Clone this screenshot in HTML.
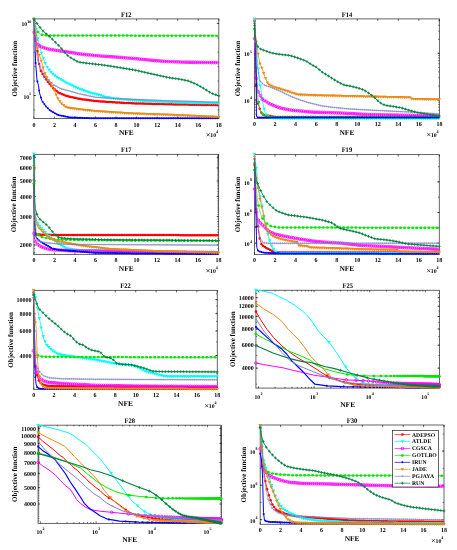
<!DOCTYPE html>
<html><head><meta charset="utf-8"><style>
html,body{margin:0;padding:0;background:#fff;}
svg{display:block;will-change:transform;text-rendering:geometricPrecision;}
text{fill:#000;}
</style></head><body>
<svg width="457" height="550" viewBox="0 0 457 550" font-family='"Liberation Serif", serif'>
<rect width="457" height="550" fill="#fff"/>
<defs><marker id="mADEPSO" markerUnits="userSpaceOnUse" markerWidth="6" markerHeight="6" refX="0" refY="0" viewBox="-3 -3 6 6" overflow="visible"><circle r="1.25" fill="#ff0000"/></marker><marker id="mATLDE" markerUnits="userSpaceOnUse" markerWidth="6" markerHeight="6" refX="0" refY="0" viewBox="-3 -3 6 6" overflow="visible"><path d="M-1.75,-1.2 L1.75,-1.2 L0,1.75Z" fill="#00ffff"/></marker><marker id="mCGSCA" markerUnits="userSpaceOnUse" markerWidth="6" markerHeight="6" refX="0" refY="0" viewBox="-3 -3 6 6" overflow="visible"><circle r="1.35" fill="none" stroke="#ff00ff" stroke-width="0.8"/></marker><marker id="mGOTLBO" markerUnits="userSpaceOnUse" markerWidth="6" markerHeight="6" refX="0" refY="0" viewBox="-3 -3 6 6" overflow="visible"><ellipse rx="1.5" ry="1.25" fill="#00e600"/></marker><marker id="mIRUN" markerUnits="userSpaceOnUse" markerWidth="6" markerHeight="6" refX="0" refY="0" viewBox="-3 -3 6 6" overflow="visible"><circle r="1.0" fill="#0000ff"/></marker><marker id="mJADE" markerUnits="userSpaceOnUse" markerWidth="6" markerHeight="6" refX="0" refY="0" viewBox="-3 -3 6 6" overflow="visible"><path d="M-1.7,-1.1 L1.7,-1.1 L0,1.7Z" fill="#ec8a12"/></marker><marker id="mPGJAYA" markerUnits="userSpaceOnUse" markerWidth="6" markerHeight="6" refX="0" refY="0" viewBox="-3 -3 6 6" overflow="visible"><path d="M-1,0H1M0,-1V1" stroke="#8080c0" stroke-width="0.5"/></marker><marker id="mRUN" markerUnits="userSpaceOnUse" markerWidth="6" markerHeight="6" refX="0" refY="0" viewBox="-3 -3 6 6" overflow="visible"><path d="M-1.4,0H1.4M0,-1.4V1.4" stroke="#008040" stroke-width="0.8"/></marker></defs>
<rect x="33.9" y="18.9" width="184.9" height="99.6" fill="none" stroke="#555" stroke-width="0.9"/>
<path d="M33.90,118.5v-2.0 M33.90,18.9v2.0" stroke="#000" stroke-width="0.6"/>
<text x="33.90" y="126.50" text-anchor="middle" font-size="6.0" font-weight="bold">0</text>
<path d="M54.44,118.5v-2.0 M54.44,18.9v2.0" stroke="#000" stroke-width="0.6"/>
<text x="54.44" y="126.50" text-anchor="middle" font-size="6.0" font-weight="bold">2</text>
<path d="M74.99,118.5v-2.0 M74.99,18.9v2.0" stroke="#000" stroke-width="0.6"/>
<text x="74.99" y="126.50" text-anchor="middle" font-size="6.0" font-weight="bold">4</text>
<path d="M95.53,118.5v-2.0 M95.53,18.9v2.0" stroke="#000" stroke-width="0.6"/>
<text x="95.53" y="126.50" text-anchor="middle" font-size="6.0" font-weight="bold">6</text>
<path d="M116.08,118.5v-2.0 M116.08,18.9v2.0" stroke="#000" stroke-width="0.6"/>
<text x="116.08" y="126.50" text-anchor="middle" font-size="6.0" font-weight="bold">8</text>
<path d="M136.62,118.5v-2.0 M136.62,18.9v2.0" stroke="#000" stroke-width="0.6"/>
<text x="136.62" y="126.50" text-anchor="middle" font-size="6.0" font-weight="bold">10</text>
<path d="M157.17,118.5v-2.0 M157.17,18.9v2.0" stroke="#000" stroke-width="0.6"/>
<text x="157.17" y="126.50" text-anchor="middle" font-size="6.0" font-weight="bold">12</text>
<path d="M177.71,118.5v-2.0 M177.71,18.9v2.0" stroke="#000" stroke-width="0.6"/>
<text x="177.71" y="126.50" text-anchor="middle" font-size="6.0" font-weight="bold">14</text>
<path d="M198.26,118.5v-2.0 M198.26,18.9v2.0" stroke="#000" stroke-width="0.6"/>
<text x="198.26" y="126.50" text-anchor="middle" font-size="6.0" font-weight="bold">16</text>
<path d="M218.80,118.5v-2.0 M218.80,18.9v2.0" stroke="#000" stroke-width="0.6"/>
<text x="218.80" y="126.50" text-anchor="middle" font-size="6.0" font-weight="bold">18</text>
<path d="M33.9,23.40h2 M218.8,23.40h-2" stroke="#000" stroke-width="0.6"/>
<text x="27.00" y="26.40" text-anchor="end" font-size="5.6" font-weight="bold">10</text>
<text x="27.30" y="22.80" font-size="4" font-weight="bold">10</text>
<path d="M33.9,95.50h2 M218.8,95.50h-2" stroke="#000" stroke-width="0.6"/>
<text x="29.00" y="98.50" text-anchor="end" font-size="5.6" font-weight="bold">10</text>
<text x="29.30" y="94.90" font-size="4" font-weight="bold">5</text>
<path d="M33.9,23.40h1.3 M218.8,23.40h-1.3" stroke="#000" stroke-width="0.5"/>
<path d="M33.9,37.82h1.3 M218.8,37.82h-1.3" stroke="#000" stroke-width="0.5"/>
<path d="M33.9,52.24h1.3 M218.8,52.24h-1.3" stroke="#000" stroke-width="0.5"/>
<path d="M33.9,66.66h1.3 M218.8,66.66h-1.3" stroke="#000" stroke-width="0.5"/>
<path d="M33.9,81.08h1.3 M218.8,81.08h-1.3" stroke="#000" stroke-width="0.5"/>
<path d="M33.9,95.50h1.3 M218.8,95.50h-1.3" stroke="#000" stroke-width="0.5"/>
<path d="M33.9,109.92h1.3 M218.8,109.92h-1.3" stroke="#000" stroke-width="0.5"/>
<path d="M34.0,19.0 36.4,42.3 38.6,61.4 40.3,70.0 44.9,77.6 48.7,83.0 53.3,88.3 57.8,92.1 62.4,94.4 68.0,96.3 80.0,99.0 95.0,101.0 115.0,102.4 135.0,103.4 165.0,104.2 219.0,105.2" fill="none" stroke="#ff0000" stroke-width="0.80" stroke-linejoin="round"/>
<path d="M34.0,19.0 35.6,35.0 37.4,50.9 39.1,64.1 40.9,71.0 42.6,73.9 44.4,76.7 46.1,79.3 47.9,81.8 49.6,84.1 51.4,86.1 53.1,88.1 54.9,89.6 56.6,91.1 58.3,92.4 60.1,93.2 61.8,94.1 63.6,94.8 65.3,95.4 67.1,96.0 68.8,96.5 70.6,96.9 72.3,97.3 74.1,97.7 75.8,98.1 77.6,98.5 79.3,98.8 81.0,99.1 82.8,99.4 84.5,99.6 86.3,99.8 88.0,100.1 89.8,100.3 91.5,100.5 93.3,100.8 95.0,101.0 96.8,101.1 98.5,101.2 100.3,101.4 102.0,101.5 103.8,101.6 105.5,101.7 107.2,101.9 109.0,102.0 110.7,102.1 112.5,102.2 114.2,102.3 116.0,102.4 117.7,102.5 119.5,102.6 121.2,102.7 123.0,102.8 124.7,102.9 126.5,103.0 128.2,103.1 129.9,103.1 131.7,103.2 133.4,103.3 135.2,103.4 136.9,103.5 138.7,103.5 140.4,103.5 142.2,103.6 143.9,103.6 145.7,103.7 147.4,103.7 149.2,103.8 150.9,103.8 152.6,103.9 154.4,103.9 156.1,104.0 157.9,104.0 159.6,104.1 161.4,104.1 163.1,104.1 164.9,104.2 166.6,104.2 168.4,104.3 170.1,104.3 171.9,104.3 173.6,104.4 175.3,104.4 177.1,104.4 178.8,104.5 180.6,104.5 182.3,104.5 184.1,104.6 185.8,104.6 187.6,104.6 189.3,104.7 191.1,104.7 192.8,104.7 194.6,104.7 196.3,104.8 198.1,104.8 199.8,104.8 201.5,104.9 203.3,104.9 205.0,104.9 206.8,105.0 208.5,105.0 210.3,105.0 212.0,105.1 213.8,105.1 215.5,105.1 217.3,105.2" fill="none" stroke="none" marker-start="url(#mADEPSO)" marker-mid="url(#mADEPSO)" marker-end="url(#mADEPSO)"/>
<path d="M34.0,19.0 35.0,25.0 36.5,33.0 38.5,42.0 40.5,49.0 42.0,55.0 44.0,60.0 46.0,65.0 48.0,68.5 50.0,71.0 53.0,74.0 56.0,76.5 60.0,79.0 65.0,82.0 70.0,84.5 75.0,87.0 80.0,89.0 90.0,92.8 100.0,95.0 105.0,97.0 115.0,98.6 135.0,100.4 155.0,101.6 185.0,102.6 219.0,103.4" fill="none" stroke="#00ffff" stroke-width="0.80" stroke-linejoin="round"/>
<path d="M34.0,19.0 35.8,29.3 37.7,38.4 39.6,45.9 41.5,53.0 43.4,58.5 45.3,63.3 47.2,67.1 49.1,69.9 51.0,72.0 52.9,73.9 54.8,75.5 56.7,76.9 58.6,78.1 60.5,79.3 62.4,80.4 64.3,81.6 66.2,82.6 68.1,83.6 70.0,84.5 71.9,85.5 73.8,86.4 75.7,87.3 77.6,88.0 79.5,88.8 81.4,89.5 83.3,90.3 85.2,91.0 87.1,91.7 89.0,92.4 90.9,93.0 92.8,93.4 94.7,93.8 96.6,94.3 98.5,94.7 100.4,95.2 102.3,95.9 104.2,96.7 106.1,97.2 108.0,97.5 109.9,97.8 111.8,98.1 113.7,98.4 115.6,98.7 117.5,98.8 119.4,99.0 121.3,99.2 123.2,99.3 125.1,99.5 127.0,99.7 128.9,99.9 130.8,100.0 132.7,100.2 134.6,100.4 136.5,100.5 138.4,100.6 140.3,100.7 142.2,100.8 144.1,100.9 146.0,101.1 147.9,101.2 149.8,101.3 151.7,101.4 153.6,101.5 155.5,101.6 157.4,101.7 159.3,101.7 161.2,101.8 163.1,101.9 165.0,101.9 166.9,102.0 168.8,102.1 170.7,102.1 172.6,102.2 174.5,102.3 176.4,102.3 178.3,102.4 180.2,102.4 182.1,102.5 184.0,102.6 185.9,102.6 187.8,102.7 189.7,102.7 191.6,102.8 193.5,102.8 195.4,102.8 197.3,102.9 199.2,102.9 201.1,103.0 203.0,103.0 204.9,103.1 206.8,103.1 208.7,103.2 210.6,103.2 212.5,103.2 214.4,103.3 216.3,103.3 218.2,103.4" fill="none" stroke="none" marker-start="url(#mATLDE)" marker-mid="url(#mATLDE)" marker-end="url(#mATLDE)"/>
<path d="M34.0,32.3 35.5,39.5 37.3,44.1 40.9,46.8 48.2,49.1 57.3,50.5 70.0,52.3 80.0,54.0 90.0,55.0 100.0,56.0 115.0,57.0 135.0,58.6 155.0,60.6 165.0,61.4 185.0,62.2 219.0,62.6" fill="none" stroke="#ff00ff" stroke-width="0.80" stroke-linejoin="round"/>
<path d="M34.0,32.3 35.9,40.4 37.8,44.5 39.8,45.9 41.7,47.1 43.7,47.7 45.6,48.3 47.6,48.9 49.5,49.3 51.5,49.6 53.4,49.9 55.4,50.2 57.3,50.5 59.3,50.8 61.2,51.1 63.2,51.3 65.1,51.6 67.1,51.9 69.0,52.2 71.0,52.5 72.9,52.8 74.9,53.1 76.8,53.5 78.8,53.8 80.7,54.1 82.7,54.3 84.6,54.5 86.6,54.7 88.5,54.9 90.5,55.0 92.5,55.2 94.4,55.4 96.4,55.6 98.3,55.8 100.3,56.0 102.2,56.1 104.2,56.3 106.1,56.4 108.1,56.5 110.0,56.7 112.0,56.8 113.9,56.9 115.9,57.1 117.8,57.2 119.8,57.4 121.7,57.5 123.7,57.7 125.6,57.9 127.6,58.0 129.5,58.2 131.5,58.3 133.4,58.5 135.4,58.6 137.3,58.8 139.3,59.0 141.2,59.2 143.2,59.4 145.1,59.6 147.1,59.8 149.1,60.0 151.0,60.2 153.0,60.4 154.9,60.6 156.9,60.7 158.8,60.9 160.8,61.1 162.7,61.2 164.7,61.4 166.6,61.5 168.6,61.5 170.5,61.6 172.5,61.7 174.4,61.8 176.4,61.9 178.3,61.9 180.3,62.0 182.2,62.1 184.2,62.2 186.1,62.2 188.1,62.2 190.0,62.3 192.0,62.3 193.9,62.3 195.9,62.3 197.8,62.4 199.8,62.4 201.7,62.4 203.7,62.4 205.7,62.4 207.6,62.5 209.6,62.5 211.5,62.5 213.5,62.5 215.4,62.6 217.4,62.6" fill="none" stroke="none" marker-start="url(#mCGSCA)" marker-mid="url(#mCGSCA)" marker-end="url(#mCGSCA)"/>
<path d="M34.0,19.0 34.1,20.5 36.4,28.6 38.2,32.7 40.9,34.5 48.2,35.6 219.0,35.7" fill="none" stroke="#00ee00" stroke-width="0.60" stroke-linejoin="round"/>
<path d="M34.0,19.0 38.0,32.1 42.0,34.7 46.1,35.3 50.1,35.6 54.2,35.6 58.2,35.6 62.3,35.6 66.4,35.6 70.4,35.6 74.5,35.6 78.5,35.6 82.6,35.6 86.6,35.6 90.7,35.6 94.8,35.6 98.8,35.6 102.9,35.6 106.9,35.6 111.0,35.6 115.1,35.6 119.1,35.6 123.2,35.6 127.2,35.6 131.3,35.6 135.3,35.7 139.4,35.7 143.5,35.7 147.5,35.7 151.6,35.7 155.6,35.7 159.7,35.7 163.7,35.7 167.8,35.7 171.9,35.7 175.9,35.7 180.0,35.7 184.0,35.7 188.1,35.7 192.1,35.7 196.2,35.7 200.3,35.7 204.3,35.7 208.4,35.7 212.4,35.7 216.5,35.7" fill="none" stroke="none" marker-start="url(#mGOTLBO)" marker-mid="url(#mGOTLBO)" marker-end="url(#mGOTLBO)"/>
<path d="M34.0,19.0 34.5,30.0 35.0,42.3 35.6,62.3 37.0,80.0 38.4,85.3 39.5,92.9 41.8,100.5 45.6,105.9 50.2,110.5 58.0,115.0 70.0,117.4 90.0,118.2 219.0,118.3" fill="none" stroke="#0000ff" stroke-width="1.00" stroke-linejoin="round"/>
<path d="M34.0,19.0 35.6,62.9 37.4,81.5 39.1,90.4 40.9,97.5 42.6,101.7 44.4,104.2 46.1,106.4 47.9,108.2 49.6,109.9 51.4,111.2 53.1,112.2 54.9,113.2 56.6,114.2 58.3,115.1 60.1,115.4 61.8,115.8 63.6,116.1 65.3,116.5 67.1,116.8 68.8,117.2 70.6,117.4 72.3,117.5 74.1,117.6 75.8,117.6 77.6,117.7 79.3,117.8 81.0,117.8 82.8,117.9 84.5,118.0 86.3,118.1 88.0,118.1 89.8,118.2 91.5,118.2 93.3,118.2 95.0,118.2 96.8,118.2 98.5,118.2 100.3,118.2 102.0,118.2 103.8,118.2 105.5,118.2 107.2,118.2 109.0,118.2 110.7,118.2 112.5,118.2 114.2,118.2 116.0,118.2 117.7,118.2 119.5,118.2 121.2,118.2 123.0,118.2 124.7,118.2 126.5,118.2 128.2,118.2 129.9,118.2 131.7,118.2 133.4,118.2 135.2,118.2 136.9,118.2 138.7,118.2 140.4,118.2 142.2,118.2 143.9,118.2 145.7,118.2 147.4,118.2 149.2,118.2 150.9,118.2 152.6,118.2 154.4,118.2 156.1,118.3 157.9,118.3 159.6,118.3 161.4,118.3 163.1,118.3 164.9,118.3 166.6,118.3 168.4,118.3 170.1,118.3 171.9,118.3 173.6,118.3 175.3,118.3 177.1,118.3 178.8,118.3 180.6,118.3 182.3,118.3 184.1,118.3 185.8,118.3 187.6,118.3 189.3,118.3 191.1,118.3 192.8,118.3 194.6,118.3 196.3,118.3 198.1,118.3 199.8,118.3 201.5,118.3 203.3,118.3 205.0,118.3 206.8,118.3 208.5,118.3 210.3,118.3 212.0,118.3 213.8,118.3 215.5,118.3 217.3,118.3" fill="none" stroke="none" marker-start="url(#mIRUN)" marker-mid="url(#mIRUN)" marker-end="url(#mIRUN)"/>
<path d="M34.0,19.0 35.9,35.9 37.3,46.8 39.1,54.1 41.8,62.3 44.1,71.5 47.9,79.2 51.0,83.7 54.0,89.8 56.3,95.2 58.6,99.8 61.7,103.6 65.5,106.6 68.0,107.8 80.0,109.4 95.0,111.0 115.0,112.4 135.0,113.6 165.0,114.6 219.0,117.0" fill="none" stroke="#ec8a12" stroke-width="0.80" stroke-linejoin="round"/>
<path d="M34.0,19.0 35.7,34.6 37.6,48.0 39.4,55.2 41.3,60.8 43.1,67.7 45.0,73.3 46.8,77.1 48.7,80.3 50.5,83.0 52.4,86.5 54.2,90.4 56.1,94.7 57.9,98.5 59.8,101.3 61.6,103.5 63.5,105.0 65.3,106.5 67.2,107.4 69.0,107.9 70.9,108.2 72.7,108.4 74.6,108.7 76.4,108.9 78.3,109.2 80.1,109.4 82.0,109.6 83.8,109.8 85.7,110.0 87.5,110.2 89.4,110.4 91.2,110.6 93.1,110.8 94.9,111.0 96.8,111.1 98.6,111.3 100.5,111.4 102.3,111.5 104.2,111.6 106.0,111.8 107.9,111.9 109.7,112.0 111.6,112.2 113.4,112.3 115.3,112.4 117.1,112.5 119.0,112.6 120.8,112.7 122.7,112.9 124.5,113.0 126.3,113.1 128.2,113.2 130.0,113.3 131.9,113.4 133.7,113.5 135.6,113.6 137.4,113.7 139.3,113.7 141.1,113.8 143.0,113.9 144.8,113.9 146.7,114.0 148.5,114.1 150.4,114.1 152.2,114.2 154.1,114.2 155.9,114.3 157.8,114.4 159.6,114.4 161.5,114.5 163.3,114.5 165.2,114.6 167.0,114.7 168.9,114.8 170.7,114.9 172.6,114.9 174.4,115.0 176.3,115.1 178.1,115.2 180.0,115.3 181.8,115.3 183.7,115.4 185.5,115.5 187.4,115.6 189.2,115.7 191.1,115.8 192.9,115.8 194.8,115.9 196.6,116.0 198.5,116.1 200.3,116.2 202.2,116.3 204.0,116.3 205.9,116.4 207.7,116.5 209.6,116.6 211.4,116.7 213.3,116.7 215.1,116.8 217.0,116.9 218.8,117.0" fill="none" stroke="none" marker-start="url(#mJADE)" marker-mid="url(#mJADE)" marker-end="url(#mJADE)"/>
<path d="M34.0,19.0 34.6,40.0 36.0,52.0 38.5,63.0 41.8,70.0 45.6,78.4 49.5,81.5 53.3,84.5 57.1,86.8 60.9,88.7 68.0,90.6 80.0,94.0 95.0,97.2 115.0,98.6 140.0,99.6 165.0,100.6 219.0,102.2" fill="none" stroke="#8080c0" stroke-width="0.60" stroke-linejoin="round"/>
<path d="M34.0,19.0 35.9,51.2 37.9,60.4 39.9,66.0 41.9,70.2 43.9,74.7 45.9,78.7 47.9,80.2 49.9,81.8 51.9,83.4 53.9,84.9 55.9,86.1 57.9,87.2 59.9,88.2 61.9,89.0 63.9,89.5 65.9,90.1 68.0,90.6 70.0,91.2 72.0,91.7 74.0,92.3 76.0,92.9 78.0,93.4 80.0,94.0 82.0,94.4 84.0,94.8 86.0,95.3 88.0,95.7 90.0,96.1 92.0,96.6 94.0,97.0 96.0,97.3 98.0,97.4 100.0,97.6 102.0,97.7 104.0,97.8 106.0,98.0 108.0,98.1 110.0,98.3 112.0,98.4 114.0,98.5 116.0,98.6 118.0,98.7 120.0,98.8 122.0,98.9 124.0,99.0 126.0,99.0 128.0,99.1 130.0,99.2 132.1,99.3 134.1,99.4 136.1,99.4 138.1,99.5 140.1,99.6 142.1,99.7 144.1,99.8 146.1,99.8 148.1,99.9 150.1,100.0 152.1,100.1 154.1,100.2 156.1,100.2 158.1,100.3 160.1,100.4 162.1,100.5 164.1,100.6 166.1,100.6 168.1,100.7 170.1,100.8 172.1,100.8 174.1,100.9 176.1,100.9 178.1,101.0 180.1,101.0 182.1,101.1 184.1,101.2 186.1,101.2 188.1,101.3 190.1,101.3 192.1,101.4 194.1,101.5 196.1,101.5 198.2,101.6 200.2,101.6 202.2,101.7 204.2,101.8 206.2,101.8 208.2,101.9 210.2,101.9 212.2,102.0 214.2,102.1 216.2,102.1 218.2,102.2" fill="none" stroke="none" marker-start="url(#mPGJAYA)" marker-mid="url(#mPGJAYA)" marker-end="url(#mPGJAYA)"/>
<path d="M34.0,19.0 36.0,22.0 38.1,25.1 43.3,31.3 45.5,33.2 50.9,37.7 55.5,42.3 60.0,46.8 64.5,52.3 69.1,56.8 72.0,58.5 78.0,62.0 90.0,63.6 100.0,64.6 115.0,66.8 136.0,70.3 150.0,73.5 158.0,75.3 170.0,77.8 180.0,79.2 188.0,80.8 196.0,84.0 203.0,88.0 211.0,93.0 219.0,96.0" fill="none" stroke="#008040" stroke-width="0.90" stroke-linejoin="round"/>
<path d="M34.0,19.0 37.0,23.4 40.1,27.4 43.1,31.1 46.2,33.8 49.3,36.4 52.4,39.2 55.5,42.3 58.6,45.4 61.6,48.8 64.7,52.5 67.8,55.5 70.9,57.8 74.0,59.6 77.0,61.4 80.1,62.3 83.2,62.7 86.3,63.1 89.4,63.5 92.5,63.8 95.5,64.2 98.6,64.5 101.7,64.8 104.8,65.3 107.9,65.8 110.9,66.2 114.0,66.7 117.1,67.2 120.2,67.7 123.3,68.2 126.3,68.7 129.4,69.2 132.5,69.7 135.6,70.2 138.7,70.9 141.8,71.6 144.8,72.3 147.9,73.0 151.0,73.7 154.1,74.4 157.2,75.1 160.2,75.8 163.3,76.4 166.4,77.1 169.5,77.7 172.6,78.2 175.7,78.6 178.7,79.0 181.8,79.6 184.9,80.2 188.0,80.8 191.1,82.0 194.1,83.3 197.2,84.7 200.3,86.5 203.4,88.2 206.5,90.2 209.6,92.1 212.6,93.6 215.7,94.8 218.8,95.9" fill="none" stroke="none" marker-start="url(#mRUN)" marker-mid="url(#mRUN)" marker-end="url(#mRUN)"/>
<text x="121.10" y="16.70" font-size="7.0" font-weight="bold" textLength="10.5" lengthAdjust="spacingAndGlyphs">F12</text>
<text x="118.90" y="135.00" font-size="7.4" font-weight="bold" textLength="14.9" lengthAdjust="spacingAndGlyphs">NFE</text>
<path d="M206.70,133.30l3,3m0,-3l-3,3" stroke="#222" stroke-width="0.75"/>
<text x="210.30" y="136.80" font-size="5.8" font-weight="bold">10</text>
<text x="216.00" y="132.90" font-size="4" font-weight="bold">4</text>
<text transform="translate(16.60,68.70) rotate(-90)" x="-27.75" font-size="7.2" font-weight="bold" textLength="55.5" lengthAdjust="spacingAndGlyphs">Objective function</text>
<rect x="254.5" y="18.9" width="184.89999999999998" height="99.4" fill="none" stroke="#555" stroke-width="0.9"/>
<path d="M254.50,118.3v-2.0 M254.50,18.9v2.0" stroke="#000" stroke-width="0.6"/>
<text x="254.50" y="126.30" text-anchor="middle" font-size="6.0" font-weight="bold">0</text>
<path d="M275.04,118.3v-2.0 M275.04,18.9v2.0" stroke="#000" stroke-width="0.6"/>
<text x="275.04" y="126.30" text-anchor="middle" font-size="6.0" font-weight="bold">2</text>
<path d="M295.59,118.3v-2.0 M295.59,18.9v2.0" stroke="#000" stroke-width="0.6"/>
<text x="295.59" y="126.30" text-anchor="middle" font-size="6.0" font-weight="bold">4</text>
<path d="M316.13,118.3v-2.0 M316.13,18.9v2.0" stroke="#000" stroke-width="0.6"/>
<text x="316.13" y="126.30" text-anchor="middle" font-size="6.0" font-weight="bold">6</text>
<path d="M336.68,118.3v-2.0 M336.68,18.9v2.0" stroke="#000" stroke-width="0.6"/>
<text x="336.68" y="126.30" text-anchor="middle" font-size="6.0" font-weight="bold">8</text>
<path d="M357.22,118.3v-2.0 M357.22,18.9v2.0" stroke="#000" stroke-width="0.6"/>
<text x="357.22" y="126.30" text-anchor="middle" font-size="6.0" font-weight="bold">10</text>
<path d="M377.77,118.3v-2.0 M377.77,18.9v2.0" stroke="#000" stroke-width="0.6"/>
<text x="377.77" y="126.30" text-anchor="middle" font-size="6.0" font-weight="bold">12</text>
<path d="M398.31,118.3v-2.0 M398.31,18.9v2.0" stroke="#000" stroke-width="0.6"/>
<text x="398.31" y="126.30" text-anchor="middle" font-size="6.0" font-weight="bold">14</text>
<path d="M418.86,118.3v-2.0 M418.86,18.9v2.0" stroke="#000" stroke-width="0.6"/>
<text x="418.86" y="126.30" text-anchor="middle" font-size="6.0" font-weight="bold">16</text>
<path d="M439.40,118.3v-2.0 M439.40,18.9v2.0" stroke="#000" stroke-width="0.6"/>
<text x="439.40" y="126.30" text-anchor="middle" font-size="6.0" font-weight="bold">18</text>
<path d="M254.5,53.20h2 M439.4,53.20h-2" stroke="#000" stroke-width="0.6"/>
<text x="249.60" y="56.20" text-anchor="end" font-size="5.6" font-weight="bold">10</text>
<text x="249.90" y="52.60" font-size="4" font-weight="bold">5</text>
<path d="M254.5,100.00h2 M439.4,100.00h-2" stroke="#000" stroke-width="0.6"/>
<text x="249.60" y="103.00" text-anchor="end" font-size="5.6" font-weight="bold">10</text>
<text x="249.90" y="99.40" font-size="4" font-weight="bold">4</text>
<path d="M254.5,114.03h1.3 M439.4,114.03h-1.3" stroke="#000" stroke-width="0.5"/>
<path d="M254.5,110.34h1.3 M439.4,110.34h-1.3" stroke="#000" stroke-width="0.5"/>
<path d="M254.5,107.22h1.3 M439.4,107.22h-1.3" stroke="#000" stroke-width="0.5"/>
<path d="M254.5,104.52h1.3 M439.4,104.52h-1.3" stroke="#000" stroke-width="0.5"/>
<path d="M254.5,102.13h1.3 M439.4,102.13h-1.3" stroke="#000" stroke-width="0.5"/>
<path d="M254.5,100.00h1.3 M439.4,100.00h-1.3" stroke="#000" stroke-width="0.5"/>
<path d="M254.5,85.97h1.3 M439.4,85.97h-1.3" stroke="#000" stroke-width="0.5"/>
<path d="M254.5,77.77h1.3 M439.4,77.77h-1.3" stroke="#000" stroke-width="0.5"/>
<path d="M254.5,71.94h1.3 M439.4,71.94h-1.3" stroke="#000" stroke-width="0.5"/>
<path d="M254.5,67.43h1.3 M439.4,67.43h-1.3" stroke="#000" stroke-width="0.5"/>
<path d="M254.5,63.74h1.3 M439.4,63.74h-1.3" stroke="#000" stroke-width="0.5"/>
<path d="M254.5,60.62h1.3 M439.4,60.62h-1.3" stroke="#000" stroke-width="0.5"/>
<path d="M254.5,57.92h1.3 M439.4,57.92h-1.3" stroke="#000" stroke-width="0.5"/>
<path d="M254.5,55.53h1.3 M439.4,55.53h-1.3" stroke="#000" stroke-width="0.5"/>
<path d="M254.5,53.40h1.3 M439.4,53.40h-1.3" stroke="#000" stroke-width="0.5"/>
<path d="M254.5,39.37h1.3 M439.4,39.37h-1.3" stroke="#000" stroke-width="0.5"/>
<path d="M254.5,31.17h1.3 M439.4,31.17h-1.3" stroke="#000" stroke-width="0.5"/>
<path d="M254.5,25.34h1.3 M439.4,25.34h-1.3" stroke="#000" stroke-width="0.5"/>
<path d="M254.5,20.83h1.3 M439.4,20.83h-1.3" stroke="#000" stroke-width="0.5"/>
<path d="M254.5,21.0 255.5,60.0 256.5,95.0 257.0,100.5 258.0,103.6 259.1,106.9 260.2,110.2 261.8,113.4 264.0,115.1 268.4,115.8 275.0,117.0 439.4,117.2" fill="none" stroke="#ff0000" stroke-width="0.80" stroke-linejoin="round"/>
<path d="M254.5,21.0 256.2,86.1 258.0,103.6 259.7,108.8 261.5,112.8 263.2,114.5 265.0,115.3 266.7,115.5 268.5,115.8 270.2,116.1 272.0,116.4 273.7,116.8 275.5,117.0 277.2,117.0 278.9,117.0 280.7,117.0 282.4,117.0 284.2,117.0 285.9,117.0 287.7,117.0 289.4,117.0 291.2,117.0 292.9,117.0 294.7,117.0 296.4,117.0 298.2,117.0 299.9,117.0 301.6,117.0 303.4,117.0 305.1,117.0 306.9,117.0 308.6,117.0 310.4,117.0 312.1,117.0 313.9,117.0 315.6,117.0 317.4,117.1 319.1,117.1 320.9,117.1 322.6,117.1 324.4,117.1 326.1,117.1 327.8,117.1 329.6,117.1 331.3,117.1 333.1,117.1 334.8,117.1 336.6,117.1 338.3,117.1 340.1,117.1 341.8,117.1 343.6,117.1 345.3,117.1 347.1,117.1 348.8,117.1 350.5,117.1 352.3,117.1 354.0,117.1 355.8,117.1 357.5,117.1 359.3,117.1 361.0,117.1 362.8,117.1 364.5,117.1 366.3,117.1 368.0,117.1 369.8,117.1 371.5,117.1 373.2,117.1 375.0,117.1 376.7,117.1 378.5,117.1 380.2,117.1 382.0,117.1 383.7,117.1 385.5,117.1 387.2,117.1 389.0,117.1 390.7,117.1 392.5,117.1 394.2,117.1 395.9,117.1 397.7,117.1 399.4,117.2 401.2,117.2 402.9,117.2 404.7,117.2 406.4,117.2 408.2,117.2 409.9,117.2 411.7,117.2 413.4,117.2 415.2,117.2 416.9,117.2 418.7,117.2 420.4,117.2 422.1,117.2 423.9,117.2 425.6,117.2 427.4,117.2 429.1,117.2 430.9,117.2 432.6,117.2 434.4,117.2 436.1,117.2 437.9,117.2" fill="none" stroke="none" marker-start="url(#mADEPSO)" marker-mid="url(#mADEPSO)" marker-end="url(#mADEPSO)"/>
<path d="M254.5,18.6 255.5,35.0 256.5,50.0 257.5,60.0 258.5,70.9 259.6,81.8 261.3,92.7 262.9,103.6 264.5,111.3 266.2,115.6 270.0,117.6 280.0,118.4 439.4,118.6" fill="none" stroke="#00ffff" stroke-width="0.80" stroke-linejoin="round"/>
<path d="M254.5,18.6 256.4,48.5 258.3,68.7 260.2,85.7 262.1,98.2 264.0,108.9 265.9,114.8 267.8,116.4 269.7,117.4 271.6,117.7 273.5,117.9 275.4,118.0 277.3,118.2 279.2,118.3 281.1,118.4 283.0,118.4 284.9,118.4 286.8,118.4 288.7,118.4 290.6,118.4 292.5,118.4 294.4,118.4 296.3,118.4 298.2,118.4 300.1,118.4 302.0,118.4 303.9,118.4 305.8,118.4 307.7,118.4 309.6,118.4 311.5,118.4 313.4,118.4 315.3,118.4 317.2,118.4 319.1,118.4 321.0,118.5 322.9,118.5 324.8,118.5 326.7,118.5 328.6,118.5 330.5,118.5 332.4,118.5 334.3,118.5 336.2,118.5 338.1,118.5 340.0,118.5 341.9,118.5 343.8,118.5 345.7,118.5 347.6,118.5 349.5,118.5 351.4,118.5 353.3,118.5 355.2,118.5 357.1,118.5 359.0,118.5 360.9,118.5 362.8,118.5 364.7,118.5 366.6,118.5 368.5,118.5 370.4,118.5 372.3,118.5 374.2,118.5 376.1,118.5 378.0,118.5 379.9,118.5 381.8,118.5 383.7,118.5 385.6,118.5 387.5,118.5 389.4,118.5 391.3,118.5 393.2,118.5 395.1,118.5 397.0,118.5 398.9,118.5 400.8,118.6 402.7,118.6 404.6,118.6 406.5,118.6 408.4,118.6 410.3,118.6 412.2,118.6 414.1,118.6 416.0,118.6 417.9,118.6 419.8,118.6 421.7,118.6 423.6,118.6 425.5,118.6 427.4,118.6 429.3,118.6 431.2,118.6 433.1,118.6 435.0,118.6 436.9,118.6 438.8,118.6" fill="none" stroke="none" marker-start="url(#mATLDE)" marker-mid="url(#mATLDE)" marker-end="url(#mATLDE)"/>
<path d="M254.5,38.6 256.0,75.0 258.0,91.0 262.0,99.0 270.0,104.0 280.0,108.0 290.0,110.0 310.0,112.0 340.0,113.0 370.0,114.6 439.4,116.0" fill="none" stroke="#ff00ff" stroke-width="0.80" stroke-linejoin="round"/>
<path d="M254.5,38.6 256.5,78.6 258.4,91.8 260.4,95.7 262.3,99.2 264.3,100.4 266.2,101.6 268.2,102.9 270.1,104.0 272.1,104.8 274.0,105.6 276.0,106.4 277.9,107.2 279.9,107.9 281.8,108.4 283.8,108.8 285.7,109.1 287.7,109.5 289.6,109.9 291.6,110.2 293.5,110.4 295.5,110.5 297.4,110.7 299.4,110.9 301.3,111.1 303.3,111.3 305.2,111.5 307.2,111.7 309.1,111.9 311.1,112.0 313.1,112.1 315.0,112.2 317.0,112.2 318.9,112.3 320.9,112.4 322.8,112.4 324.8,112.5 326.7,112.6 328.7,112.6 330.6,112.7 332.6,112.8 334.5,112.8 336.5,112.9 338.4,112.9 340.4,113.0 342.3,113.1 344.3,113.2 346.2,113.3 348.2,113.4 350.1,113.5 352.1,113.6 354.0,113.7 356.0,113.9 357.9,114.0 359.9,114.1 361.8,114.2 363.8,114.3 365.7,114.4 367.7,114.5 369.7,114.6 371.6,114.6 373.6,114.7 375.5,114.7 377.5,114.8 379.4,114.8 381.4,114.8 383.3,114.9 385.3,114.9 387.2,114.9 389.2,115.0 391.1,115.0 393.1,115.1 395.0,115.1 397.0,115.1 398.9,115.2 400.9,115.2 402.8,115.3 404.8,115.3 406.7,115.3 408.7,115.4 410.6,115.4 412.6,115.5 414.5,115.5 416.5,115.5 418.4,115.6 420.4,115.6 422.3,115.7 424.3,115.7 426.3,115.7 428.2,115.8 430.2,115.8 432.1,115.9 434.1,115.9 436.0,115.9 438.0,116.0" fill="none" stroke="none" marker-start="url(#mCGSCA)" marker-mid="url(#mCGSCA)" marker-end="url(#mCGSCA)"/>
<path d="M254.5,29.1 255.5,50.0 256.5,75.0 257.5,92.7 258.0,98.2 259.1,105.8 260.7,111.3 262.9,114.5 266.2,116.0 270.0,117.0 439.4,117.2" fill="none" stroke="#00ee00" stroke-width="0.60" stroke-linejoin="round"/>
<path d="M254.5,29.1 258.6,102.1 262.6,114.1 266.7,116.1 270.7,117.0 274.8,117.0 278.8,117.0 282.9,117.0 287.0,117.0 291.0,117.0 295.1,117.0 299.1,117.0 303.2,117.0 307.2,117.0 311.3,117.0 315.4,117.1 319.4,117.1 323.5,117.1 327.5,117.1 331.6,117.1 335.7,117.1 339.7,117.1 343.8,117.1 347.8,117.1 351.9,117.1 355.9,117.1 360.0,117.1 364.1,117.1 368.1,117.1 372.2,117.1 376.2,117.1 380.3,117.1 384.3,117.1 388.4,117.1 392.5,117.1 396.5,117.1 400.6,117.2 404.6,117.2 408.7,117.2 412.7,117.2 416.8,117.2 420.9,117.2 424.9,117.2 429.0,117.2 433.0,117.2 437.1,117.2" fill="none" stroke="none" marker-start="url(#mGOTLBO)" marker-mid="url(#mGOTLBO)" marker-end="url(#mGOTLBO)"/>
<path d="M254.5,25.5 255.5,40.0 256.2,75.0 256.4,115.0 257.0,117.3 260.0,117.6 439.4,117.6" fill="none" stroke="#0000ff" stroke-width="1.00" stroke-linejoin="round"/>
<path d="M254.5,25.5 256.2,84.3 258.0,117.4 259.7,117.6 261.5,117.6 263.2,117.6 265.0,117.6 266.7,117.6 268.5,117.6 270.2,117.6 272.0,117.6 273.7,117.6 275.5,117.6 277.2,117.6 278.9,117.6 280.7,117.6 282.4,117.6 284.2,117.6 285.9,117.6 287.7,117.6 289.4,117.6 291.2,117.6 292.9,117.6 294.7,117.6 296.4,117.6 298.2,117.6 299.9,117.6 301.6,117.6 303.4,117.6 305.1,117.6 306.9,117.6 308.6,117.6 310.4,117.6 312.1,117.6 313.9,117.6 315.6,117.6 317.4,117.6 319.1,117.6 320.9,117.6 322.6,117.6 324.4,117.6 326.1,117.6 327.8,117.6 329.6,117.6 331.3,117.6 333.1,117.6 334.8,117.6 336.6,117.6 338.3,117.6 340.1,117.6 341.8,117.6 343.6,117.6 345.3,117.6 347.1,117.6 348.8,117.6 350.5,117.6 352.3,117.6 354.0,117.6 355.8,117.6 357.5,117.6 359.3,117.6 361.0,117.6 362.8,117.6 364.5,117.6 366.3,117.6 368.0,117.6 369.8,117.6 371.5,117.6 373.2,117.6 375.0,117.6 376.7,117.6 378.5,117.6 380.2,117.6 382.0,117.6 383.7,117.6 385.5,117.6 387.2,117.6 389.0,117.6 390.7,117.6 392.5,117.6 394.2,117.6 395.9,117.6 397.7,117.6 399.4,117.6 401.2,117.6 402.9,117.6 404.7,117.6 406.4,117.6 408.2,117.6 409.9,117.6 411.7,117.6 413.4,117.6 415.2,117.6 416.9,117.6 418.7,117.6 420.4,117.6 422.1,117.6 423.9,117.6 425.6,117.6 427.4,117.6 429.1,117.6 430.9,117.6 432.6,117.6 434.4,117.6 436.1,117.6 437.9,117.6" fill="none" stroke="none" marker-start="url(#mIRUN)" marker-mid="url(#mIRUN)" marker-end="url(#mIRUN)"/>
<path d="M254.5,20.5 255.7,37.7 257.1,46.8 258.5,55.9 259.8,63.2 262.0,68.0 265.0,77.0 268.0,84.0 274.0,87.0 284.0,90.0 298.0,94.6 320.0,95.4 370.0,96.6 410.0,97.4 412.0,99.0 439.4,99.4" fill="none" stroke="#ec8a12" stroke-width="0.80" stroke-linejoin="round"/>
<path d="M254.5,20.5 256.3,41.9 258.2,53.9 260.0,63.7 261.9,67.8 263.7,73.2 265.6,78.4 267.4,82.7 269.3,84.6 271.1,85.6 273.0,86.5 274.8,87.3 276.7,87.8 278.5,88.4 280.4,88.9 282.2,89.5 284.1,90.0 285.9,90.6 287.8,91.2 289.6,91.9 291.5,92.5 293.3,93.1 295.2,93.7 297.0,94.3 298.9,94.6 300.7,94.7 302.6,94.8 304.4,94.8 306.3,94.9 308.1,95.0 310.0,95.0 311.8,95.1 313.7,95.2 315.5,95.2 317.4,95.3 319.2,95.4 321.1,95.4 322.9,95.5 324.8,95.5 326.6,95.6 328.5,95.6 330.3,95.6 332.2,95.7 334.0,95.7 335.9,95.8 337.7,95.8 339.6,95.9 341.4,95.9 343.3,96.0 345.1,96.0 346.9,96.0 348.8,96.1 350.6,96.1 352.5,96.2 354.3,96.2 356.2,96.3 358.0,96.3 359.9,96.4 361.7,96.4 363.6,96.4 365.4,96.5 367.3,96.5 369.1,96.6 371.0,96.6 372.8,96.7 374.7,96.7 376.5,96.7 378.4,96.8 380.2,96.8 382.1,96.8 383.9,96.9 385.8,96.9 387.6,97.0 389.5,97.0 391.3,97.0 393.2,97.1 395.0,97.1 396.9,97.1 398.7,97.2 400.6,97.2 402.4,97.2 404.3,97.3 406.1,97.3 408.0,97.4 409.8,97.4 411.7,98.7 413.5,99.0 415.4,99.0 417.2,99.1 419.1,99.1 420.9,99.1 422.8,99.2 424.6,99.2 426.5,99.2 428.3,99.2 430.2,99.3 432.0,99.3 433.9,99.3 435.7,99.3 437.6,99.4 439.4,99.4" fill="none" stroke="none" marker-start="url(#mJADE)" marker-mid="url(#mJADE)" marker-end="url(#mJADE)"/>
<path d="M254.5,21.0 257.0,65.0 260.0,81.0 264.0,85.0 270.0,87.0 280.0,91.0 290.0,96.0 300.0,100.0 310.0,103.0 320.0,105.5 330.0,107.0 350.0,109.0 380.0,110.6 410.0,112.0 439.4,114.0" fill="none" stroke="#8080c0" stroke-width="0.60" stroke-linejoin="round"/>
<path d="M254.5,21.0 256.5,56.3 258.5,73.0 260.5,81.5 262.5,83.5 264.5,85.2 266.5,85.8 268.5,86.5 270.5,87.2 272.5,88.0 274.5,88.8 276.5,89.6 278.5,90.4 280.5,91.3 282.5,92.3 284.5,93.3 286.5,94.3 288.6,95.3 290.6,96.2 292.6,97.0 294.6,97.8 296.6,98.6 298.6,99.4 300.6,100.2 302.6,100.8 304.6,101.4 306.6,102.0 308.6,102.6 310.6,103.1 312.6,103.6 314.6,104.1 316.6,104.6 318.6,105.1 320.6,105.6 322.6,105.9 324.6,106.2 326.6,106.5 328.6,106.8 330.6,107.1 332.6,107.3 334.6,107.5 336.6,107.7 338.6,107.9 340.6,108.1 342.6,108.3 344.6,108.5 346.6,108.7 348.6,108.9 350.6,109.0 352.7,109.1 354.7,109.2 356.7,109.4 358.7,109.5 360.7,109.6 362.7,109.7 364.7,109.8 366.7,109.9 368.7,110.0 370.7,110.1 372.7,110.2 374.7,110.3 376.7,110.4 378.7,110.5 380.7,110.6 382.7,110.7 384.7,110.8 386.7,110.9 388.7,111.0 390.7,111.1 392.7,111.2 394.7,111.3 396.7,111.4 398.7,111.5 400.7,111.6 402.7,111.7 404.7,111.8 406.7,111.8 408.7,111.9 410.7,112.1 412.7,112.2 414.7,112.3 416.7,112.5 418.8,112.6 420.8,112.7 422.8,112.9 424.8,113.0 426.8,113.1 428.8,113.3 430.8,113.4 432.8,113.5 434.8,113.7 436.8,113.8 438.8,114.0" fill="none" stroke="none" marker-start="url(#mPGJAYA)" marker-mid="url(#mPGJAYA)" marker-end="url(#mPGJAYA)"/>
<path d="M254.5,23.2 255.3,37.7 257.1,45.9 259.8,48.6 264.4,50.5 270.7,52.7 277.0,54.0 290.0,55.5 298.0,58.0 306.0,61.0 312.0,65.0 316.0,67.0 322.0,72.0 330.0,77.0 338.0,82.0 344.0,85.0 350.0,86.0 358.0,88.0 364.0,90.0 370.0,94.0 374.0,97.0 378.0,101.0 382.0,104.0 386.0,105.4 394.0,106.6 402.0,108.0 410.0,110.6 418.0,112.6 426.0,114.0 439.4,116.0" fill="none" stroke="#008040" stroke-width="0.90" stroke-linejoin="round"/>
<path d="M254.5,23.2 257.6,46.4 260.7,49.0 263.7,50.2 266.8,51.3 269.9,52.4 273.0,53.2 276.1,53.8 279.2,54.2 282.2,54.6 285.3,55.0 288.4,55.3 291.5,56.0 294.6,56.9 297.6,57.9 300.7,59.0 303.8,60.2 306.9,61.6 310.0,63.6 313.1,65.5 316.1,67.1 319.2,69.7 322.3,72.2 325.4,74.1 328.5,76.0 331.5,78.0 334.6,79.9 337.7,81.8 340.8,83.4 343.9,84.9 346.9,85.5 350.0,86.0 353.1,86.8 356.2,87.5 359.3,88.4 362.4,89.5 365.4,91.0 368.5,93.0 371.6,95.2 374.7,97.7 377.8,100.8 380.8,103.1 383.9,104.7 387.0,105.6 390.1,106.0 393.2,106.5 396.3,107.0 399.3,107.5 402.4,108.1 405.5,109.1 408.6,110.1 411.7,111.0 414.7,111.8 417.8,112.6 420.9,113.1 424.0,113.6 427.1,114.2 430.2,114.6 433.2,115.1 436.3,115.5 439.4,116.0" fill="none" stroke="none" marker-start="url(#mRUN)" marker-mid="url(#mRUN)" marker-end="url(#mRUN)"/>
<text x="341.70" y="16.70" font-size="7.0" font-weight="bold" textLength="10.5" lengthAdjust="spacingAndGlyphs">F14</text>
<text x="339.50" y="134.80" font-size="7.4" font-weight="bold" textLength="14.9" lengthAdjust="spacingAndGlyphs">NFE</text>
<path d="M427.30,133.10l3,3m0,-3l-3,3" stroke="#222" stroke-width="0.75"/>
<text x="430.90" y="136.60" font-size="5.8" font-weight="bold">10</text>
<text x="436.60" y="132.70" font-size="4" font-weight="bold">4</text>
<text transform="translate(239.70,68.60) rotate(-90)" x="-27.75" font-size="7.2" font-weight="bold" textLength="55.5" lengthAdjust="spacingAndGlyphs">Objective function</text>
<rect x="33.9" y="154.4" width="184.7" height="100.0" fill="none" stroke="#555" stroke-width="0.9"/>
<path d="M33.90,254.4v-2.0 M33.90,154.4v2.0" stroke="#000" stroke-width="0.6"/>
<text x="33.90" y="262.40" text-anchor="middle" font-size="6.0" font-weight="bold">0</text>
<path d="M54.42,254.4v-2.0 M54.42,154.4v2.0" stroke="#000" stroke-width="0.6"/>
<text x="54.42" y="262.40" text-anchor="middle" font-size="6.0" font-weight="bold">2</text>
<path d="M74.94,254.4v-2.0 M74.94,154.4v2.0" stroke="#000" stroke-width="0.6"/>
<text x="74.94" y="262.40" text-anchor="middle" font-size="6.0" font-weight="bold">4</text>
<path d="M95.47,254.4v-2.0 M95.47,154.4v2.0" stroke="#000" stroke-width="0.6"/>
<text x="95.47" y="262.40" text-anchor="middle" font-size="6.0" font-weight="bold">6</text>
<path d="M115.99,254.4v-2.0 M115.99,154.4v2.0" stroke="#000" stroke-width="0.6"/>
<text x="115.99" y="262.40" text-anchor="middle" font-size="6.0" font-weight="bold">8</text>
<path d="M136.51,254.4v-2.0 M136.51,154.4v2.0" stroke="#000" stroke-width="0.6"/>
<text x="136.51" y="262.40" text-anchor="middle" font-size="6.0" font-weight="bold">10</text>
<path d="M157.03,254.4v-2.0 M157.03,154.4v2.0" stroke="#000" stroke-width="0.6"/>
<text x="157.03" y="262.40" text-anchor="middle" font-size="6.0" font-weight="bold">12</text>
<path d="M177.56,254.4v-2.0 M177.56,154.4v2.0" stroke="#000" stroke-width="0.6"/>
<text x="177.56" y="262.40" text-anchor="middle" font-size="6.0" font-weight="bold">14</text>
<path d="M198.08,254.4v-2.0 M198.08,154.4v2.0" stroke="#000" stroke-width="0.6"/>
<text x="198.08" y="262.40" text-anchor="middle" font-size="6.0" font-weight="bold">16</text>
<path d="M218.60,254.4v-2.0 M218.60,154.4v2.0" stroke="#000" stroke-width="0.6"/>
<text x="218.60" y="262.40" text-anchor="middle" font-size="6.0" font-weight="bold">18</text>
<path d="M33.9,157.50h2 M218.6,157.50h-2" stroke="#000" stroke-width="0.6"/>
<text x="31.80" y="159.60" text-anchor="end" font-size="6.0" font-weight="bold">7000</text>
<path d="M33.9,167.90h2 M218.6,167.90h-2" stroke="#000" stroke-width="0.6"/>
<text x="31.80" y="170.00" text-anchor="end" font-size="6.0" font-weight="bold">6000</text>
<path d="M33.9,181.00h2 M218.6,181.00h-2" stroke="#000" stroke-width="0.6"/>
<text x="31.80" y="183.10" text-anchor="end" font-size="6.0" font-weight="bold">5000</text>
<path d="M33.9,196.40h2 M218.6,196.40h-2" stroke="#000" stroke-width="0.6"/>
<text x="31.80" y="198.50" text-anchor="end" font-size="6.0" font-weight="bold">4000</text>
<path d="M33.9,216.60h2 M218.6,216.60h-2" stroke="#000" stroke-width="0.6"/>
<text x="31.80" y="218.70" text-anchor="end" font-size="6.0" font-weight="bold">3000</text>
<path d="M33.9,245.00h2 M218.6,245.00h-2" stroke="#000" stroke-width="0.6"/>
<text x="31.80" y="247.10" text-anchor="end" font-size="6.0" font-weight="bold">2000</text>
<path d="M33.9,252.36h1.3 M218.6,252.36h-1.3" stroke="#000" stroke-width="0.5"/>
<path d="M33.9,248.58h1.3 M218.6,248.58h-1.3" stroke="#000" stroke-width="0.5"/>
<path d="M33.9,245.00h1.3 M218.6,245.00h-1.3" stroke="#000" stroke-width="0.5"/>
<path d="M33.9,241.59h1.3 M218.6,241.59h-1.3" stroke="#000" stroke-width="0.5"/>
<path d="M33.9,238.34h1.3 M218.6,238.34h-1.3" stroke="#000" stroke-width="0.5"/>
<path d="M33.9,235.24h1.3 M218.6,235.24h-1.3" stroke="#000" stroke-width="0.5"/>
<path d="M33.9,232.27h1.3 M218.6,232.27h-1.3" stroke="#000" stroke-width="0.5"/>
<path d="M33.9,229.42h1.3 M218.6,229.42h-1.3" stroke="#000" stroke-width="0.5"/>
<path d="M33.9,226.68h1.3 M218.6,226.68h-1.3" stroke="#000" stroke-width="0.5"/>
<path d="M33.9,224.04h1.3 M218.6,224.04h-1.3" stroke="#000" stroke-width="0.5"/>
<path d="M33.9,221.50h1.3 M218.6,221.50h-1.3" stroke="#000" stroke-width="0.5"/>
<path d="M33.9,219.05h1.3 M218.6,219.05h-1.3" stroke="#000" stroke-width="0.5"/>
<path d="M33.9,216.68h1.3 M218.6,216.68h-1.3" stroke="#000" stroke-width="0.5"/>
<path d="M33.9,214.39h1.3 M218.6,214.39h-1.3" stroke="#000" stroke-width="0.5"/>
<path d="M33.9,212.18h1.3 M218.6,212.18h-1.3" stroke="#000" stroke-width="0.5"/>
<path d="M33.9,210.03h1.3 M218.6,210.03h-1.3" stroke="#000" stroke-width="0.5"/>
<path d="M33.9,207.94h1.3 M218.6,207.94h-1.3" stroke="#000" stroke-width="0.5"/>
<path d="M33.9,205.92h1.3 M218.6,205.92h-1.3" stroke="#000" stroke-width="0.5"/>
<path d="M33.9,203.95h1.3 M218.6,203.95h-1.3" stroke="#000" stroke-width="0.5"/>
<path d="M33.9,202.04h1.3 M218.6,202.04h-1.3" stroke="#000" stroke-width="0.5"/>
<path d="M33.9,200.18h1.3 M218.6,200.18h-1.3" stroke="#000" stroke-width="0.5"/>
<path d="M33.9,198.36h1.3 M218.6,198.36h-1.3" stroke="#000" stroke-width="0.5"/>
<path d="M33.9,196.59h1.3 M218.6,196.59h-1.3" stroke="#000" stroke-width="0.5"/>
<path d="M33.9,194.87h1.3 M218.6,194.87h-1.3" stroke="#000" stroke-width="0.5"/>
<path d="M33.9,193.19h1.3 M218.6,193.19h-1.3" stroke="#000" stroke-width="0.5"/>
<path d="M33.9,191.54h1.3 M218.6,191.54h-1.3" stroke="#000" stroke-width="0.5"/>
<path d="M33.9,189.94h1.3 M218.6,189.94h-1.3" stroke="#000" stroke-width="0.5"/>
<path d="M33.9,188.37h1.3 M218.6,188.37h-1.3" stroke="#000" stroke-width="0.5"/>
<path d="M33.9,186.83h1.3 M218.6,186.83h-1.3" stroke="#000" stroke-width="0.5"/>
<path d="M33.9,185.33h1.3 M218.6,185.33h-1.3" stroke="#000" stroke-width="0.5"/>
<path d="M33.9,183.86h1.3 M218.6,183.86h-1.3" stroke="#000" stroke-width="0.5"/>
<path d="M33.9,182.42h1.3 M218.6,182.42h-1.3" stroke="#000" stroke-width="0.5"/>
<path d="M33.9,181.01h1.3 M218.6,181.01h-1.3" stroke="#000" stroke-width="0.5"/>
<path d="M33.9,179.63h1.3 M218.6,179.63h-1.3" stroke="#000" stroke-width="0.5"/>
<path d="M33.9,178.27h1.3 M218.6,178.27h-1.3" stroke="#000" stroke-width="0.5"/>
<path d="M33.9,176.94h1.3 M218.6,176.94h-1.3" stroke="#000" stroke-width="0.5"/>
<path d="M33.9,175.64h1.3 M218.6,175.64h-1.3" stroke="#000" stroke-width="0.5"/>
<path d="M33.9,174.36h1.3 M218.6,174.36h-1.3" stroke="#000" stroke-width="0.5"/>
<path d="M33.9,173.10h1.3 M218.6,173.10h-1.3" stroke="#000" stroke-width="0.5"/>
<path d="M33.9,171.86h1.3 M218.6,171.86h-1.3" stroke="#000" stroke-width="0.5"/>
<path d="M33.9,170.65h1.3 M218.6,170.65h-1.3" stroke="#000" stroke-width="0.5"/>
<path d="M33.9,169.45h1.3 M218.6,169.45h-1.3" stroke="#000" stroke-width="0.5"/>
<path d="M33.9,168.28h1.3 M218.6,168.28h-1.3" stroke="#000" stroke-width="0.5"/>
<path d="M33.9,167.12h1.3 M218.6,167.12h-1.3" stroke="#000" stroke-width="0.5"/>
<path d="M33.9,165.99h1.3 M218.6,165.99h-1.3" stroke="#000" stroke-width="0.5"/>
<path d="M33.9,164.87h1.3 M218.6,164.87h-1.3" stroke="#000" stroke-width="0.5"/>
<path d="M33.9,163.77h1.3 M218.6,163.77h-1.3" stroke="#000" stroke-width="0.5"/>
<path d="M33.9,162.69h1.3 M218.6,162.69h-1.3" stroke="#000" stroke-width="0.5"/>
<path d="M33.9,161.62h1.3 M218.6,161.62h-1.3" stroke="#000" stroke-width="0.5"/>
<path d="M33.9,160.57h1.3 M218.6,160.57h-1.3" stroke="#000" stroke-width="0.5"/>
<path d="M33.9,159.54h1.3 M218.6,159.54h-1.3" stroke="#000" stroke-width="0.5"/>
<path d="M33.9,158.52h1.3 M218.6,158.52h-1.3" stroke="#000" stroke-width="0.5"/>
<path d="M33.9,157.51h1.3 M218.6,157.51h-1.3" stroke="#000" stroke-width="0.5"/>
<path d="M33.9,156.52h1.3 M218.6,156.52h-1.3" stroke="#000" stroke-width="0.5"/>
<path d="M33.9,155.55h1.3 M218.6,155.55h-1.3" stroke="#000" stroke-width="0.5"/>
<path d="M33.9,180.0 34.4,210.0 35.0,226.0 35.5,233.5 37.0,234.4 40.5,234.7 60.0,235.0 218.6,235.2" fill="none" stroke="#ff0000" stroke-width="0.80" stroke-linejoin="round"/>
<path d="M33.9,180.0 35.6,233.6 37.4,234.4 39.1,234.6 40.9,234.7 42.6,234.7 44.4,234.8 46.1,234.8 47.9,234.8 49.6,234.8 51.3,234.9 53.1,234.9 54.8,234.9 56.6,234.9 58.3,235.0 60.1,235.0 61.8,235.0 63.6,235.0 65.3,235.0 67.0,235.0 68.8,235.0 70.5,235.0 72.3,235.0 74.0,235.0 75.8,235.0 77.5,235.0 79.3,235.0 81.0,235.0 82.7,235.0 84.5,235.0 86.2,235.0 88.0,235.0 89.7,235.0 91.5,235.0 93.2,235.0 95.0,235.0 96.7,235.0 98.4,235.0 100.2,235.1 101.9,235.1 103.7,235.1 105.4,235.1 107.2,235.1 108.9,235.1 110.7,235.1 112.4,235.1 114.1,235.1 115.9,235.1 117.6,235.1 119.4,235.1 121.1,235.1 122.9,235.1 124.6,235.1 126.4,235.1 128.1,235.1 129.8,235.1 131.6,235.1 133.3,235.1 135.1,235.1 136.8,235.1 138.6,235.1 140.3,235.1 142.1,235.1 143.8,235.1 145.5,235.1 147.3,235.1 149.0,235.1 150.8,235.1 152.5,235.1 154.3,235.1 156.0,235.1 157.8,235.1 159.5,235.1 161.2,235.1 163.0,235.1 164.7,235.1 166.5,235.1 168.2,235.1 170.0,235.1 171.7,235.1 173.5,235.1 175.2,235.1 176.9,235.1 178.7,235.1 180.4,235.2 182.2,235.2 183.9,235.2 185.7,235.2 187.4,235.2 189.2,235.2 190.9,235.2 192.6,235.2 194.4,235.2 196.1,235.2 197.9,235.2 199.6,235.2 201.4,235.2 203.1,235.2 204.9,235.2 206.6,235.2 208.3,235.2 210.1,235.2 211.8,235.2 213.6,235.2 215.3,235.2 217.1,235.2" fill="none" stroke="none" marker-start="url(#mADEPSO)" marker-mid="url(#mADEPSO)" marker-end="url(#mADEPSO)"/>
<path d="M33.9,153.8 34.2,190.0 34.8,210.0 35.8,219.0 38.4,224.3 41.6,228.5 45.8,232.7 51.1,238.0 56.4,242.2 61.6,245.4 66.0,248.4 76.4,250.0 110.0,250.8 140.0,251.8 218.6,252.8" fill="none" stroke="#00ffff" stroke-width="0.80" stroke-linejoin="round"/>
<path d="M33.9,153.8 35.8,219.0 37.7,222.9 39.6,225.9 41.5,228.4 43.4,230.3 45.3,232.2 47.2,234.1 49.1,236.0 51.0,237.9 52.9,239.4 54.8,240.9 56.7,242.4 58.6,243.5 60.5,244.7 62.4,245.9 64.3,247.2 66.2,248.4 68.1,248.7 70.0,249.0 71.9,249.3 73.8,249.6 75.7,249.9 77.6,250.0 79.5,250.1 81.4,250.1 83.3,250.2 85.2,250.2 87.1,250.3 89.0,250.3 90.8,250.3 92.7,250.4 94.6,250.4 96.5,250.5 98.4,250.5 100.3,250.6 102.2,250.6 104.1,250.7 106.0,250.7 107.9,250.8 109.8,250.8 111.7,250.9 113.6,250.9 115.5,251.0 117.4,251.0 119.3,251.1 121.2,251.2 123.1,251.2 125.0,251.3 126.9,251.4 128.8,251.4 130.7,251.5 132.6,251.6 134.5,251.6 136.4,251.7 138.3,251.7 140.2,251.8 142.1,251.8 144.0,251.9 145.9,251.9 147.8,251.9 149.7,251.9 151.6,251.9 153.5,252.0 155.4,252.0 157.3,252.0 159.2,252.0 161.1,252.1 163.0,252.1 164.9,252.1 166.8,252.1 168.7,252.2 170.6,252.2 172.5,252.2 174.4,252.2 176.3,252.3 178.2,252.3 180.1,252.3 182.0,252.3 183.9,252.4 185.8,252.4 187.7,252.4 189.6,252.4 191.5,252.5 193.4,252.5 195.3,252.5 197.2,252.5 199.1,252.6 201.0,252.6 202.8,252.6 204.7,252.6 206.6,252.6 208.5,252.7 210.4,252.7 212.3,252.7 214.2,252.7 216.1,252.8 218.0,252.8" fill="none" stroke="none" marker-start="url(#mATLDE)" marker-mid="url(#mATLDE)" marker-end="url(#mATLDE)"/>
<path d="M33.9,233.5 35.3,241.1 37.4,244.3 40.5,246.4 45.8,248.5 51.1,249.6 70.0,250.8 110.0,251.4 218.6,252.6" fill="none" stroke="#ff00ff" stroke-width="0.80" stroke-linejoin="round"/>
<path d="M33.9,233.5 35.8,241.9 37.8,244.6 39.7,245.9 41.7,246.9 43.6,247.6 45.6,248.4 47.5,248.9 49.5,249.3 51.4,249.6 53.4,249.7 55.3,249.9 57.3,250.0 59.2,250.1 61.2,250.2 63.1,250.4 65.1,250.5 67.0,250.6 69.0,250.7 70.9,250.8 72.9,250.8 74.8,250.9 76.8,250.9 78.7,250.9 80.7,251.0 82.6,251.0 84.6,251.0 86.5,251.0 88.5,251.1 90.4,251.1 92.4,251.1 94.3,251.2 96.3,251.2 98.2,251.2 100.2,251.3 102.1,251.3 104.1,251.3 106.0,251.3 108.0,251.4 109.9,251.4 111.9,251.4 113.8,251.4 115.8,251.5 117.7,251.5 119.7,251.5 121.6,251.5 123.6,251.6 125.5,251.6 127.5,251.6 129.4,251.6 131.4,251.6 133.3,251.7 135.3,251.7 137.2,251.7 139.2,251.7 141.1,251.7 143.1,251.8 145.0,251.8 147.0,251.8 148.9,251.8 150.9,251.9 152.8,251.9 154.8,251.9 156.7,251.9 158.7,251.9 160.6,252.0 162.6,252.0 164.5,252.0 166.5,252.0 168.4,252.0 170.4,252.1 172.3,252.1 174.3,252.1 176.2,252.1 178.2,252.2 180.1,252.2 182.1,252.2 184.0,252.2 186.0,252.2 187.9,252.3 189.9,252.3 191.8,252.3 193.8,252.3 195.7,252.3 197.7,252.4 199.6,252.4 201.6,252.4 203.5,252.4 205.5,252.5 207.4,252.5 209.4,252.5 211.3,252.5 213.3,252.5 215.2,252.6 217.2,252.6" fill="none" stroke="none" marker-start="url(#mCGSCA)" marker-mid="url(#mCGSCA)" marker-end="url(#mCGSCA)"/>
<path d="M33.9,183.5 34.5,205.0 35.3,221.0 36.3,231.6 38.4,235.9 41.6,236.9 45.8,238.0 51.1,239.0 57.4,239.6 110.0,240.3 218.6,240.9" fill="none" stroke="#00ee00" stroke-width="0.60" stroke-linejoin="round"/>
<path d="M33.9,183.5 38.0,235.0 42.0,237.0 46.1,238.0 50.1,238.8 54.2,239.3 58.2,239.6 62.3,239.7 66.3,239.7 70.4,239.8 74.4,239.8 78.5,239.9 82.5,239.9 86.6,240.0 90.6,240.0 94.7,240.1 98.8,240.2 102.8,240.2 106.9,240.3 110.9,240.3 115.0,240.3 119.0,240.3 123.1,240.4 127.1,240.4 131.2,240.4 135.2,240.4 139.3,240.5 143.3,240.5 147.4,240.5 151.4,240.5 155.5,240.6 159.5,240.6 163.6,240.6 167.7,240.6 171.7,240.6 175.8,240.7 179.8,240.7 183.9,240.7 187.9,240.7 192.0,240.8 196.0,240.8 200.1,240.8 204.1,240.8 208.2,240.8 212.2,240.9 216.3,240.9" fill="none" stroke="none" marker-start="url(#mGOTLBO)" marker-mid="url(#mGOTLBO)" marker-end="url(#mGOTLBO)"/>
<path d="M33.9,185.6 34.4,215.0 34.8,226.4 35.8,236.9 38.4,240.0 41.6,242.2 44.8,244.3 49.0,246.4 52.2,248.5 57.4,249.6 70.0,250.8 95.0,252.8 140.0,253.5 218.6,254.0" fill="none" stroke="#0000ff" stroke-width="1.00" stroke-linejoin="round"/>
<path d="M33.9,185.6 35.6,235.3 37.4,238.8 39.1,240.5 40.9,241.7 42.6,242.9 44.4,244.0 46.1,245.0 47.9,245.8 49.6,246.8 51.3,247.9 53.1,248.7 54.8,249.1 56.6,249.4 58.3,249.7 60.1,249.9 61.8,250.0 63.6,250.2 65.3,250.4 67.0,250.5 68.8,250.7 70.5,250.8 72.3,251.0 74.0,251.1 75.8,251.3 77.5,251.4 79.3,251.5 81.0,251.7 82.7,251.8 84.5,252.0 86.2,252.1 88.0,252.2 89.7,252.4 91.5,252.5 93.2,252.7 95.0,252.8 96.7,252.8 98.4,252.9 100.2,252.9 101.9,252.9 103.7,252.9 105.4,253.0 107.2,253.0 108.9,253.0 110.7,253.0 112.4,253.1 114.1,253.1 115.9,253.1 117.6,253.2 119.4,253.2 121.1,253.2 122.9,253.2 124.6,253.3 126.4,253.3 128.1,253.3 129.8,253.3 131.6,253.4 133.3,253.4 135.1,253.4 136.8,253.5 138.6,253.5 140.3,253.5 142.1,253.5 143.8,253.5 145.5,253.5 147.3,253.5 149.0,253.6 150.8,253.6 152.5,253.6 154.3,253.6 156.0,253.6 157.8,253.6 159.5,253.6 161.2,253.6 163.0,253.6 164.7,253.7 166.5,253.7 168.2,253.7 170.0,253.7 171.7,253.7 173.5,253.7 175.2,253.7 176.9,253.7 178.7,253.7 180.4,253.8 182.2,253.8 183.9,253.8 185.7,253.8 187.4,253.8 189.2,253.8 190.9,253.8 192.6,253.8 194.4,253.8 196.1,253.9 197.9,253.9 199.6,253.9 201.4,253.9 203.1,253.9 204.9,253.9 206.6,253.9 208.3,253.9 210.1,253.9 211.8,254.0 213.6,254.0 215.3,254.0 217.1,254.0" fill="none" stroke="none" marker-start="url(#mIRUN)" marker-mid="url(#mIRUN)" marker-end="url(#mIRUN)"/>
<path d="M33.9,166.0 34.3,200.0 34.7,212.7 35.8,221.1 38.4,227.4 42.7,231.6 46.9,235.9 51.1,239.0 57.4,241.1 70.0,243.5 81.9,245.7 110.0,249.0 158.0,251.2 218.6,252.8" fill="none" stroke="#ec8a12" stroke-width="0.80" stroke-linejoin="round"/>
<path d="M33.9,166.0 35.7,220.7 37.6,225.4 39.4,228.4 41.3,230.2 43.1,232.0 45.0,233.9 46.8,235.8 48.7,237.2 50.5,238.6 52.4,239.4 54.2,240.0 56.1,240.7 57.9,241.2 59.8,241.5 61.6,241.9 63.5,242.3 65.3,242.6 67.1,243.0 69.0,243.3 70.8,243.7 72.7,244.0 74.5,244.3 76.4,244.7 78.2,245.0 80.1,245.4 81.9,245.7 83.8,245.9 85.6,246.1 87.5,246.4 89.3,246.6 91.2,246.8 93.0,247.0 94.9,247.2 96.7,247.4 98.5,247.7 100.4,247.9 102.2,248.1 104.1,248.3 105.9,248.5 107.8,248.7 109.6,249.0 111.5,249.1 113.3,249.2 115.2,249.2 117.0,249.3 118.9,249.4 120.7,249.5 122.6,249.6 124.4,249.7 126.2,249.7 128.1,249.8 129.9,249.9 131.8,250.0 133.6,250.1 135.5,250.2 137.3,250.3 139.2,250.3 141.0,250.4 142.9,250.5 144.7,250.6 146.6,250.7 148.4,250.8 150.3,250.8 152.1,250.9 154.0,251.0 155.8,251.1 157.6,251.2 159.5,251.2 161.3,251.3 163.2,251.3 165.0,251.4 166.9,251.4 168.7,251.5 170.6,251.5 172.4,251.6 174.3,251.6 176.1,251.7 178.0,251.7 179.8,251.8 181.7,251.8 183.5,251.9 185.4,251.9 187.2,252.0 189.0,252.0 190.9,252.1 192.7,252.1 194.6,252.2 196.4,252.2 198.3,252.3 200.1,252.3 202.0,252.4 203.8,252.4 205.7,252.5 207.5,252.5 209.4,252.6 211.2,252.6 213.1,252.7 214.9,252.7 216.8,252.8 218.6,252.8" fill="none" stroke="none" marker-start="url(#mJADE)" marker-mid="url(#mJADE)" marker-end="url(#mJADE)"/>
<path d="M33.9,175.0 34.4,215.0 35.3,234.8 37.4,240.0 40.5,241.7 45.8,242.7 56.4,243.8 70.0,244.4 218.6,245.1" fill="none" stroke="#8080c0" stroke-width="0.60" stroke-linejoin="round"/>
<path d="M33.9,175.0 35.9,236.3 37.9,240.3 39.9,241.4 41.9,242.0 43.9,242.3 45.9,242.7 47.9,242.9 49.9,243.1 51.9,243.3 53.9,243.5 55.9,243.7 57.9,243.9 59.9,244.0 61.9,244.0 63.9,244.1 65.9,244.2 67.9,244.3 69.9,244.4 71.9,244.4 73.9,244.4 75.9,244.4 77.9,244.4 79.9,244.4 81.9,244.5 83.9,244.5 85.9,244.5 87.9,244.5 89.9,244.5 91.9,244.5 93.9,244.5 95.9,244.5 97.9,244.5 99.9,244.5 101.9,244.6 103.9,244.6 105.9,244.6 107.9,244.6 109.9,244.6 111.9,244.6 113.9,244.6 115.9,244.6 117.9,244.6 119.9,244.6 121.9,244.6 123.9,244.7 125.9,244.7 127.9,244.7 129.9,244.7 131.9,244.7 133.9,244.7 135.9,244.7 137.9,244.7 139.9,244.7 141.9,244.7 144.0,244.7 146.0,244.8 148.0,244.8 150.0,244.8 152.0,244.8 154.0,244.8 156.0,244.8 158.0,244.8 160.0,244.8 162.0,244.8 164.0,244.8 166.0,244.9 168.0,244.9 170.0,244.9 172.0,244.9 174.0,244.9 176.0,244.9 178.0,244.9 180.0,244.9 182.0,244.9 184.0,244.9 186.0,244.9 188.0,245.0 190.0,245.0 192.0,245.0 194.0,245.0 196.0,245.0 198.0,245.0 200.0,245.0 202.0,245.0 204.0,245.0 206.0,245.0 208.0,245.0 210.0,245.1 212.0,245.1 214.0,245.1 216.0,245.1 218.0,245.1" fill="none" stroke="none" marker-start="url(#mPGJAYA)" marker-mid="url(#mPGJAYA)" marker-end="url(#mPGJAYA)"/>
<path d="M33.9,156.0 34.3,190.0 34.7,200.0 35.3,208.4 37.4,215.8 40.5,220.0 44.8,223.2 49.0,227.4 53.2,232.7 57.4,236.9 61.6,238.0 70.0,238.8 110.0,239.8 218.6,240.6" fill="none" stroke="#008040" stroke-width="0.90" stroke-linejoin="round"/>
<path d="M33.9,156.0 37.0,214.3 40.1,219.4 43.1,222.0 46.2,224.6 49.3,227.8 52.4,231.7 55.4,234.9 58.5,237.2 61.6,238.0 64.7,238.3 67.8,238.6 70.8,238.8 73.9,238.9 77.0,239.0 80.1,239.1 83.2,239.1 86.2,239.2 89.3,239.3 92.4,239.4 95.5,239.4 98.5,239.5 101.6,239.6 104.7,239.7 107.8,239.7 110.9,239.8 113.9,239.8 117.0,239.9 120.1,239.9 123.2,239.9 126.2,239.9 129.3,239.9 132.4,240.0 135.5,240.0 138.6,240.0 141.6,240.0 144.7,240.1 147.8,240.1 150.9,240.1 154.0,240.1 157.0,240.1 160.1,240.2 163.2,240.2 166.3,240.2 169.3,240.2 172.4,240.3 175.5,240.3 178.6,240.3 181.7,240.3 184.7,240.4 187.8,240.4 190.9,240.4 194.0,240.4 197.1,240.4 200.1,240.5 203.2,240.5 206.3,240.5 209.4,240.5 212.4,240.6 215.5,240.6 218.6,240.6" fill="none" stroke="none" marker-start="url(#mRUN)" marker-mid="url(#mRUN)" marker-end="url(#mRUN)"/>
<text x="121.00" y="152.20" font-size="7.0" font-weight="bold" textLength="10.5" lengthAdjust="spacingAndGlyphs">F17</text>
<text x="118.80" y="270.90" font-size="7.4" font-weight="bold" textLength="14.9" lengthAdjust="spacingAndGlyphs">NFE</text>
<path d="M206.50,269.20l3,3m0,-3l-3,3" stroke="#222" stroke-width="0.75"/>
<text x="210.10" y="272.70" font-size="5.8" font-weight="bold">10</text>
<text x="215.80" y="268.80" font-size="4" font-weight="bold">4</text>
<text transform="translate(15.70,204.40) rotate(-90)" x="-27.75" font-size="7.2" font-weight="bold" textLength="55.5" lengthAdjust="spacingAndGlyphs">Objective function</text>
<rect x="254.5" y="154.6" width="184.8" height="99.80000000000001" fill="none" stroke="#555" stroke-width="0.9"/>
<path d="M254.50,254.4v-2.0 M254.50,154.6v2.0" stroke="#000" stroke-width="0.6"/>
<text x="254.50" y="262.40" text-anchor="middle" font-size="6.0" font-weight="bold">0</text>
<path d="M275.03,254.4v-2.0 M275.03,154.6v2.0" stroke="#000" stroke-width="0.6"/>
<text x="275.03" y="262.40" text-anchor="middle" font-size="6.0" font-weight="bold">2</text>
<path d="M295.57,254.4v-2.0 M295.57,154.6v2.0" stroke="#000" stroke-width="0.6"/>
<text x="295.57" y="262.40" text-anchor="middle" font-size="6.0" font-weight="bold">4</text>
<path d="M316.10,254.4v-2.0 M316.10,154.6v2.0" stroke="#000" stroke-width="0.6"/>
<text x="316.10" y="262.40" text-anchor="middle" font-size="6.0" font-weight="bold">6</text>
<path d="M336.63,254.4v-2.0 M336.63,154.6v2.0" stroke="#000" stroke-width="0.6"/>
<text x="336.63" y="262.40" text-anchor="middle" font-size="6.0" font-weight="bold">8</text>
<path d="M357.17,254.4v-2.0 M357.17,154.6v2.0" stroke="#000" stroke-width="0.6"/>
<text x="357.17" y="262.40" text-anchor="middle" font-size="6.0" font-weight="bold">10</text>
<path d="M377.70,254.4v-2.0 M377.70,154.6v2.0" stroke="#000" stroke-width="0.6"/>
<text x="377.70" y="262.40" text-anchor="middle" font-size="6.0" font-weight="bold">12</text>
<path d="M398.23,254.4v-2.0 M398.23,154.6v2.0" stroke="#000" stroke-width="0.6"/>
<text x="398.23" y="262.40" text-anchor="middle" font-size="6.0" font-weight="bold">14</text>
<path d="M418.77,254.4v-2.0 M418.77,154.6v2.0" stroke="#000" stroke-width="0.6"/>
<text x="418.77" y="262.40" text-anchor="middle" font-size="6.0" font-weight="bold">16</text>
<path d="M439.30,254.4v-2.0 M439.30,154.6v2.0" stroke="#000" stroke-width="0.6"/>
<text x="439.30" y="262.40" text-anchor="middle" font-size="6.0" font-weight="bold">18</text>
<path d="M254.5,181.90h2 M439.3,181.90h-2" stroke="#000" stroke-width="0.6"/>
<text x="249.60" y="184.90" text-anchor="end" font-size="5.6" font-weight="bold">10</text>
<text x="249.90" y="181.30" font-size="4" font-weight="bold">8</text>
<path d="M254.5,212.50h2 M439.3,212.50h-2" stroke="#000" stroke-width="0.6"/>
<text x="249.60" y="215.50" text-anchor="end" font-size="5.6" font-weight="bold">10</text>
<text x="249.90" y="211.90" font-size="4" font-weight="bold">6</text>
<path d="M254.5,243.10h2 M439.3,243.10h-2" stroke="#000" stroke-width="0.6"/>
<text x="249.60" y="246.10" text-anchor="end" font-size="5.6" font-weight="bold">10</text>
<text x="249.90" y="242.50" font-size="4" font-weight="bold">4</text>
<path d="M254.5,243.10h1.3 M439.3,243.10h-1.3" stroke="#000" stroke-width="0.5"/>
<path d="M254.5,227.80h1.3 M439.3,227.80h-1.3" stroke="#000" stroke-width="0.5"/>
<path d="M254.5,212.50h1.3 M439.3,212.50h-1.3" stroke="#000" stroke-width="0.5"/>
<path d="M254.5,197.20h1.3 M439.3,197.20h-1.3" stroke="#000" stroke-width="0.5"/>
<path d="M254.5,181.90h1.3 M439.3,181.90h-1.3" stroke="#000" stroke-width="0.5"/>
<path d="M254.5,166.60h1.3 M439.3,166.60h-1.3" stroke="#000" stroke-width="0.5"/>
<path d="M254.5,165.0 256.1,207.6 258.2,228.3 259.6,238.0 261.7,244.9 265.8,247.7 271.3,250.4 275.5,252.1 282.0,252.5 439.3,252.7" fill="none" stroke="#ff0000" stroke-width="0.80" stroke-linejoin="round"/>
<path d="M254.5,165.0 256.2,209.0 258.0,226.2 259.7,238.4 261.5,244.2 263.2,245.9 265.0,247.1 266.7,248.2 268.5,249.0 270.2,249.9 272.0,250.7 273.7,251.4 275.4,252.1 277.2,252.2 278.9,252.3 280.7,252.4 282.4,252.5 284.2,252.5 285.9,252.5 287.7,252.5 289.4,252.5 291.2,252.5 292.9,252.5 294.6,252.5 296.4,252.5 298.1,252.5 299.9,252.5 301.6,252.5 303.4,252.5 305.1,252.5 306.9,252.5 308.6,252.5 310.4,252.5 312.1,252.5 313.8,252.5 315.6,252.5 317.3,252.5 319.1,252.5 320.8,252.5 322.6,252.6 324.3,252.6 326.1,252.6 327.8,252.6 329.5,252.6 331.3,252.6 333.0,252.6 334.8,252.6 336.5,252.6 338.3,252.6 340.0,252.6 341.8,252.6 343.5,252.6 345.3,252.6 347.0,252.6 348.7,252.6 350.5,252.6 352.2,252.6 354.0,252.6 355.7,252.6 357.5,252.6 359.2,252.6 361.0,252.6 362.7,252.6 364.5,252.6 366.2,252.6 367.9,252.6 369.7,252.6 371.4,252.6 373.2,252.6 374.9,252.6 376.7,252.6 378.4,252.6 380.2,252.6 381.9,252.6 383.7,252.6 385.4,252.6 387.1,252.6 388.9,252.6 390.6,252.6 392.4,252.6 394.1,252.6 395.9,252.6 397.6,252.6 399.4,252.6 401.1,252.7 402.9,252.7 404.6,252.7 406.3,252.7 408.1,252.7 409.8,252.7 411.6,252.7 413.3,252.7 415.1,252.7 416.8,252.7 418.6,252.7 420.3,252.7 422.1,252.7 423.8,252.7 425.5,252.7 427.3,252.7 429.0,252.7 430.8,252.7 432.5,252.7 434.3,252.7 436.0,252.7 437.8,252.7" fill="none" stroke="none" marker-start="url(#mADEPSO)" marker-mid="url(#mADEPSO)" marker-end="url(#mADEPSO)"/>
<path d="M254.5,154.1 257.1,173.6 257.5,184.1 259.6,193.8 261.7,203.5 263.7,214.5 264.6,222.0 267.3,232.5 269.9,241.3 272.5,248.3 276.0,252.7 282.0,253.2 439.3,253.4" fill="none" stroke="#00ffff" stroke-width="0.80" stroke-linejoin="round"/>
<path d="M254.5,154.1 256.4,168.3 258.3,187.8 260.2,196.6 262.1,205.7 264.0,217.0 265.9,227.0 267.8,234.2 269.7,240.6 271.6,245.9 273.5,249.5 275.4,251.9 277.3,252.8 279.2,253.0 281.1,253.1 283.0,253.2 284.9,253.2 286.8,253.2 288.7,253.2 290.6,253.2 292.5,253.2 294.4,253.2 296.3,253.2 298.2,253.2 300.1,253.2 302.0,253.2 303.9,253.2 305.8,253.2 307.7,253.2 309.6,253.2 311.5,253.2 313.4,253.2 315.3,253.2 317.2,253.2 319.1,253.2 321.0,253.2 322.9,253.3 324.8,253.3 326.7,253.3 328.6,253.3 330.5,253.3 332.4,253.3 334.3,253.3 336.2,253.3 338.1,253.3 340.0,253.3 341.9,253.3 343.8,253.3 345.7,253.3 347.6,253.3 349.5,253.3 351.4,253.3 353.3,253.3 355.2,253.3 357.1,253.3 359.0,253.3 360.9,253.3 362.8,253.3 364.7,253.3 366.6,253.3 368.5,253.3 370.4,253.3 372.3,253.3 374.2,253.3 376.1,253.3 378.0,253.3 379.9,253.3 381.8,253.3 383.7,253.3 385.6,253.3 387.5,253.3 389.4,253.3 391.3,253.3 393.2,253.3 395.1,253.3 397.0,253.3 398.8,253.3 400.7,253.4 402.6,253.4 404.5,253.4 406.4,253.4 408.3,253.4 410.2,253.4 412.1,253.4 414.0,253.4 415.9,253.4 417.8,253.4 419.7,253.4 421.6,253.4 423.5,253.4 425.4,253.4 427.3,253.4 429.2,253.4 431.1,253.4 433.0,253.4 434.9,253.4 436.8,253.4 438.7,253.4" fill="none" stroke="none" marker-start="url(#mATLDE)" marker-mid="url(#mATLDE)" marker-end="url(#mATLDE)"/>
<path d="M254.5,189.0 255.5,206.2 257.5,218.7 260.3,222.8 262.0,224.6 269.0,231.6 276.0,234.3 283.0,236.0 297.0,238.6 314.5,241.3 332.0,242.7 342.0,243.2 360.0,245.3 397.0,247.2 439.3,249.4" fill="none" stroke="#ff00ff" stroke-width="0.80" stroke-linejoin="round"/>
<path d="M254.5,189.0 256.5,212.1 258.4,220.0 260.4,222.9 262.3,224.9 264.3,226.9 266.2,228.8 268.2,230.8 270.1,232.0 272.1,232.8 274.0,233.5 276.0,234.3 277.9,234.8 279.9,235.2 281.8,235.7 283.8,236.1 285.7,236.5 287.7,236.9 289.6,237.2 291.6,237.6 293.5,238.0 295.5,238.3 297.4,238.7 299.4,239.0 301.3,239.3 303.3,239.6 305.2,239.9 307.2,240.2 309.1,240.5 311.1,240.8 313.0,241.1 315.0,241.3 316.9,241.5 318.9,241.6 320.8,241.8 322.8,242.0 324.7,242.1 326.7,242.3 328.6,242.4 330.6,242.6 332.5,242.7 334.5,242.8 336.4,242.9 338.4,243.0 340.3,243.1 342.3,243.2 344.2,243.5 346.2,243.7 348.1,243.9 350.1,244.1 352.0,244.4 354.0,244.6 355.9,244.8 357.9,245.1 359.8,245.3 361.8,245.4 363.7,245.5 365.7,245.6 367.6,245.7 369.6,245.8 371.5,245.9 373.5,246.0 375.4,246.1 377.4,246.2 379.3,246.3 381.3,246.4 383.2,246.5 385.2,246.6 387.1,246.7 389.1,246.8 391.0,246.9 393.0,247.0 394.9,247.1 396.9,247.2 398.8,247.3 400.8,247.4 402.8,247.5 404.7,247.6 406.7,247.7 408.6,247.8 410.6,247.9 412.5,248.0 414.5,248.1 416.4,248.2 418.4,248.3 420.3,248.4 422.3,248.5 424.2,248.6 426.2,248.7 428.1,248.8 430.1,248.9 432.0,249.0 434.0,249.1 435.9,249.2 437.9,249.3" fill="none" stroke="none" marker-start="url(#mCGSCA)" marker-mid="url(#mCGSCA)" marker-end="url(#mCGSCA)"/>
<path d="M254.5,170.0 257.5,200.7 259.6,210.4 261.7,217.3 265.8,222.8 270.8,226.2 279.5,227.5 439.3,227.8" fill="none" stroke="#00ee00" stroke-width="0.60" stroke-linejoin="round"/>
<path d="M254.5,170.0 258.6,205.6 262.6,218.5 266.7,223.4 270.7,226.1 274.8,226.8 278.8,227.4 282.9,227.5 286.9,227.5 291.0,227.5 295.1,227.5 299.1,227.5 303.2,227.5 307.2,227.6 311.3,227.6 315.3,227.6 319.4,227.6 323.4,227.6 327.5,227.6 331.6,227.6 335.6,227.6 339.7,227.6 343.7,227.6 347.8,227.6 351.8,227.6 355.9,227.6 359.9,227.7 364.0,227.7 368.0,227.7 372.1,227.7 376.2,227.7 380.2,227.7 384.3,227.7 388.3,227.7 392.4,227.7 396.4,227.7 400.5,227.7 404.5,227.7 408.6,227.7 412.7,227.7 416.7,227.8 420.8,227.8 424.8,227.8 428.9,227.8 432.9,227.8 437.0,227.8" fill="none" stroke="none" marker-start="url(#mGOTLBO)" marker-mid="url(#mGOTLBO)" marker-end="url(#mGOTLBO)"/>
<path d="M254.5,159.0 255.5,190.0 255.9,207.6 256.4,235.2 256.8,247.7 258.2,251.1 263.0,252.6 280.0,253.4 439.3,253.8" fill="none" stroke="#0000ff" stroke-width="1.00" stroke-linejoin="round"/>
<path d="M254.5,159.0 256.2,226.7 258.0,250.6 259.7,251.6 261.5,252.1 263.2,252.6 265.0,252.7 266.7,252.8 268.5,252.9 270.2,252.9 272.0,253.0 273.7,253.1 275.4,253.2 277.2,253.3 278.9,253.3 280.7,253.4 282.4,253.4 284.2,253.4 285.9,253.4 287.7,253.4 289.4,253.4 291.2,253.4 292.9,253.4 294.6,253.4 296.4,253.4 298.1,253.4 299.9,253.4 301.6,253.5 303.4,253.5 305.1,253.5 306.9,253.5 308.6,253.5 310.4,253.5 312.1,253.5 313.8,253.5 315.6,253.5 317.3,253.5 319.1,253.5 320.8,253.5 322.6,253.5 324.3,253.5 326.1,253.5 327.8,253.5 329.5,253.5 331.3,253.5 333.0,253.5 334.8,253.5 336.5,253.5 338.3,253.5 340.0,253.6 341.8,253.6 343.5,253.6 345.3,253.6 347.0,253.6 348.7,253.6 350.5,253.6 352.2,253.6 354.0,253.6 355.7,253.6 357.5,253.6 359.2,253.6 361.0,253.6 362.7,253.6 364.5,253.6 366.2,253.6 367.9,253.6 369.7,253.6 371.4,253.6 373.2,253.6 374.9,253.6 376.7,253.6 378.4,253.6 380.2,253.7 381.9,253.7 383.7,253.7 385.4,253.7 387.1,253.7 388.9,253.7 390.6,253.7 392.4,253.7 394.1,253.7 395.9,253.7 397.6,253.7 399.4,253.7 401.1,253.7 402.9,253.7 404.6,253.7 406.3,253.7 408.1,253.7 409.8,253.7 411.6,253.7 413.3,253.7 415.1,253.7 416.8,253.7 418.6,253.7 420.3,253.8 422.1,253.8 423.8,253.8 425.5,253.8 427.3,253.8 429.0,253.8 430.8,253.8 432.5,253.8 434.3,253.8 436.0,253.8 437.8,253.8" fill="none" stroke="none" marker-start="url(#mIRUN)" marker-mid="url(#mIRUN)" marker-end="url(#mIRUN)"/>
<path d="M254.5,156.8 256.6,181.0 258.2,188.3 260.3,200.7 263.0,211.8 265.5,225.5 269.0,232.5 272.5,236.0 279.5,238.6 286.5,240.4 297.0,242.1 298.8,245.6 307.5,246.2 309.3,247.4 323.3,247.9 342.0,248.5 360.0,249.2 397.0,250.0 399.0,251.6 439.3,252.2" fill="none" stroke="#ec8a12" stroke-width="0.80" stroke-linejoin="round"/>
<path d="M254.5,156.8 256.3,178.1 258.2,188.3 260.0,199.2 261.9,207.2 263.7,215.9 265.6,225.7 267.4,229.4 269.3,232.8 271.1,234.6 273.0,236.2 274.8,236.9 276.7,237.6 278.5,238.2 280.4,238.8 282.2,239.3 284.1,239.8 285.9,240.2 287.8,240.6 289.6,240.9 291.5,241.2 293.3,241.5 295.2,241.8 297.0,242.1 298.9,245.6 300.7,245.7 302.5,245.9 304.4,246.0 306.2,246.1 308.1,246.6 309.9,247.4 311.8,247.5 313.6,247.6 315.5,247.6 317.3,247.7 319.2,247.8 321.0,247.8 322.9,247.9 324.7,247.9 326.6,248.0 328.4,248.1 330.3,248.1 332.1,248.2 334.0,248.2 335.8,248.3 337.7,248.4 339.5,248.4 341.4,248.5 343.2,248.5 345.1,248.6 346.9,248.7 348.7,248.8 350.6,248.8 352.4,248.9 354.3,249.0 356.1,249.0 358.0,249.1 359.8,249.2 361.7,249.2 363.5,249.3 365.4,249.3 367.2,249.4 369.1,249.4 370.9,249.4 372.8,249.5 374.6,249.5 376.5,249.6 378.3,249.6 380.2,249.6 382.0,249.7 383.9,249.7 385.7,249.8 387.6,249.8 389.4,249.8 391.3,249.9 393.1,249.9 394.9,250.0 396.8,250.0 398.6,251.3 400.5,251.6 402.3,251.6 404.2,251.7 406.0,251.7 407.9,251.7 409.7,251.8 411.6,251.8 413.4,251.8 415.3,251.8 417.1,251.9 419.0,251.9 420.8,251.9 422.7,252.0 424.5,252.0 426.4,252.0 428.2,252.0 430.1,252.1 431.9,252.1 433.8,252.1 435.6,252.1 437.5,252.2 439.3,252.2" fill="none" stroke="none" marker-start="url(#mJADE)" marker-mid="url(#mJADE)" marker-end="url(#mJADE)"/>
<path d="M254.5,162.0 256.1,200.7 258.2,225.6 260.3,238.0 263.0,242.8 268.6,243.3 439.3,243.2" fill="none" stroke="#8080c0" stroke-width="0.60" stroke-linejoin="round"/>
<path d="M254.5,162.0 256.5,205.5 258.5,227.4 260.5,238.4 262.5,241.9 264.5,242.9 266.5,243.1 268.5,243.3 270.5,243.3 272.5,243.3 274.5,243.3 276.5,243.3 278.5,243.3 280.5,243.3 282.5,243.3 284.5,243.3 286.5,243.3 288.5,243.3 290.5,243.3 292.5,243.3 294.5,243.3 296.5,243.3 298.5,243.3 300.5,243.3 302.5,243.3 304.6,243.3 306.6,243.3 308.6,243.3 310.6,243.3 312.6,243.3 314.6,243.3 316.6,243.3 318.6,243.3 320.6,243.3 322.6,243.3 324.6,243.3 326.6,243.3 328.6,243.3 330.6,243.3 332.6,243.3 334.6,243.3 336.6,243.3 338.6,243.3 340.6,243.3 342.6,243.3 344.6,243.3 346.6,243.3 348.6,243.3 350.6,243.3 352.6,243.3 354.6,243.2 356.6,243.2 358.6,243.2 360.6,243.2 362.6,243.2 364.6,243.2 366.6,243.2 368.6,243.2 370.6,243.2 372.6,243.2 374.6,243.2 376.6,243.2 378.6,243.2 380.6,243.2 382.6,243.2 384.6,243.2 386.6,243.2 388.6,243.2 390.6,243.2 392.6,243.2 394.6,243.2 396.6,243.2 398.6,243.2 400.6,243.2 402.6,243.2 404.6,243.2 406.7,243.2 408.7,243.2 410.7,243.2 412.7,243.2 414.7,243.2 416.7,243.2 418.7,243.2 420.7,243.2 422.7,243.2 424.7,243.2 426.7,243.2 428.7,243.2 430.7,243.2 432.7,243.2 434.7,243.2 436.7,243.2 438.7,243.2" fill="none" stroke="none" marker-start="url(#mPGJAYA)" marker-mid="url(#mPGJAYA)" marker-end="url(#mPGJAYA)"/>
<path d="M254.5,163.2 256.1,180.0 259.6,188.3 263.0,195.2 267.2,202.1 272.7,207.6 276.9,211.0 282.0,212.9 288.3,215.0 305.8,217.1 323.3,220.3 332.0,222.9 336.0,225.5 339.0,228.1 346.0,229.8 352.0,231.0 360.0,233.0 367.4,236.0 374.9,238.8 387.9,240.1 397.2,241.6 406.5,243.8 419.5,244.9 439.3,246.4" fill="none" stroke="#008040" stroke-width="0.90" stroke-linejoin="round"/>
<path d="M254.5,163.2 257.6,183.5 260.7,190.5 263.7,196.4 266.8,201.5 269.9,204.8 273.0,207.8 276.1,210.3 279.1,211.8 282.2,213.0 285.3,214.0 288.4,215.0 291.5,215.4 294.5,215.7 297.6,216.1 300.7,216.5 303.8,216.9 306.9,217.3 309.9,217.9 313.0,218.4 316.1,219.0 319.2,219.5 322.3,220.1 325.3,220.9 328.4,221.8 331.5,222.8 334.6,224.6 337.7,226.9 340.7,228.5 343.8,229.3 346.9,230.0 350.0,230.6 353.1,231.3 356.1,232.0 359.2,232.8 362.3,233.9 365.4,235.2 368.5,236.4 371.5,237.5 374.6,238.7 377.7,239.1 380.8,239.4 383.9,239.7 386.9,240.0 390.0,240.4 393.1,240.9 396.2,241.4 399.3,242.1 402.3,242.8 405.4,243.5 408.5,244.0 411.6,244.2 414.7,244.5 417.7,244.8 420.8,245.0 423.9,245.2 427.0,245.5 430.1,245.7 433.1,245.9 436.2,246.2 439.3,246.4" fill="none" stroke="none" marker-start="url(#mRUN)" marker-mid="url(#mRUN)" marker-end="url(#mRUN)"/>
<text x="341.65" y="152.40" font-size="7.0" font-weight="bold" textLength="10.5" lengthAdjust="spacingAndGlyphs">F19</text>
<text x="339.45" y="270.90" font-size="7.4" font-weight="bold" textLength="14.9" lengthAdjust="spacingAndGlyphs">NFE</text>
<path d="M427.20,269.20l3,3m0,-3l-3,3" stroke="#222" stroke-width="0.75"/>
<text x="430.80" y="272.70" font-size="5.8" font-weight="bold">10</text>
<text x="436.50" y="268.80" font-size="4" font-weight="bold">4</text>
<text transform="translate(240.30,204.50) rotate(-90)" x="-27.75" font-size="7.2" font-weight="bold" textLength="55.5" lengthAdjust="spacingAndGlyphs">Objective function</text>
<rect x="33.7" y="290.4" width="183.60000000000002" height="99.0" fill="none" stroke="#555" stroke-width="0.9"/>
<path d="M33.70,389.4v-2.0 M33.70,290.4v2.0" stroke="#000" stroke-width="0.6"/>
<text x="33.70" y="397.40" text-anchor="middle" font-size="6.0" font-weight="bold">0</text>
<path d="M54.10,389.4v-2.0 M54.10,290.4v2.0" stroke="#000" stroke-width="0.6"/>
<text x="54.10" y="397.40" text-anchor="middle" font-size="6.0" font-weight="bold">2</text>
<path d="M74.50,389.4v-2.0 M74.50,290.4v2.0" stroke="#000" stroke-width="0.6"/>
<text x="74.50" y="397.40" text-anchor="middle" font-size="6.0" font-weight="bold">4</text>
<path d="M94.90,389.4v-2.0 M94.90,290.4v2.0" stroke="#000" stroke-width="0.6"/>
<text x="94.90" y="397.40" text-anchor="middle" font-size="6.0" font-weight="bold">6</text>
<path d="M115.30,389.4v-2.0 M115.30,290.4v2.0" stroke="#000" stroke-width="0.6"/>
<text x="115.30" y="397.40" text-anchor="middle" font-size="6.0" font-weight="bold">8</text>
<path d="M135.70,389.4v-2.0 M135.70,290.4v2.0" stroke="#000" stroke-width="0.6"/>
<text x="135.70" y="397.40" text-anchor="middle" font-size="6.0" font-weight="bold">10</text>
<path d="M156.10,389.4v-2.0 M156.10,290.4v2.0" stroke="#000" stroke-width="0.6"/>
<text x="156.10" y="397.40" text-anchor="middle" font-size="6.0" font-weight="bold">12</text>
<path d="M176.50,389.4v-2.0 M176.50,290.4v2.0" stroke="#000" stroke-width="0.6"/>
<text x="176.50" y="397.40" text-anchor="middle" font-size="6.0" font-weight="bold">14</text>
<path d="M196.90,389.4v-2.0 M196.90,290.4v2.0" stroke="#000" stroke-width="0.6"/>
<text x="196.90" y="397.40" text-anchor="middle" font-size="6.0" font-weight="bold">16</text>
<path d="M217.30,389.4v-2.0 M217.30,290.4v2.0" stroke="#000" stroke-width="0.6"/>
<text x="217.30" y="397.40" text-anchor="middle" font-size="6.0" font-weight="bold">18</text>
<path d="M33.7,299.60h2 M217.3,299.60h-2" stroke="#000" stroke-width="0.6"/>
<text x="31.60" y="301.70" text-anchor="end" font-size="6.0" font-weight="bold">10000</text>
<path d="M33.7,313.70h2 M217.3,313.70h-2" stroke="#000" stroke-width="0.6"/>
<text x="31.60" y="315.80" text-anchor="end" font-size="6.0" font-weight="bold">8000</text>
<path d="M33.7,331.00h2 M217.3,331.00h-2" stroke="#000" stroke-width="0.6"/>
<text x="31.60" y="333.10" text-anchor="end" font-size="6.0" font-weight="bold">6000</text>
<path d="M33.7,355.50h2 M217.3,355.50h-2" stroke="#000" stroke-width="0.6"/>
<text x="31.60" y="357.60" text-anchor="end" font-size="6.0" font-weight="bold">4000</text>
<path d="M33.7,373.17h1.3 M217.3,373.17h-1.3" stroke="#000" stroke-width="0.5"/>
<path d="M33.7,355.59h1.3 M217.3,355.59h-1.3" stroke="#000" stroke-width="0.5"/>
<path d="M33.7,341.95h1.3 M217.3,341.95h-1.3" stroke="#000" stroke-width="0.5"/>
<path d="M33.7,330.81h1.3 M217.3,330.81h-1.3" stroke="#000" stroke-width="0.5"/>
<path d="M33.7,321.39h1.3 M217.3,321.39h-1.3" stroke="#000" stroke-width="0.5"/>
<path d="M33.7,313.24h1.3 M217.3,313.24h-1.3" stroke="#000" stroke-width="0.5"/>
<path d="M33.7,306.04h1.3 M217.3,306.04h-1.3" stroke="#000" stroke-width="0.5"/>
<path d="M33.7,299.60h1.3 M217.3,299.60h-1.3" stroke="#000" stroke-width="0.5"/>
<path d="M33.7,293.78h1.3 M217.3,293.78h-1.3" stroke="#000" stroke-width="0.5"/>
<path d="M33.5,292.4 34.5,330.0 35.5,368.5 37.9,378.3 39.9,382.4 41.8,384.0 43.9,385.1 49.1,386.1 100.0,386.6 217.3,387.0" fill="none" stroke="#ff0000" stroke-width="0.80" stroke-linejoin="round"/>
<path d="M33.5,292.4 35.4,366.0 37.2,375.3 38.9,380.4 40.6,383.0 42.4,384.3 44.1,385.1 45.8,385.5 47.6,385.8 49.3,386.1 51.0,386.1 52.8,386.1 54.5,386.2 56.2,386.2 58.0,386.2 59.7,386.2 61.4,386.2 63.2,386.2 64.9,386.3 66.6,386.3 68.4,386.3 70.1,386.3 71.8,386.3 73.6,386.3 75.3,386.4 77.1,386.4 78.8,386.4 80.5,386.4 82.3,386.4 84.0,386.4 85.7,386.5 87.5,386.5 89.2,386.5 90.9,386.5 92.7,386.5 94.4,386.5 96.1,386.6 97.9,386.6 99.6,386.6 101.3,386.6 103.1,386.6 104.8,386.6 106.5,386.6 108.3,386.6 110.0,386.6 111.7,386.6 113.5,386.6 115.2,386.7 116.9,386.7 118.7,386.7 120.4,386.7 122.1,386.7 123.9,386.7 125.6,386.7 127.3,386.7 129.1,386.7 130.8,386.7 132.5,386.7 134.3,386.7 136.0,386.7 137.7,386.7 139.5,386.7 141.2,386.7 142.9,386.7 144.7,386.8 146.4,386.8 148.1,386.8 149.9,386.8 151.6,386.8 153.3,386.8 155.1,386.8 156.8,386.8 158.5,386.8 160.3,386.8 162.0,386.8 163.8,386.8 165.5,386.8 167.2,386.8 169.0,386.8 170.7,386.8 172.4,386.8 174.2,386.9 175.9,386.9 177.6,386.9 179.4,386.9 181.1,386.9 182.8,386.9 184.6,386.9 186.3,386.9 188.0,386.9 189.8,386.9 191.5,386.9 193.2,386.9 195.0,386.9 196.7,386.9 198.4,386.9 200.2,386.9 201.9,386.9 203.6,387.0 205.4,387.0 207.1,387.0 208.8,387.0 210.6,387.0 212.3,387.0 214.0,387.0 215.8,387.0" fill="none" stroke="none" marker-start="url(#mADEPSO)" marker-mid="url(#mADEPSO)" marker-end="url(#mADEPSO)"/>
<path d="M33.5,290.1 35.3,296.0 36.6,302.4 38.0,311.5 39.8,320.5 41.6,329.6 43.8,339.0 46.7,345.0 51.6,349.9 57.5,353.8 65.4,355.7 77.2,357.1 88.9,358.7 95.0,359.7 104.8,361.6 114.6,363.6 124.5,364.6 134.3,365.6 140.2,368.5 146.1,371.5 153.9,373.4 160.9,375.4 166.8,376.4 217.3,376.4" fill="none" stroke="#00ffff" stroke-width="0.80" stroke-linejoin="round"/>
<path d="M33.5,290.1 35.6,297.4 37.5,308.1 39.4,318.3 41.2,327.8 43.1,336.2 45.0,341.5 46.9,345.2 48.8,347.1 50.7,349.0 52.6,350.5 54.5,351.8 56.3,353.0 58.2,354.0 60.1,354.4 62.0,354.9 63.9,355.3 65.8,355.7 67.7,356.0 69.6,356.2 71.4,356.4 73.3,356.6 75.2,356.9 77.1,357.1 79.0,357.3 80.9,357.6 82.8,357.9 84.6,358.1 86.5,358.4 88.4,358.6 90.3,358.9 92.2,359.2 94.1,359.5 96.0,359.9 97.9,360.3 99.7,360.6 101.6,361.0 103.5,361.4 105.4,361.7 107.3,362.1 109.2,362.5 111.1,362.9 113.0,363.3 114.8,363.6 116.7,363.8 118.6,364.0 120.5,364.2 122.4,364.4 124.3,364.6 126.2,364.8 128.1,365.0 129.9,365.2 131.8,365.3 133.7,365.5 135.6,366.2 137.5,367.2 139.4,368.1 141.3,369.0 143.1,370.0 145.0,371.0 146.9,371.7 148.8,372.2 150.7,372.6 152.6,373.1 154.5,373.6 156.4,374.1 158.2,374.6 160.1,375.2 162.0,375.6 163.9,375.9 165.8,376.2 167.7,376.4 169.6,376.4 171.5,376.4 173.3,376.4 175.2,376.4 177.1,376.4 179.0,376.4 180.9,376.4 182.8,376.4 184.7,376.4 186.5,376.4 188.4,376.4 190.3,376.4 192.2,376.4 194.1,376.4 196.0,376.4 197.9,376.4 199.8,376.4 201.6,376.4 203.5,376.4 205.4,376.4 207.3,376.4 209.2,376.4 211.1,376.4 213.0,376.4 214.9,376.4 216.7,376.4" fill="none" stroke="none" marker-start="url(#mATLDE)" marker-mid="url(#mATLDE)" marker-end="url(#mATLDE)"/>
<path d="M33.3,350.8 34.9,364.6 36.9,370.5 39.9,378.5 43.9,381.1 49.1,382.4 62.2,383.5 96.0,385.4 150.0,386.2 217.3,386.6" fill="none" stroke="#ff00ff" stroke-width="0.80" stroke-linejoin="round"/>
<path d="M33.3,350.8 35.6,366.8 37.6,372.3 39.5,377.5 41.5,379.5 43.4,380.8 45.3,381.5 47.3,381.9 49.2,382.4 51.1,382.6 53.1,382.7 55.0,382.9 57.0,383.1 58.9,383.2 60.8,383.4 62.8,383.5 64.7,383.6 66.6,383.7 68.6,383.9 70.5,384.0 72.5,384.1 74.4,384.2 76.3,384.3 78.3,384.4 80.2,384.5 82.2,384.6 84.1,384.7 86.0,384.8 88.0,384.9 89.9,385.1 91.8,385.2 93.8,385.3 95.7,385.4 97.7,385.4 99.6,385.5 101.5,385.5 103.5,385.5 105.4,385.5 107.3,385.6 109.3,385.6 111.2,385.6 113.2,385.7 115.1,385.7 117.0,385.7 119.0,385.7 120.9,385.8 122.8,385.8 124.8,385.8 126.7,385.9 128.7,385.9 130.6,385.9 132.5,385.9 134.5,386.0 136.4,386.0 138.4,386.0 140.3,386.1 142.2,386.1 144.2,386.1 146.1,386.1 148.0,386.2 150.0,386.2 151.9,386.2 153.9,386.2 155.8,386.2 157.7,386.2 159.7,386.3 161.6,386.3 163.5,386.3 165.5,386.3 167.4,386.3 169.4,386.3 171.3,386.3 173.2,386.3 175.2,386.3 177.1,386.4 179.1,386.4 181.0,386.4 182.9,386.4 184.9,386.4 186.8,386.4 188.7,386.4 190.7,386.4 192.6,386.5 194.6,386.5 196.5,386.5 198.4,386.5 200.4,386.5 202.3,386.5 204.2,386.5 206.2,386.5 208.1,386.5 210.1,386.6 212.0,386.6 213.9,386.6 215.9,386.6" fill="none" stroke="none" marker-start="url(#mCGSCA)" marker-mid="url(#mCGSCA)" marker-end="url(#mCGSCA)"/>
<path d="M33.5,295.0 34.2,330.0 34.9,345.0 36.9,354.8 39.8,356.3 45.0,356.7 100.0,357.1 217.3,357.3" fill="none" stroke="#00ee00" stroke-width="0.60" stroke-linejoin="round"/>
<path d="M33.5,295.0 37.7,355.2 41.8,356.5 45.8,356.7 49.8,356.7 53.8,356.8 57.9,356.8 61.9,356.8 65.9,356.9 70.0,356.9 74.0,356.9 78.0,356.9 82.0,357.0 86.1,357.0 90.1,357.0 94.1,357.1 98.2,357.1 102.2,357.1 106.2,357.1 110.3,357.1 114.3,357.1 118.3,357.1 122.3,357.1 126.4,357.1 130.4,357.2 134.4,357.2 138.5,357.2 142.5,357.2 146.5,357.2 150.5,357.2 154.6,357.2 158.6,357.2 162.6,357.2 166.7,357.2 170.7,357.2 174.7,357.2 178.7,357.2 182.8,357.2 186.8,357.2 190.8,357.3 194.9,357.3 198.9,357.3 202.9,357.3 206.9,357.3 211.0,357.3 215.0,357.3" fill="none" stroke="none" marker-start="url(#mGOTLBO)" marker-mid="url(#mGOTLBO)" marker-end="url(#mGOTLBO)"/>
<path d="M33.5,297.8 34.3,345.0 35.0,370.0 35.5,378.3 36.0,383.7 37.3,387.7 39.9,388.7 46.5,388.8 217.3,389.0" fill="none" stroke="#0000ff" stroke-width="1.00" stroke-linejoin="round"/>
<path d="M33.5,297.8 35.4,377.2 37.2,387.3 38.9,388.3 40.6,388.7 42.4,388.7 44.1,388.8 45.8,388.8 47.6,388.8 49.3,388.8 51.0,388.8 52.8,388.8 54.5,388.8 56.2,388.8 58.0,388.8 59.7,388.8 61.4,388.8 63.2,388.8 64.9,388.8 66.6,388.8 68.4,388.8 70.1,388.8 71.8,388.8 73.6,388.8 75.3,388.8 77.1,388.8 78.8,388.8 80.5,388.8 82.3,388.8 84.0,388.8 85.7,388.8 87.5,388.8 89.2,388.8 90.9,388.9 92.7,388.9 94.4,388.9 96.1,388.9 97.9,388.9 99.6,388.9 101.3,388.9 103.1,388.9 104.8,388.9 106.5,388.9 108.3,388.9 110.0,388.9 111.7,388.9 113.5,388.9 115.2,388.9 116.9,388.9 118.7,388.9 120.4,388.9 122.1,388.9 123.9,388.9 125.6,388.9 127.3,388.9 129.1,388.9 130.8,388.9 132.5,388.9 134.3,388.9 136.0,388.9 137.7,388.9 139.5,388.9 141.2,388.9 142.9,388.9 144.7,388.9 146.4,388.9 148.1,388.9 149.9,388.9 151.6,388.9 153.3,388.9 155.1,388.9 156.8,388.9 158.5,388.9 160.3,388.9 162.0,388.9 163.8,388.9 165.5,388.9 167.2,388.9 169.0,388.9 170.7,388.9 172.4,388.9 174.2,388.9 175.9,389.0 177.6,389.0 179.4,389.0 181.1,389.0 182.8,389.0 184.6,389.0 186.3,389.0 188.0,389.0 189.8,389.0 191.5,389.0 193.2,389.0 195.0,389.0 196.7,389.0 198.4,389.0 200.2,389.0 201.9,389.0 203.6,389.0 205.4,389.0 207.1,389.0 208.8,389.0 210.6,389.0 212.3,389.0 214.0,389.0 215.8,389.0" fill="none" stroke="none" marker-start="url(#mIRUN)" marker-mid="url(#mIRUN)" marker-end="url(#mIRUN)"/>
<path d="M33.5,290.1 34.5,310.0 35.5,322.0 36.2,328.3 37.5,360.7 38.8,374.0 40.5,382.0 42.5,386.0 45.2,388.0 96.0,388.8 217.3,389.0" fill="none" stroke="#ec8a12" stroke-width="0.80" stroke-linejoin="round"/>
<path d="M33.5,290.1 35.5,322.3 37.4,357.5 39.2,375.9 41.0,383.1 42.9,386.3 44.7,387.6 46.6,388.0 48.4,388.1 50.2,388.1 52.1,388.1 53.9,388.1 55.7,388.2 57.6,388.2 59.4,388.2 61.2,388.3 63.1,388.3 64.9,388.3 66.7,388.3 68.6,388.4 70.4,388.4 72.3,388.4 74.1,388.5 75.9,388.5 77.8,388.5 79.6,388.5 81.4,388.6 83.3,388.6 85.1,388.6 86.9,388.7 88.8,388.7 90.6,388.7 92.5,388.7 94.3,388.8 96.1,388.8 98.0,388.8 99.8,388.8 101.6,388.8 103.5,388.8 105.3,388.8 107.1,388.8 109.0,388.8 110.8,388.8 112.6,388.8 114.5,388.8 116.3,388.8 118.2,388.8 120.0,388.8 121.8,388.8 123.7,388.8 125.5,388.8 127.3,388.9 129.2,388.9 131.0,388.9 132.8,388.9 134.7,388.9 136.5,388.9 138.4,388.9 140.2,388.9 142.0,388.9 143.9,388.9 145.7,388.9 147.5,388.9 149.4,388.9 151.2,388.9 153.0,388.9 154.9,388.9 156.7,388.9 158.5,388.9 160.4,388.9 162.2,388.9 164.1,388.9 165.9,388.9 167.7,388.9 169.6,388.9 171.4,388.9 173.2,388.9 175.1,388.9 176.9,388.9 178.7,388.9 180.6,388.9 182.4,388.9 184.3,388.9 186.1,388.9 187.9,389.0 189.8,389.0 191.6,389.0 193.4,389.0 195.3,389.0 197.1,389.0 198.9,389.0 200.8,389.0 202.6,389.0 204.4,389.0 206.3,389.0 208.1,389.0 210.0,389.0 211.8,389.0 213.6,389.0 215.5,389.0 217.3,389.0" fill="none" stroke="none" marker-start="url(#mJADE)" marker-mid="url(#mJADE)" marker-end="url(#mJADE)"/>
<path d="M33.5,292.0 34.2,340.0 34.9,360.7 36.9,367.5 38.6,370.0 41.0,373.5 43.9,375.9 49.1,377.8 62.2,378.8 96.0,379.3 217.3,379.8" fill="none" stroke="#8080c0" stroke-width="0.60" stroke-linejoin="round"/>
<path d="M33.5,292.0 35.7,363.4 37.7,368.6 39.7,371.6 41.7,374.0 43.6,375.7 45.6,376.5 47.6,377.3 49.6,377.8 51.6,378.0 53.6,378.1 55.6,378.3 57.6,378.4 59.6,378.6 61.5,378.8 63.5,378.8 65.5,378.8 67.5,378.9 69.5,378.9 71.5,378.9 73.5,379.0 75.5,379.0 77.5,379.0 79.4,379.1 81.4,379.1 83.4,379.1 85.4,379.1 87.4,379.2 89.4,379.2 91.4,379.2 93.4,379.3 95.4,379.3 97.3,379.3 99.3,379.3 101.3,379.3 103.3,379.3 105.3,379.3 107.3,379.3 109.3,379.4 111.3,379.4 113.3,379.4 115.2,379.4 117.2,379.4 119.2,379.4 121.2,379.4 123.2,379.4 125.2,379.4 127.2,379.4 129.2,379.4 131.2,379.4 133.2,379.5 135.1,379.5 137.1,379.5 139.1,379.5 141.1,379.5 143.1,379.5 145.1,379.5 147.1,379.5 149.1,379.5 151.1,379.5 153.0,379.5 155.0,379.5 157.0,379.6 159.0,379.6 161.0,379.6 163.0,379.6 165.0,379.6 167.0,379.6 169.0,379.6 170.9,379.6 172.9,379.6 174.9,379.6 176.9,379.6 178.9,379.6 180.9,379.6 182.9,379.7 184.9,379.7 186.9,379.7 188.8,379.7 190.8,379.7 192.8,379.7 194.8,379.7 196.8,379.7 198.8,379.7 200.8,379.7 202.8,379.7 204.8,379.7 206.7,379.8 208.7,379.8 210.7,379.8 212.7,379.8 214.7,379.8 216.7,379.8" fill="none" stroke="none" marker-start="url(#mPGJAYA)" marker-mid="url(#mPGJAYA)" marker-end="url(#mPGJAYA)"/>
<path d="M33.9,294.6 36.2,302.4 38.9,308.7 43.5,313.3 48.0,317.8 52.5,321.5 58.0,326.0 63.4,331.2 67.3,334.1 71.3,336.1 75.2,341.0 79.1,344.0 83.0,344.9 87.0,347.9 90.9,349.9 95.0,350.8 99.9,351.8 101.9,353.8 104.8,357.1 109.7,357.7 114.6,360.7 116.2,363.2 120.5,364.2 130.4,364.6 134.3,365.6 142.2,367.5 148.0,369.5 152.0,371.1 160.0,371.6 217.3,371.9" fill="none" stroke="#008040" stroke-width="0.90" stroke-linejoin="round"/>
<path d="M33.9,294.6 36.8,303.7 39.8,309.6 42.9,312.7 45.9,315.7 49.0,318.6 52.1,321.1 55.1,323.6 58.2,326.2 61.2,329.1 64.3,331.9 67.4,334.1 70.4,335.7 73.5,338.8 76.5,342.0 79.6,344.1 82.7,344.8 85.7,346.9 88.8,348.8 91.8,350.1 94.9,350.8 98.0,351.4 101.0,352.9 104.1,356.3 107.1,357.4 110.2,358.0 113.3,359.9 116.3,363.2 119.4,363.9 122.4,364.3 125.5,364.4 128.6,364.5 131.6,364.9 134.7,365.7 137.7,366.4 140.8,367.2 143.9,368.1 146.9,369.1 150.0,370.3 153.0,371.2 156.1,371.4 159.2,371.5 162.2,371.6 165.3,371.6 168.3,371.6 171.4,371.7 174.5,371.7 177.5,371.7 180.6,371.7 183.6,371.7 186.7,371.7 189.8,371.8 192.8,371.8 195.9,371.8 198.9,371.8 202.0,371.8 205.1,371.8 208.1,371.9 211.2,371.9 214.2,371.9 217.3,371.9" fill="none" stroke="none" marker-start="url(#mRUN)" marker-mid="url(#mRUN)" marker-end="url(#mRUN)"/>
<text x="120.25" y="288.20" font-size="7.0" font-weight="bold" textLength="10.5" lengthAdjust="spacingAndGlyphs">F22</text>
<text x="118.05" y="405.90" font-size="7.4" font-weight="bold" textLength="14.9" lengthAdjust="spacingAndGlyphs">NFE</text>
<path d="M205.20,404.20l3,3m0,-3l-3,3" stroke="#222" stroke-width="0.75"/>
<text x="208.80" y="407.70" font-size="5.8" font-weight="bold">10</text>
<text x="214.50" y="403.80" font-size="4" font-weight="bold">4</text>
<text transform="translate(13.10,339.90) rotate(-90)" x="-27.75" font-size="7.2" font-weight="bold" textLength="55.5" lengthAdjust="spacingAndGlyphs">Objective function</text>
<rect x="255.9" y="290.3" width="183.6" height="97.80000000000001" fill="none" stroke="#555" stroke-width="0.9"/>
<path d="M258.40,388.1v-2.0 M258.40,290.3v2.0" stroke="#000" stroke-width="0.6"/>
<text x="254.40" y="398.90" font-size="5.6" font-weight="bold">10</text>
<text x="260.40" y="394.90" font-size="4" font-weight="bold">2</text>
<path d="M275.15,388.1v-1.2 M275.15,290.3v1.2" stroke="#000" stroke-width="0.6"/>
<path d="M284.95,388.1v-1.2 M284.95,290.3v1.2" stroke="#000" stroke-width="0.6"/>
<path d="M291.90,388.1v-1.2 M291.90,290.3v1.2" stroke="#000" stroke-width="0.6"/>
<path d="M297.30,388.1v-1.2 M297.30,290.3v1.2" stroke="#000" stroke-width="0.6"/>
<path d="M301.70,388.1v-1.2 M301.70,290.3v1.2" stroke="#000" stroke-width="0.6"/>
<path d="M305.43,388.1v-1.2 M305.43,290.3v1.2" stroke="#000" stroke-width="0.6"/>
<path d="M308.66,388.1v-1.2 M308.66,290.3v1.2" stroke="#000" stroke-width="0.6"/>
<path d="M311.50,388.1v-1.2 M311.50,290.3v1.2" stroke="#000" stroke-width="0.6"/>
<path d="M314.05,388.1v-2.0 M314.05,290.3v2.0" stroke="#000" stroke-width="0.6"/>
<text x="310.05" y="398.90" font-size="5.6" font-weight="bold">10</text>
<text x="316.05" y="394.90" font-size="4" font-weight="bold">3</text>
<path d="M330.80,388.1v-1.2 M330.80,290.3v1.2" stroke="#000" stroke-width="0.6"/>
<path d="M340.60,388.1v-1.2 M340.60,290.3v1.2" stroke="#000" stroke-width="0.6"/>
<path d="M347.55,388.1v-1.2 M347.55,290.3v1.2" stroke="#000" stroke-width="0.6"/>
<path d="M352.95,388.1v-1.2 M352.95,290.3v1.2" stroke="#000" stroke-width="0.6"/>
<path d="M357.35,388.1v-1.2 M357.35,290.3v1.2" stroke="#000" stroke-width="0.6"/>
<path d="M361.08,388.1v-1.2 M361.08,290.3v1.2" stroke="#000" stroke-width="0.6"/>
<path d="M364.31,388.1v-1.2 M364.31,290.3v1.2" stroke="#000" stroke-width="0.6"/>
<path d="M367.15,388.1v-1.2 M367.15,290.3v1.2" stroke="#000" stroke-width="0.6"/>
<path d="M369.70,388.1v-2.0 M369.70,290.3v2.0" stroke="#000" stroke-width="0.6"/>
<text x="365.70" y="398.90" font-size="5.6" font-weight="bold">10</text>
<text x="371.70" y="394.90" font-size="4" font-weight="bold">4</text>
<path d="M386.45,388.1v-1.2 M386.45,290.3v1.2" stroke="#000" stroke-width="0.6"/>
<path d="M396.25,388.1v-1.2 M396.25,290.3v1.2" stroke="#000" stroke-width="0.6"/>
<path d="M403.20,388.1v-1.2 M403.20,290.3v1.2" stroke="#000" stroke-width="0.6"/>
<path d="M408.60,388.1v-1.2 M408.60,290.3v1.2" stroke="#000" stroke-width="0.6"/>
<path d="M413.00,388.1v-1.2 M413.00,290.3v1.2" stroke="#000" stroke-width="0.6"/>
<path d="M416.73,388.1v-1.2 M416.73,290.3v1.2" stroke="#000" stroke-width="0.6"/>
<path d="M419.96,388.1v-1.2 M419.96,290.3v1.2" stroke="#000" stroke-width="0.6"/>
<path d="M422.80,388.1v-1.2 M422.80,290.3v1.2" stroke="#000" stroke-width="0.6"/>
<path d="M425.35,388.1v-2.0 M425.35,290.3v2.0" stroke="#000" stroke-width="0.6"/>
<text x="421.35" y="398.90" font-size="5.6" font-weight="bold">10</text>
<text x="427.35" y="394.90" font-size="4" font-weight="bold">5</text>
<path d="M255.9,297.80h2 M439.5,297.80h-2" stroke="#000" stroke-width="0.6"/>
<text x="253.80" y="299.90" text-anchor="end" font-size="6.0" font-weight="bold">14000</text>
<path d="M255.9,306.30h2 M439.5,306.30h-2" stroke="#000" stroke-width="0.6"/>
<text x="253.80" y="308.40" text-anchor="end" font-size="6.0" font-weight="bold">12000</text>
<path d="M255.9,316.40h2 M439.5,316.40h-2" stroke="#000" stroke-width="0.6"/>
<text x="253.80" y="318.50" text-anchor="end" font-size="6.0" font-weight="bold">10000</text>
<path d="M255.9,329.00h2 M439.5,329.00h-2" stroke="#000" stroke-width="0.6"/>
<text x="253.80" y="331.10" text-anchor="end" font-size="6.0" font-weight="bold">8000</text>
<path d="M255.9,345.20h2 M439.5,345.20h-2" stroke="#000" stroke-width="0.6"/>
<text x="253.80" y="347.30" text-anchor="end" font-size="6.0" font-weight="bold">6000</text>
<path d="M255.9,368.20h2 M439.5,368.20h-2" stroke="#000" stroke-width="0.6"/>
<text x="253.80" y="370.30" text-anchor="end" font-size="6.0" font-weight="bold">4000</text>
<path d="M255.9,384.17h1.3 M439.5,384.17h-1.3" stroke="#000" stroke-width="0.5"/>
<path d="M255.9,367.97h1.3 M439.5,367.97h-1.3" stroke="#000" stroke-width="0.5"/>
<path d="M255.9,355.41h1.3 M439.5,355.41h-1.3" stroke="#000" stroke-width="0.5"/>
<path d="M255.9,345.15h1.3 M439.5,345.15h-1.3" stroke="#000" stroke-width="0.5"/>
<path d="M255.9,336.48h1.3 M439.5,336.48h-1.3" stroke="#000" stroke-width="0.5"/>
<path d="M255.9,328.96h1.3 M439.5,328.96h-1.3" stroke="#000" stroke-width="0.5"/>
<path d="M255.9,322.33h1.3 M439.5,322.33h-1.3" stroke="#000" stroke-width="0.5"/>
<path d="M255.9,316.40h1.3 M439.5,316.40h-1.3" stroke="#000" stroke-width="0.5"/>
<path d="M255.9,311.04h1.3 M439.5,311.04h-1.3" stroke="#000" stroke-width="0.5"/>
<path d="M255.9,306.14h1.3 M439.5,306.14h-1.3" stroke="#000" stroke-width="0.5"/>
<path d="M255.9,301.63h1.3 M439.5,301.63h-1.3" stroke="#000" stroke-width="0.5"/>
<path d="M255.9,297.46h1.3 M439.5,297.46h-1.3" stroke="#000" stroke-width="0.5"/>
<path d="M255.9,293.58h1.3 M439.5,293.58h-1.3" stroke="#000" stroke-width="0.5"/>
<path d="M255.9,311.5 260.5,319.6 267.1,329.5 273.6,337.6 281.8,345.8 290.0,352.4 298.2,358.1 304.0,361.4 310.9,365.6 322.9,373.4 329.7,377.4 344.5,382.3 354.3,384.2 385.0,386.2 439.5,387.0" fill="none" stroke="#ff0000" stroke-width="1.00" stroke-linejoin="round"/>
<path d="M255.9,311.5 326.9,375.7 343.6,382.0 353.4,384.0 360.4,384.6 365.8,384.9 370.2,385.2 373.9,385.5 377.1,385.7 380.0,385.9 382.5,386.0 384.8,386.2 386.9,386.2 388.9,386.3 390.7,386.3 392.3,386.3 393.9,386.3 395.3,386.4 396.7,386.4 398.0,386.4 399.3,386.4 400.5,386.4 401.6,386.4 402.7,386.5 403.7,386.5 404.7,386.5 405.6,386.5 406.5,386.5 407.4,386.5 408.3,386.5 409.1,386.6 409.9,386.6 410.6,386.6 411.4,386.6 412.1,386.6 412.8,386.6 413.5,386.6 414.1,386.6 414.8,386.6 415.4,386.6 416.0,386.7 416.6,386.7 417.2,386.7 417.8,386.7 418.3,386.7 418.9,386.7 419.4,386.7 419.9,386.7 420.4,386.7 420.9,386.7 421.4,386.7 421.9,386.7 422.4,386.7 422.8,386.8 423.3,386.8 423.7,386.8 424.2,386.8 424.6,386.8 425.0,386.8 425.4,386.8 425.8,386.8 426.2,386.8 426.6,386.8 427.0,386.8 427.4,386.8 427.8,386.8 428.1,386.8 428.5,386.8 428.9,386.8 429.2,386.8 429.6,386.9 429.9,386.9 430.2,386.9 430.6,386.9 430.9,386.9 431.2,386.9 431.5,386.9 431.9,386.9 432.2,386.9 432.5,386.9 432.8,386.9 433.1,386.9 433.4,386.9 433.7,386.9 434.0,386.9 434.2,386.9 434.5,386.9 434.8,386.9 435.1,386.9 435.4,386.9 435.6,386.9 435.9,386.9 436.2,387.0 436.4,387.0 436.7,387.0 436.9,387.0 437.2,387.0 437.4,387.0 437.7,387.0 437.9,387.0 438.2,387.0 438.4,387.0 438.7,387.0 438.9,387.0 439.1,387.0 439.4,387.0" fill="none" stroke="none" marker-start="url(#mADEPSO)" marker-mid="url(#mADEPSO)" marker-end="url(#mADEPSO)"/>
<path d="M255.9,289.9 261.8,290.9 271.6,292.9 279.5,296.8 286.7,300.2 295.2,305.6 303.1,311.5 309.0,317.4 315.0,326.0 318.0,330.5 321.0,334.0 329.7,343.0 336.6,352.8 345.5,366.5 350.4,373.4 356.3,378.3 362.2,382.3 368.0,384.2 385.0,385.4 439.5,386.6" fill="none" stroke="#00ffff" stroke-width="1.00" stroke-linejoin="round"/>
<path d="M255.9,289.9 328.9,342.2 345.7,366.7 355.5,377.6 362.4,382.4 367.8,384.1 372.2,384.5 375.9,384.8 379.2,385.0 382.0,385.2 384.6,385.4 386.9,385.4 389.0,385.5 390.9,385.5 392.7,385.6 394.4,385.6 395.9,385.6 397.4,385.7 398.8,385.7 400.1,385.7 401.3,385.8 402.5,385.8 403.6,385.8 404.7,385.8 405.7,385.9 406.7,385.9 407.7,385.9 408.6,385.9 409.5,385.9 410.3,386.0 411.1,386.0 411.9,386.0 412.7,386.0 413.4,386.0 414.1,386.0 414.8,386.1 415.5,386.1 416.2,386.1 416.8,386.1 417.5,386.1 418.1,386.1 418.7,386.1 419.3,386.2 419.8,386.2 420.4,386.2 420.9,386.2 421.5,386.2 422.0,386.2 422.5,386.2 423.0,386.2 423.5,386.2 423.9,386.3 424.4,386.3 424.9,386.3 425.3,386.3 425.8,386.3 426.2,386.3 426.6,386.3 427.1,386.3 427.5,386.3 427.9,386.3 428.3,386.4 428.7,386.4 429.1,386.4 429.4,386.4 429.8,386.4 430.2,386.4 430.5,386.4 430.9,386.4 431.3,386.4 431.6,386.4 431.9,386.4 432.3,386.4 432.6,386.4 432.9,386.5 433.3,386.5 433.6,386.5 433.9,386.5 434.2,386.5 434.5,386.5 434.8,386.5 435.1,386.5 435.4,386.5 435.7,386.5 436.0,386.5 436.3,386.5 436.6,386.5 436.9,386.5 437.1,386.5 437.4,386.6 437.7,386.6 437.9,386.6 438.2,386.6 438.5,386.6 438.7,386.6 439.0,386.6 439.2,386.6 439.5,386.6" fill="none" stroke="none" marker-start="url(#mATLDE)" marker-mid="url(#mATLDE)" marker-end="url(#mATLDE)"/>
<path d="M255.9,363.0 263.8,364.6 273.6,366.3 283.5,367.9 293.3,370.4 304.0,372.8 315.0,375.4 329.7,377.4 345.5,379.9 360.0,380.5 370.0,381.1 390.0,383.1 439.5,384.8" fill="none" stroke="#ff00ff" stroke-width="1.00" stroke-linejoin="round"/>
<path d="M255.9,363.0 329.6,377.4 346.3,379.9 356.1,380.3 363.1,380.7 368.5,381.0 372.9,381.4 376.6,381.8 379.8,382.1 382.7,382.4 385.2,382.6 387.5,382.9 389.6,383.1 391.6,383.2 393.3,383.2 395.0,383.3 396.6,383.3 398.0,383.4 399.4,383.4 400.7,383.5 402.0,383.5 403.1,383.6 404.3,383.6 405.3,383.6 406.4,383.7 407.4,383.7 408.3,383.7 409.2,383.8 410.1,383.8 410.9,383.8 411.8,383.8 412.6,383.9 413.3,383.9 414.1,383.9 414.8,384.0 415.5,384.0 416.2,384.0 416.8,384.0 417.5,384.0 418.1,384.1 418.7,384.1 419.3,384.1 419.9,384.1 420.5,384.1 421.0,384.2 421.6,384.2 422.1,384.2 422.6,384.2 423.1,384.2 423.6,384.3 424.1,384.3 424.6,384.3 425.1,384.3 425.5,384.3 426.0,384.3 426.4,384.4 426.8,384.4 427.3,384.4 427.7,384.4 428.1,384.4 428.5,384.4 428.9,384.4 429.3,384.5 429.7,384.5 430.1,384.5 430.5,384.5 430.8,384.5 431.2,384.5 431.5,384.5 431.9,384.5 432.2,384.6 432.6,384.6 432.9,384.6 433.3,384.6 433.6,384.6 433.9,384.6 434.2,384.6 434.5,384.6 434.9,384.6 435.2,384.7 435.5,384.7 435.8,384.7 436.1,384.7 436.4,384.7 436.6,384.7 436.9,384.7 437.2,384.7 437.5,384.7 437.8,384.7 438.0,384.8 438.3,384.8 438.6,384.8 438.8,384.8 439.1,384.8 439.4,384.8" fill="none" stroke="none" marker-start="url(#mCGSCA)" marker-mid="url(#mCGSCA)" marker-end="url(#mCGSCA)"/>
<path d="M255.9,334.0 263.8,338.5 273.6,343.4 281.8,347.5 290.0,351.6 298.2,354.8 304.0,357.3 310.9,360.5 315.0,364.4 324.8,369.0 334.6,371.7 346.4,374.3 354.3,375.3 364.1,375.8 373.9,376.0 439.5,376.2" fill="none" stroke="#00ee00" stroke-width="1.00" stroke-linejoin="round"/>
<path d="M255.9,334.0 347.3,374.4 364.0,375.8 373.8,376.0 380.8,376.0 386.1,376.0 390.6,376.1 394.3,376.1 397.5,376.1 400.4,376.1 402.9,376.1 405.2,376.1 407.3,376.1 409.2,376.1 411.0,376.1 412.7,376.1 414.3,376.1 415.7,376.1 417.1,376.1 418.4,376.1 419.7,376.1 420.8,376.1 422.0,376.1 423.0,376.1 424.1,376.2 425.0,376.2 426.0,376.2 426.9,376.2 427.8,376.2 428.6,376.2 429.5,376.2 430.2,376.2 431.0,376.2 431.8,376.2 432.5,376.2 433.2,376.2 433.9,376.2 434.5,376.2 435.2,376.2 435.8,376.2 436.4,376.2 437.0,376.2 437.6,376.2 438.2,376.2 438.7,376.2 439.3,376.2" fill="none" stroke="none" marker-start="url(#mGOTLBO)" marker-mid="url(#mGOTLBO)" marker-end="url(#mGOTLBO)"/>
<path d="M255.9,327.0 263.8,334.4 273.6,343.4 281.8,349.1 286.7,354.0 291.6,360.6 296.6,365.5 304.0,372.8 310.9,380.3 314.9,384.2 322.0,385.2 326.8,385.8 342.5,386.6 385.0,387.2 439.5,387.6" fill="none" stroke="#0000ff" stroke-width="1.20" stroke-linejoin="round"/>
<path d="M255.9,327.0 326.9,385.8 343.6,386.6 353.4,386.8 360.4,386.9 365.8,386.9 370.2,387.0 373.9,387.0 377.1,387.1 380.0,387.1 382.5,387.2 384.8,387.2 386.9,387.2 388.9,387.2 390.7,387.2 392.3,387.3 393.9,387.3 395.3,387.3 396.7,387.3 398.0,387.3 399.3,387.3 400.5,387.3 401.6,387.3 402.7,387.3 403.7,387.3 404.7,387.3 405.6,387.4 406.5,387.4 407.4,387.4 408.3,387.4 409.1,387.4 409.9,387.4 410.6,387.4 411.4,387.4 412.1,387.4 412.8,387.4 413.5,387.4 414.1,387.4 414.8,387.4 415.4,387.4 416.0,387.4 416.6,387.4 417.2,387.4 417.8,387.4 418.3,387.4 418.9,387.4 419.4,387.5 419.9,387.5 420.4,387.5 420.9,387.5 421.4,387.5 421.9,387.5 422.4,387.5 422.8,387.5 423.3,387.5 423.7,387.5 424.2,387.5 424.6,387.5 425.0,387.5 425.4,387.5 425.8,387.5 426.2,387.5 426.6,387.5 427.0,387.5 427.4,387.5 427.8,387.5 428.1,387.5 428.5,387.5 428.9,387.5 429.2,387.5 429.6,387.5 429.9,387.5 430.2,387.5 430.6,387.5 430.9,387.5 431.2,387.5 431.5,387.5 431.9,387.5 432.2,387.5 432.5,387.5 432.8,387.6 433.1,387.6 433.4,387.6 433.7,387.6 434.0,387.6 434.2,387.6 434.5,387.6 434.8,387.6 435.1,387.6 435.4,387.6 435.6,387.6 435.9,387.6 436.2,387.6 436.4,387.6 436.7,387.6 436.9,387.6 437.2,387.6 437.4,387.6 437.7,387.6 437.9,387.6 438.2,387.6 438.4,387.6 438.7,387.6 438.9,387.6 439.1,387.6 439.4,387.6" fill="none" stroke="none" marker-start="url(#mIRUN)" marker-mid="url(#mIRUN)" marker-end="url(#mIRUN)"/>
<path d="M255.9,303.3 263.8,309.0 273.6,314.7 281.8,321.3 288.4,329.5 293.3,334.4 298.2,339.3 304.0,346.6 310.9,356.7 316.8,362.6 322.9,368.5 329.7,376.4 336.6,380.3 344.5,382.9 354.3,385.2 366.1,386.2 439.5,387.2" fill="none" stroke="#ec8a12" stroke-width="1.00" stroke-linejoin="round"/>
<path d="M255.9,303.3 328.3,374.7 345.0,383.0 354.8,385.2 361.8,385.8 367.2,386.2 371.6,386.3 375.3,386.3 378.5,386.4 381.4,386.4 383.9,386.4 386.2,386.5 388.3,386.5 390.2,386.5 392.0,386.6 393.7,386.6 395.3,386.6 396.7,386.6 398.1,386.6 399.4,386.7 400.7,386.7 401.8,386.7 403.0,386.7 404.0,386.7 405.1,386.7 406.1,386.7 407.0,386.8 407.9,386.8 408.8,386.8 409.6,386.8 410.5,386.8 411.3,386.8 412.0,386.8 412.8,386.8 413.5,386.8 414.2,386.9 414.9,386.9 415.5,386.9 416.2,386.9 416.8,386.9 417.4,386.9 418.0,386.9 418.6,386.9 419.2,386.9 419.7,386.9 420.3,386.9 420.8,386.9 421.3,387.0 421.8,387.0 422.3,387.0 422.8,387.0 423.3,387.0 423.8,387.0 424.2,387.0 424.7,387.0 425.1,387.0 425.5,387.0 426.0,387.0 426.4,387.0 426.8,387.0 427.2,387.0 427.6,387.0 428.0,387.0 428.4,387.0 428.8,387.1 429.1,387.1 429.5,387.1 429.9,387.1 430.2,387.1 430.6,387.1 430.9,387.1 431.3,387.1 431.6,387.1 431.9,387.1 432.3,387.1 432.6,387.1 432.9,387.1 433.2,387.1 433.6,387.1 433.9,387.1 434.2,387.1 434.5,387.1 434.8,387.1 435.1,387.1 435.3,387.1 435.6,387.1 435.9,387.2 436.2,387.2 436.5,387.2 436.7,387.2 437.0,387.2 437.3,387.2 437.5,387.2 437.8,387.2 438.1,387.2 438.3,387.2 438.6,387.2 438.8,387.2 439.1,387.2 439.3,387.2" fill="none" stroke="none" marker-start="url(#mJADE)" marker-mid="url(#mJADE)" marker-end="url(#mJADE)"/>
<path d="M255.9,318.8 263.8,331.1 273.6,342.6 281.8,352.4 290.0,360.6 298.2,365.5 304.0,367.9 315.0,372.4 329.7,378.3 344.5,382.3 364.1,384.2 385.0,385.2 439.5,386.5" fill="none" stroke="#8080c0" stroke-width="1.00" stroke-linejoin="round"/>
<path d="M255.9,318.8 330.2,378.4 346.9,382.5 356.7,383.5 363.7,384.2 369.1,384.4 373.5,384.6 377.2,384.8 380.4,385.0 383.3,385.1 385.8,385.2 388.1,385.3 390.2,385.3 392.2,385.4 394.0,385.4 395.6,385.5 397.2,385.5 398.7,385.5 400.0,385.6 401.4,385.6 402.6,385.6 403.8,385.6 404.9,385.7 406.0,385.7 407.0,385.7 408.0,385.7 408.9,385.8 409.8,385.8 410.7,385.8 411.6,385.8 412.4,385.9 413.2,385.9 414.0,385.9 414.7,385.9 415.4,385.9 416.1,385.9 416.8,386.0 417.5,386.0 418.1,386.0 418.7,386.0 419.3,386.0 419.9,386.0 420.5,386.0 421.1,386.1 421.6,386.1 422.2,386.1 422.7,386.1 423.2,386.1 423.8,386.1 424.2,386.1 424.7,386.1 425.2,386.2 425.7,386.2 426.1,386.2 426.6,386.2 427.0,386.2 427.5,386.2 427.9,386.2 428.3,386.2 428.7,386.2 429.1,386.3 429.5,386.3 429.9,386.3 430.3,386.3 430.7,386.3 431.1,386.3 431.4,386.3 431.8,386.3 432.2,386.3 432.5,386.3 432.9,386.3 433.2,386.4 433.6,386.4 433.9,386.4 434.2,386.4 434.5,386.4 434.9,386.4 435.2,386.4 435.5,386.4 435.8,386.4 436.1,386.4 436.4,386.4 436.7,386.4 437.0,386.4 437.3,386.4 437.6,386.5 437.8,386.5 438.1,386.5 438.4,386.5 438.7,386.5 438.9,386.5 439.2,386.5 439.5,386.5" fill="none" stroke="none" marker-start="url(#mPGJAYA)" marker-mid="url(#mPGJAYA)" marker-end="url(#mPGJAYA)"/>
<path d="M255.9,345.5 263.8,349.1 273.6,353.2 281.8,356.0 290.0,358.6 298.2,360.6 304.0,361.9 310.9,362.5 315.0,363.6 324.8,366.5 334.6,368.6 346.4,372.0 358.2,375.4 370.1,378.5 390.2,382.1 410.4,385.1 439.5,386.4" fill="none" stroke="#008040" stroke-width="1.10" stroke-linejoin="round"/>
<path d="M255.9,345.5 340.6,370.3 357.4,375.2 367.2,377.7 374.1,379.2 379.5,380.2 383.9,381.0 387.6,381.6 390.9,382.2 393.7,382.6 396.3,383.0 398.6,383.3 400.7,383.7 402.6,383.9 404.4,384.2 406.1,384.5 407.6,384.7 409.1,384.9 410.5,385.1 411.8,385.2 413.0,385.2 414.2,385.3 415.3,385.3 416.4,385.4 417.4,385.4 418.4,385.5 419.3,385.5 420.3,385.5 421.1,385.6 422.0,385.6 422.8,385.7 423.6,385.7 424.4,385.7 425.1,385.8 425.8,385.8 426.5,385.8 427.2,385.9 427.9,385.9 428.5,385.9 429.1,385.9 429.8,386.0 430.4,386.0 430.9,386.0 431.5,386.0 432.1,386.1 432.6,386.1 433.1,386.1 433.7,386.1 434.2,386.2 434.7,386.2 435.1,386.2 435.6,386.2 436.1,386.2 436.6,386.3 437.0,386.3 437.5,386.3 437.9,386.3 438.3,386.3 438.7,386.4 439.1,386.4" fill="none" stroke="none" marker-start="url(#mRUN)" marker-mid="url(#mRUN)" marker-end="url(#mRUN)"/>
<text x="342.45" y="288.10" font-size="7.0" font-weight="bold" textLength="10.5" lengthAdjust="spacingAndGlyphs">F25</text>
<text x="340.25" y="406.90" font-size="7.4" font-weight="bold" textLength="14.9" lengthAdjust="spacingAndGlyphs">NFE</text>
<text transform="translate(235.10,339.20) rotate(-90)" x="-27.75" font-size="7.2" font-weight="bold" textLength="55.5" lengthAdjust="spacingAndGlyphs">Objective function</text>
<rect x="38.1" y="425.2" width="183.3" height="98.19999999999999" fill="none" stroke="#555" stroke-width="0.9"/>
<path d="M40.40,523.4v-2.0 M40.40,425.2v2.0" stroke="#000" stroke-width="0.6"/>
<text x="36.40" y="534.20" font-size="5.6" font-weight="bold">10</text>
<text x="42.40" y="530.20" font-size="4" font-weight="bold">2</text>
<path d="M57.17,523.4v-1.2 M57.17,425.2v1.2" stroke="#000" stroke-width="0.6"/>
<path d="M66.98,523.4v-1.2 M66.98,425.2v1.2" stroke="#000" stroke-width="0.6"/>
<path d="M73.93,523.4v-1.2 M73.93,425.2v1.2" stroke="#000" stroke-width="0.6"/>
<path d="M79.33,523.4v-1.2 M79.33,425.2v1.2" stroke="#000" stroke-width="0.6"/>
<path d="M83.74,523.4v-1.2 M83.74,425.2v1.2" stroke="#000" stroke-width="0.6"/>
<path d="M87.47,523.4v-1.2 M87.47,425.2v1.2" stroke="#000" stroke-width="0.6"/>
<path d="M90.70,523.4v-1.2 M90.70,425.2v1.2" stroke="#000" stroke-width="0.6"/>
<path d="M93.55,523.4v-1.2 M93.55,425.2v1.2" stroke="#000" stroke-width="0.6"/>
<path d="M96.10,523.4v-2.0 M96.10,425.2v2.0" stroke="#000" stroke-width="0.6"/>
<text x="92.10" y="534.20" font-size="5.6" font-weight="bold">10</text>
<text x="98.10" y="530.20" font-size="4" font-weight="bold">3</text>
<path d="M112.87,523.4v-1.2 M112.87,425.2v1.2" stroke="#000" stroke-width="0.6"/>
<path d="M122.68,523.4v-1.2 M122.68,425.2v1.2" stroke="#000" stroke-width="0.6"/>
<path d="M129.63,523.4v-1.2 M129.63,425.2v1.2" stroke="#000" stroke-width="0.6"/>
<path d="M135.03,523.4v-1.2 M135.03,425.2v1.2" stroke="#000" stroke-width="0.6"/>
<path d="M139.44,523.4v-1.2 M139.44,425.2v1.2" stroke="#000" stroke-width="0.6"/>
<path d="M143.17,523.4v-1.2 M143.17,425.2v1.2" stroke="#000" stroke-width="0.6"/>
<path d="M146.40,523.4v-1.2 M146.40,425.2v1.2" stroke="#000" stroke-width="0.6"/>
<path d="M149.25,523.4v-1.2 M149.25,425.2v1.2" stroke="#000" stroke-width="0.6"/>
<path d="M151.80,523.4v-2.0 M151.80,425.2v2.0" stroke="#000" stroke-width="0.6"/>
<text x="147.80" y="534.20" font-size="5.6" font-weight="bold">10</text>
<text x="153.80" y="530.20" font-size="4" font-weight="bold">4</text>
<path d="M168.57,523.4v-1.2 M168.57,425.2v1.2" stroke="#000" stroke-width="0.6"/>
<path d="M178.38,523.4v-1.2 M178.38,425.2v1.2" stroke="#000" stroke-width="0.6"/>
<path d="M185.33,523.4v-1.2 M185.33,425.2v1.2" stroke="#000" stroke-width="0.6"/>
<path d="M190.73,523.4v-1.2 M190.73,425.2v1.2" stroke="#000" stroke-width="0.6"/>
<path d="M195.14,523.4v-1.2 M195.14,425.2v1.2" stroke="#000" stroke-width="0.6"/>
<path d="M198.87,523.4v-1.2 M198.87,425.2v1.2" stroke="#000" stroke-width="0.6"/>
<path d="M202.10,523.4v-1.2 M202.10,425.2v1.2" stroke="#000" stroke-width="0.6"/>
<path d="M204.95,523.4v-1.2 M204.95,425.2v1.2" stroke="#000" stroke-width="0.6"/>
<path d="M207.50,523.4v-2.0 M207.50,425.2v2.0" stroke="#000" stroke-width="0.6"/>
<text x="203.50" y="534.20" font-size="5.6" font-weight="bold">10</text>
<text x="209.50" y="530.20" font-size="4" font-weight="bold">5</text>
<path d="M38.1,428.40h2 M221.4,428.40h-2" stroke="#000" stroke-width="0.6"/>
<text x="36.00" y="430.50" text-anchor="end" font-size="6.0" font-weight="bold">11000</text>
<path d="M38.1,435.50h2 M221.4,435.50h-2" stroke="#000" stroke-width="0.6"/>
<text x="36.00" y="437.60" text-anchor="end" font-size="6.0" font-weight="bold">10000</text>
<path d="M38.1,443.40h2 M221.4,443.40h-2" stroke="#000" stroke-width="0.6"/>
<text x="36.00" y="445.50" text-anchor="end" font-size="6.0" font-weight="bold">9000</text>
<path d="M38.1,452.40h2 M221.4,452.40h-2" stroke="#000" stroke-width="0.6"/>
<text x="36.00" y="454.50" text-anchor="end" font-size="6.0" font-weight="bold">8000</text>
<path d="M38.1,462.50h2 M221.4,462.50h-2" stroke="#000" stroke-width="0.6"/>
<text x="36.00" y="464.60" text-anchor="end" font-size="6.0" font-weight="bold">7000</text>
<path d="M38.1,473.60h2 M221.4,473.60h-2" stroke="#000" stroke-width="0.6"/>
<text x="36.00" y="475.70" text-anchor="end" font-size="6.0" font-weight="bold">6000</text>
<path d="M38.1,487.60h2 M221.4,487.60h-2" stroke="#000" stroke-width="0.6"/>
<text x="36.00" y="489.70" text-anchor="end" font-size="6.0" font-weight="bold">5000</text>
<path d="M38.1,504.00h2 M221.4,504.00h-2" stroke="#000" stroke-width="0.6"/>
<text x="36.00" y="506.10" text-anchor="end" font-size="6.0" font-weight="bold">4000</text>
<path d="M38.1,520.86h1.3 M221.4,520.86h-1.3" stroke="#000" stroke-width="0.5"/>
<path d="M38.1,518.56h1.3 M221.4,518.56h-1.3" stroke="#000" stroke-width="0.5"/>
<path d="M38.1,516.32h1.3 M221.4,516.32h-1.3" stroke="#000" stroke-width="0.5"/>
<path d="M38.1,514.15h1.3 M221.4,514.15h-1.3" stroke="#000" stroke-width="0.5"/>
<path d="M38.1,512.04h1.3 M221.4,512.04h-1.3" stroke="#000" stroke-width="0.5"/>
<path d="M38.1,509.99h1.3 M221.4,509.99h-1.3" stroke="#000" stroke-width="0.5"/>
<path d="M38.1,507.99h1.3 M221.4,507.99h-1.3" stroke="#000" stroke-width="0.5"/>
<path d="M38.1,506.04h1.3 M221.4,506.04h-1.3" stroke="#000" stroke-width="0.5"/>
<path d="M38.1,504.14h1.3 M221.4,504.14h-1.3" stroke="#000" stroke-width="0.5"/>
<path d="M38.1,502.29h1.3 M221.4,502.29h-1.3" stroke="#000" stroke-width="0.5"/>
<path d="M38.1,500.49h1.3 M221.4,500.49h-1.3" stroke="#000" stroke-width="0.5"/>
<path d="M38.1,498.73h1.3 M221.4,498.73h-1.3" stroke="#000" stroke-width="0.5"/>
<path d="M38.1,497.00h1.3 M221.4,497.00h-1.3" stroke="#000" stroke-width="0.5"/>
<path d="M38.1,495.32h1.3 M221.4,495.32h-1.3" stroke="#000" stroke-width="0.5"/>
<path d="M38.1,493.67h1.3 M221.4,493.67h-1.3" stroke="#000" stroke-width="0.5"/>
<path d="M38.1,492.06h1.3 M221.4,492.06h-1.3" stroke="#000" stroke-width="0.5"/>
<path d="M38.1,490.49h1.3 M221.4,490.49h-1.3" stroke="#000" stroke-width="0.5"/>
<path d="M38.1,488.94h1.3 M221.4,488.94h-1.3" stroke="#000" stroke-width="0.5"/>
<path d="M38.1,487.43h1.3 M221.4,487.43h-1.3" stroke="#000" stroke-width="0.5"/>
<path d="M38.1,485.94h1.3 M221.4,485.94h-1.3" stroke="#000" stroke-width="0.5"/>
<path d="M38.1,484.49h1.3 M221.4,484.49h-1.3" stroke="#000" stroke-width="0.5"/>
<path d="M38.1,483.06h1.3 M221.4,483.06h-1.3" stroke="#000" stroke-width="0.5"/>
<path d="M38.1,481.66h1.3 M221.4,481.66h-1.3" stroke="#000" stroke-width="0.5"/>
<path d="M38.1,480.29h1.3 M221.4,480.29h-1.3" stroke="#000" stroke-width="0.5"/>
<path d="M38.1,478.94h1.3 M221.4,478.94h-1.3" stroke="#000" stroke-width="0.5"/>
<path d="M38.1,477.61h1.3 M221.4,477.61h-1.3" stroke="#000" stroke-width="0.5"/>
<path d="M38.1,476.31h1.3 M221.4,476.31h-1.3" stroke="#000" stroke-width="0.5"/>
<path d="M38.1,475.03h1.3 M221.4,475.03h-1.3" stroke="#000" stroke-width="0.5"/>
<path d="M38.1,473.77h1.3 M221.4,473.77h-1.3" stroke="#000" stroke-width="0.5"/>
<path d="M38.1,472.53h1.3 M221.4,472.53h-1.3" stroke="#000" stroke-width="0.5"/>
<path d="M38.1,471.31h1.3 M221.4,471.31h-1.3" stroke="#000" stroke-width="0.5"/>
<path d="M38.1,470.11h1.3 M221.4,470.11h-1.3" stroke="#000" stroke-width="0.5"/>
<path d="M38.1,468.93h1.3 M221.4,468.93h-1.3" stroke="#000" stroke-width="0.5"/>
<path d="M38.1,467.77h1.3 M221.4,467.77h-1.3" stroke="#000" stroke-width="0.5"/>
<path d="M38.1,466.63h1.3 M221.4,466.63h-1.3" stroke="#000" stroke-width="0.5"/>
<path d="M38.1,465.50h1.3 M221.4,465.50h-1.3" stroke="#000" stroke-width="0.5"/>
<path d="M38.1,464.39h1.3 M221.4,464.39h-1.3" stroke="#000" stroke-width="0.5"/>
<path d="M38.1,463.30h1.3 M221.4,463.30h-1.3" stroke="#000" stroke-width="0.5"/>
<path d="M38.1,462.22h1.3 M221.4,462.22h-1.3" stroke="#000" stroke-width="0.5"/>
<path d="M38.1,461.16h1.3 M221.4,461.16h-1.3" stroke="#000" stroke-width="0.5"/>
<path d="M38.1,460.11h1.3 M221.4,460.11h-1.3" stroke="#000" stroke-width="0.5"/>
<path d="M38.1,459.08h1.3 M221.4,459.08h-1.3" stroke="#000" stroke-width="0.5"/>
<path d="M38.1,458.06h1.3 M221.4,458.06h-1.3" stroke="#000" stroke-width="0.5"/>
<path d="M38.1,457.05h1.3 M221.4,457.05h-1.3" stroke="#000" stroke-width="0.5"/>
<path d="M38.1,456.06h1.3 M221.4,456.06h-1.3" stroke="#000" stroke-width="0.5"/>
<path d="M38.1,455.08h1.3 M221.4,455.08h-1.3" stroke="#000" stroke-width="0.5"/>
<path d="M38.1,454.11h1.3 M221.4,454.11h-1.3" stroke="#000" stroke-width="0.5"/>
<path d="M38.1,453.16h1.3 M221.4,453.16h-1.3" stroke="#000" stroke-width="0.5"/>
<path d="M38.1,452.22h1.3 M221.4,452.22h-1.3" stroke="#000" stroke-width="0.5"/>
<path d="M38.1,451.29h1.3 M221.4,451.29h-1.3" stroke="#000" stroke-width="0.5"/>
<path d="M38.1,450.37h1.3 M221.4,450.37h-1.3" stroke="#000" stroke-width="0.5"/>
<path d="M38.1,449.46h1.3 M221.4,449.46h-1.3" stroke="#000" stroke-width="0.5"/>
<path d="M38.1,448.56h1.3 M221.4,448.56h-1.3" stroke="#000" stroke-width="0.5"/>
<path d="M38.1,447.68h1.3 M221.4,447.68h-1.3" stroke="#000" stroke-width="0.5"/>
<path d="M38.1,446.80h1.3 M221.4,446.80h-1.3" stroke="#000" stroke-width="0.5"/>
<path d="M38.1,445.93h1.3 M221.4,445.93h-1.3" stroke="#000" stroke-width="0.5"/>
<path d="M38.1,445.08h1.3 M221.4,445.08h-1.3" stroke="#000" stroke-width="0.5"/>
<path d="M38.1,444.23h1.3 M221.4,444.23h-1.3" stroke="#000" stroke-width="0.5"/>
<path d="M38.1,443.39h1.3 M221.4,443.39h-1.3" stroke="#000" stroke-width="0.5"/>
<path d="M38.1,442.57h1.3 M221.4,442.57h-1.3" stroke="#000" stroke-width="0.5"/>
<path d="M38.1,441.75h1.3 M221.4,441.75h-1.3" stroke="#000" stroke-width="0.5"/>
<path d="M38.1,440.94h1.3 M221.4,440.94h-1.3" stroke="#000" stroke-width="0.5"/>
<path d="M38.1,440.14h1.3 M221.4,440.14h-1.3" stroke="#000" stroke-width="0.5"/>
<path d="M38.1,439.34h1.3 M221.4,439.34h-1.3" stroke="#000" stroke-width="0.5"/>
<path d="M38.1,438.56h1.3 M221.4,438.56h-1.3" stroke="#000" stroke-width="0.5"/>
<path d="M38.1,437.78h1.3 M221.4,437.78h-1.3" stroke="#000" stroke-width="0.5"/>
<path d="M38.1,437.01h1.3 M221.4,437.01h-1.3" stroke="#000" stroke-width="0.5"/>
<path d="M38.1,436.25h1.3 M221.4,436.25h-1.3" stroke="#000" stroke-width="0.5"/>
<path d="M38.1,435.50h1.3 M221.4,435.50h-1.3" stroke="#000" stroke-width="0.5"/>
<path d="M38.1,434.75h1.3 M221.4,434.75h-1.3" stroke="#000" stroke-width="0.5"/>
<path d="M38.1,434.02h1.3 M221.4,434.02h-1.3" stroke="#000" stroke-width="0.5"/>
<path d="M38.1,433.29h1.3 M221.4,433.29h-1.3" stroke="#000" stroke-width="0.5"/>
<path d="M38.1,432.56h1.3 M221.4,432.56h-1.3" stroke="#000" stroke-width="0.5"/>
<path d="M38.1,431.84h1.3 M221.4,431.84h-1.3" stroke="#000" stroke-width="0.5"/>
<path d="M38.1,431.13h1.3 M221.4,431.13h-1.3" stroke="#000" stroke-width="0.5"/>
<path d="M38.1,430.43h1.3 M221.4,430.43h-1.3" stroke="#000" stroke-width="0.5"/>
<path d="M38.1,429.73h1.3 M221.4,429.73h-1.3" stroke="#000" stroke-width="0.5"/>
<path d="M38.1,429.04h1.3 M221.4,429.04h-1.3" stroke="#000" stroke-width="0.5"/>
<path d="M38.1,428.36h1.3 M221.4,428.36h-1.3" stroke="#000" stroke-width="0.5"/>
<path d="M38.1,427.68h1.3 M221.4,427.68h-1.3" stroke="#000" stroke-width="0.5"/>
<path d="M38.1,427.01h1.3 M221.4,427.01h-1.3" stroke="#000" stroke-width="0.5"/>
<path d="M38.1,426.34h1.3 M221.4,426.34h-1.3" stroke="#000" stroke-width="0.5"/>
<path d="M38.1,436.8 42.6,441.1 49.1,446.1 55.7,451.5 60.1,455.5 63.4,457.5 67.7,462.5 71.0,464.5 74.1,468.0 77.6,470.5 81.7,475.0 86.0,478.5 88.1,481.0 95.7,487.5 100.0,490.5 104.2,494.8 111.1,499.1 119.7,505.1 127.5,511.2 137.0,515.5 148.9,517.6 160.0,519.2 190.0,521.0 221.4,522.0" fill="none" stroke="#ff0000" stroke-width="1.00" stroke-linejoin="round"/>
<path d="M38.1,436.8 108.9,497.8 125.7,509.8 135.5,514.8 142.5,516.5 147.9,517.4 152.3,518.1 156.0,518.6 159.2,519.1 162.1,519.3 164.6,519.5 166.9,519.6 169.0,519.7 171.0,519.9 172.8,520.0 174.4,520.1 176.0,520.2 177.5,520.2 178.9,520.3 180.2,520.4 181.4,520.5 182.6,520.6 183.7,520.6 184.8,520.7 185.8,520.7 186.8,520.8 187.8,520.9 188.7,520.9 189.5,521.0 190.4,521.0 191.2,521.0 192.0,521.1 192.8,521.1 193.5,521.1 194.2,521.1 194.9,521.2 195.6,521.2 196.3,521.2 196.9,521.2 197.6,521.2 198.2,521.3 198.8,521.3 199.4,521.3 199.9,521.3 200.5,521.3 201.0,521.4 201.6,521.4 202.1,521.4 202.6,521.4 203.1,521.4 203.6,521.4 204.0,521.4 204.5,521.5 205.0,521.5 205.4,521.5 205.9,521.5 206.3,521.5 206.7,521.5 207.2,521.5 207.6,521.6 208.0,521.6 208.4,521.6 208.8,521.6 209.2,521.6 209.5,521.6 209.9,521.6 210.3,521.6 210.6,521.7 211.0,521.7 211.4,521.7 211.7,521.7 212.1,521.7 212.4,521.7 212.7,521.7 213.1,521.7 213.4,521.7 213.7,521.8 214.0,521.8 214.3,521.8 214.6,521.8 214.9,521.8 215.2,521.8 215.5,521.8 215.8,521.8 216.1,521.8 216.4,521.8 216.7,521.8 217.0,521.9 217.2,521.9 217.5,521.9 217.8,521.9 218.1,521.9 218.3,521.9 218.6,521.9 218.8,521.9 219.1,521.9 219.3,521.9 219.6,521.9 219.8,522.0 220.1,522.0 220.3,522.0 220.6,522.0 220.8,522.0 221.1,522.0 221.3,522.0" fill="none" stroke="none" marker-start="url(#mADEPSO)" marker-mid="url(#mADEPSO)" marker-end="url(#mADEPSO)"/>
<path d="M38.1,425.1 46.9,426.9 57.9,429.7 68.8,432.9 74.3,436.2 79.8,440.3 86.5,445.0 93.8,452.5 100.7,459.4 105.9,466.3 111.1,473.2 116.3,480.1 121.5,487.0 126.6,493.9 131.8,500.8 137.0,505.1 143.9,511.2 150.0,514.6 160.0,517.2 180.0,519.5 221.4,521.0" fill="none" stroke="#00ffff" stroke-width="1.00" stroke-linejoin="round"/>
<path d="M38.1,425.1 111.0,473.0 127.7,495.4 137.6,505.6 144.5,511.5 149.9,514.6 154.3,515.7 158.1,516.7 161.3,517.3 164.1,517.7 166.7,518.0 169.0,518.2 171.1,518.5 173.0,518.7 174.8,518.9 176.5,519.1 178.1,519.3 179.5,519.4 180.9,519.5 182.2,519.6 183.4,519.6 184.6,519.7 185.8,519.7 186.8,519.7 187.9,519.8 188.8,519.8 189.8,519.9 190.7,519.9 191.6,519.9 192.4,520.0 193.3,520.0 194.1,520.0 194.8,520.0 195.6,520.1 196.3,520.1 197.0,520.1 197.7,520.1 198.3,520.2 199.0,520.2 199.6,520.2 200.2,520.2 200.8,520.3 201.4,520.3 202.0,520.3 202.5,520.3 203.1,520.3 203.6,520.4 204.1,520.4 204.6,520.4 205.1,520.4 205.6,520.4 206.1,520.4 206.6,520.5 207.0,520.5 207.5,520.5 207.9,520.5 208.4,520.5 208.8,520.5 209.2,520.6 209.6,520.6 210.0,520.6 210.4,520.6 210.8,520.6 211.2,520.6 211.6,520.6 212.0,520.7 212.3,520.7 212.7,520.7 213.1,520.7 213.4,520.7 213.8,520.7 214.1,520.7 214.4,520.7 214.8,520.8 215.1,520.8 215.4,520.8 215.7,520.8 216.1,520.8 216.4,520.8 216.7,520.8 217.0,520.8 217.3,520.9 217.6,520.9 217.9,520.9 218.2,520.9 218.5,520.9 218.7,520.9 219.0,520.9 219.3,520.9 219.6,520.9 219.8,520.9 220.1,521.0 220.4,521.0 220.6,521.0 220.9,521.0 221.1,521.0 221.4,521.0" fill="none" stroke="none" marker-start="url(#mATLDE)" marker-mid="url(#mATLDE)" marker-end="url(#mATLDE)"/>
<path d="M38.1,462.3 42.6,465.8 49.1,470.1 55.4,475.0 60.1,480.2 65.2,485.5 70.3,489.4 72.8,493.2 76.6,499.5 80.4,503.3 85.5,507.2 90.6,509.7 100.0,511.2 111.6,512.3 127.3,513.9 143.0,515.3 160.0,516.5 190.0,518.2 221.4,519.5" fill="none" stroke="#ff00ff" stroke-width="1.00" stroke-linejoin="round"/>
<path d="M38.1,462.3 111.6,512.3 128.4,514.0 138.2,514.9 145.2,515.5 150.6,515.8 155.0,516.1 158.7,516.4 161.9,516.6 164.8,516.8 167.3,516.9 169.6,517.0 171.7,517.2 173.7,517.3 175.5,517.4 177.1,517.5 178.7,517.6 180.2,517.6 181.5,517.7 182.9,517.8 184.1,517.9 185.3,517.9 186.4,518.0 187.5,518.1 188.5,518.1 189.5,518.2 190.4,518.2 191.4,518.3 192.2,518.3 193.1,518.3 193.9,518.4 194.7,518.4 195.5,518.4 196.2,518.5 196.9,518.5 197.6,518.5 198.3,518.5 199.0,518.6 199.6,518.6 200.2,518.6 200.9,518.6 201.5,518.7 202.0,518.7 202.6,518.7 203.2,518.7 203.7,518.8 204.2,518.8 204.8,518.8 205.3,518.8 205.8,518.9 206.3,518.9 206.7,518.9 207.2,518.9 207.7,518.9 208.1,519.0 208.6,519.0 209.0,519.0 209.4,519.0 209.8,519.0 210.3,519.0 210.7,519.1 211.1,519.1 211.5,519.1 211.8,519.1 212.2,519.1 212.6,519.1 213.0,519.2 213.3,519.2 213.7,519.2 214.1,519.2 214.4,519.2 214.7,519.2 215.1,519.2 215.4,519.3 215.7,519.3 216.1,519.3 216.4,519.3 216.7,519.3 217.0,519.3 217.3,519.3 217.6,519.3 217.9,519.4 218.2,519.4 218.5,519.4 218.8,519.4 219.1,519.4 219.4,519.4 219.7,519.4 219.9,519.4 220.2,519.5 220.5,519.5 220.7,519.5 221.0,519.5 221.3,519.5" fill="none" stroke="none" marker-start="url(#mCGSCA)" marker-mid="url(#mCGSCA)" marker-end="url(#mCGSCA)"/>
<path d="M38.1,453.1 44.8,454.8 52.4,456.8 60.1,459.4 68.8,462.5 77.6,466.9 80.4,467.9 88.6,474.9 97.3,481.8 105.9,487.0 114.5,491.3 123.2,493.9 130.0,495.3 140.4,496.5 150.0,497.4 160.0,498.2 221.4,498.6" fill="none" stroke="#00ee00" stroke-width="1.00" stroke-linejoin="round"/>
<path d="M38.1,453.1 129.3,495.2 146.1,497.0 155.9,497.9 162.9,498.2 168.3,498.3 172.7,498.3 176.4,498.3 179.6,498.3 182.5,498.3 185.0,498.4 187.3,498.4 189.4,498.4 191.4,498.4 193.2,498.4 194.8,498.4 196.4,498.4 197.9,498.4 199.2,498.5 200.6,498.5 201.8,498.5 203.0,498.5 204.1,498.5 205.2,498.5 206.2,498.5 207.2,498.5 208.1,498.5 209.1,498.5 209.9,498.5 210.8,498.5 211.6,498.5 212.4,498.5 213.2,498.5 213.9,498.6 214.6,498.6 215.3,498.6 216.0,498.6 216.7,498.6 217.3,498.6 218.0,498.6 218.6,498.6 219.2,498.6 219.7,498.6 220.3,498.6 220.9,498.6" fill="none" stroke="none" marker-start="url(#mGOTLBO)" marker-mid="url(#mGOTLBO)" marker-end="url(#mGOTLBO)"/>
<path d="M38.1,446.6 42.6,450.4 49.1,454.8 54.6,459.2 60.1,466.5 65.3,473.5 70.3,482.0 75.4,489.4 80.4,497.0 84.3,503.3 88.1,507.2 93.2,511.0 100.0,515.8 107.7,519.2 119.5,521.2 139.1,522.2 160.0,522.6 221.4,523.0" fill="none" stroke="#0000ff" stroke-width="1.20" stroke-linejoin="round"/>
<path d="M38.1,446.6 108.9,519.4 125.7,521.5 135.5,522.0 142.5,522.3 147.9,522.4 152.3,522.5 156.0,522.5 159.2,522.6 162.1,522.6 164.6,522.6 166.9,522.6 169.0,522.7 171.0,522.7 172.8,522.7 174.4,522.7 176.0,522.7 177.5,522.7 178.9,522.7 180.2,522.7 181.4,522.7 182.6,522.7 183.7,522.8 184.8,522.8 185.8,522.8 186.8,522.8 187.8,522.8 188.7,522.8 189.5,522.8 190.4,522.8 191.2,522.8 192.0,522.8 192.8,522.8 193.5,522.8 194.2,522.8 194.9,522.8 195.6,522.8 196.3,522.8 196.9,522.8 197.6,522.8 198.2,522.8 198.8,522.9 199.4,522.9 199.9,522.9 200.5,522.9 201.0,522.9 201.6,522.9 202.1,522.9 202.6,522.9 203.1,522.9 203.6,522.9 204.0,522.9 204.5,522.9 205.0,522.9 205.4,522.9 205.9,522.9 206.3,522.9 206.7,522.9 207.2,522.9 207.6,522.9 208.0,522.9 208.4,522.9 208.8,522.9 209.2,522.9 209.5,522.9 209.9,522.9 210.3,522.9 210.6,522.9 211.0,522.9 211.4,522.9 211.7,522.9 212.1,522.9 212.4,522.9 212.7,522.9 213.1,522.9 213.4,522.9 213.7,522.9 214.0,523.0 214.3,523.0 214.6,523.0 214.9,523.0 215.2,523.0 215.5,523.0 215.8,523.0 216.1,523.0 216.4,523.0 216.7,523.0 217.0,523.0 217.2,523.0 217.5,523.0 217.8,523.0 218.1,523.0 218.3,523.0 218.6,523.0 218.8,523.0 219.1,523.0 219.3,523.0 219.6,523.0 219.8,523.0 220.1,523.0 220.3,523.0 220.6,523.0 220.8,523.0 221.1,523.0 221.3,523.0" fill="none" stroke="none" marker-start="url(#mIRUN)" marker-mid="url(#mIRUN)" marker-end="url(#mIRUN)"/>
<path d="M38.1,432.5 46.9,437.3 57.9,442.8 64.4,446.1 68.8,450.4 74.3,456.5 80.1,462.5 86.0,468.2 88.6,470.5 95.7,478.0 100.0,483.6 104.2,490.4 111.1,498.2 119.7,506.0 126.6,511.2 137.0,516.4 150.0,519.8 160.0,520.6 190.0,521.8 221.4,522.6" fill="none" stroke="#ec8a12" stroke-width="1.00" stroke-linejoin="round"/>
<path d="M38.1,432.5 110.3,497.3 127.1,511.4 136.9,516.3 143.9,518.2 149.3,519.6 153.7,520.1 157.4,520.4 160.6,520.6 163.5,520.7 166.0,520.8 168.3,520.9 170.4,521.0 172.4,521.1 174.2,521.2 175.8,521.2 177.4,521.3 178.9,521.4 180.2,521.4 181.5,521.5 182.8,521.5 184.0,521.6 185.1,521.6 186.2,521.6 187.2,521.7 188.2,521.7 189.1,521.8 190.0,521.8 190.9,521.8 191.8,521.8 192.6,521.9 193.4,521.9 194.2,521.9 194.9,521.9 195.6,521.9 196.3,522.0 197.0,522.0 197.7,522.0 198.3,522.0 198.9,522.0 199.6,522.0 200.2,522.1 200.7,522.1 201.3,522.1 201.9,522.1 202.4,522.1 202.9,522.1 203.5,522.1 204.0,522.2 204.5,522.2 205.0,522.2 205.4,522.2 205.9,522.2 206.4,522.2 206.8,522.2 207.3,522.2 207.7,522.3 208.1,522.3 208.5,522.3 209.0,522.3 209.4,522.3 209.8,522.3 210.2,522.3 210.5,522.3 210.9,522.3 211.3,522.3 211.7,522.4 212.0,522.4 212.4,522.4 212.7,522.4 213.1,522.4 213.4,522.4 213.8,522.4 214.1,522.4 214.4,522.4 214.8,522.4 215.1,522.4 215.4,522.4 215.7,522.5 216.0,522.5 216.3,522.5 216.6,522.5 216.9,522.5 217.2,522.5 217.5,522.5 217.8,522.5 218.1,522.5 218.3,522.5 218.6,522.5 218.9,522.5 219.2,522.5 219.4,522.5 219.7,522.6 220.0,522.6 220.2,522.6 220.5,522.6 220.7,522.6 221.0,522.6 221.2,522.6" fill="none" stroke="none" marker-start="url(#mJADE)" marker-mid="url(#mJADE)" marker-end="url(#mJADE)"/>
<path d="M38.1,441.7 44.8,449.4 52.4,457.0 60.1,464.7 68.8,471.8 77.6,479.0 85.5,486.5 93.2,493.2 100.0,497.5 105.9,502.5 112.0,506.0 123.2,511.2 137.0,514.6 160.0,516.3 190.0,518.5 221.4,520.5" fill="none" stroke="#8080c0" stroke-width="1.00" stroke-linejoin="round"/>
<path d="M38.1,441.7 112.3,506.1 129.0,512.6 138.8,514.7 145.8,515.2 151.2,515.6 155.6,516.0 159.3,516.3 162.6,516.5 165.4,516.7 168.0,516.9 170.3,517.1 172.4,517.2 174.3,517.3 176.1,517.5 177.8,517.6 179.3,517.7 180.8,517.8 182.2,517.9 183.5,518.0 184.7,518.1 185.9,518.2 187.0,518.3 188.1,518.4 189.1,518.4 190.1,518.5 191.1,518.6 192.0,518.6 192.9,518.7 193.7,518.7 194.5,518.8 195.3,518.8 196.1,518.9 196.8,518.9 197.6,519.0 198.3,519.0 198.9,519.1 199.6,519.1 200.2,519.2 200.9,519.2 201.5,519.2 202.1,519.3 202.7,519.3 203.2,519.3 203.8,519.4 204.3,519.4 204.9,519.4 205.4,519.5 205.9,519.5 206.4,519.5 206.9,519.6 207.4,519.6 207.8,519.6 208.3,519.7 208.7,519.7 209.2,519.7 209.6,519.8 210.1,519.8 210.5,519.8 210.9,519.8 211.3,519.9 211.7,519.9 212.1,519.9 212.5,519.9 212.9,520.0 213.2,520.0 213.6,520.0 214.0,520.0 214.3,520.0 214.7,520.1 215.0,520.1 215.4,520.1 215.7,520.1 216.0,520.2 216.4,520.2 216.7,520.2 217.0,520.2 217.3,520.2 217.6,520.3 218.0,520.3 218.3,520.3 218.6,520.3 218.9,520.3 219.1,520.4 219.4,520.4 219.7,520.4 220.0,520.4 220.3,520.4 220.6,520.4 220.8,520.5 221.1,520.5 221.4,520.5" fill="none" stroke="none" marker-start="url(#mPGJAYA)" marker-mid="url(#mPGJAYA)" marker-end="url(#mPGJAYA)"/>
<path d="M38.1,453.8 46.9,455.9 57.9,459.2 68.8,462.5 77.6,465.2 86.0,468.0 90.4,469.7 100.7,472.3 111.1,475.8 123.2,480.9 131.8,484.4 139.6,487.5 150.0,491.3 155.0,494.5 159.6,497.6 164.2,502.2 168.8,506.0 173.4,509.8 178.0,512.9 182.6,515.2 188.7,516.7 197.9,518.2 208.6,520.5 221.4,523.3" fill="none" stroke="#008040" stroke-width="1.10" stroke-linejoin="round"/>
<path d="M38.1,453.8 122.7,480.7 139.4,487.4 149.3,491.0 156.2,495.3 161.6,499.6 166.0,503.7 169.7,506.8 173.0,509.5 175.8,511.4 178.4,513.1 180.7,514.2 182.8,515.2 184.7,515.7 186.5,516.2 188.2,516.6 189.7,516.9 191.2,517.1 192.6,517.3 193.9,517.5 195.1,517.8 196.3,517.9 197.4,518.1 198.5,518.3 199.6,518.6 200.5,518.8 201.5,519.0 202.4,519.2 203.3,519.4 204.1,519.5 205.0,519.7 205.7,519.9 206.5,520.1 207.3,520.2 208.0,520.4 208.7,520.5 209.4,520.7 210.0,520.8 210.7,521.0 211.3,521.1 211.9,521.2 212.5,521.4 213.1,521.5 213.7,521.6 214.2,521.7 214.8,521.8 215.3,522.0 215.8,522.1 216.3,522.2 216.8,522.3 217.3,522.4 217.8,522.5 218.3,522.6 218.7,522.7 219.2,522.8 219.6,522.9 220.0,523.0 220.5,523.1 220.9,523.2 221.3,523.3" fill="none" stroke="none" marker-start="url(#mRUN)" marker-mid="url(#mRUN)" marker-end="url(#mRUN)"/>
<text x="124.50" y="423.00" font-size="7.0" font-weight="bold" textLength="10.5" lengthAdjust="spacingAndGlyphs">F28</text>
<text x="122.30" y="542.20" font-size="7.4" font-weight="bold" textLength="14.9" lengthAdjust="spacingAndGlyphs">NFE</text>
<text transform="translate(16.50,474.30) rotate(-90)" x="-27.75" font-size="7.2" font-weight="bold" textLength="55.5" lengthAdjust="spacingAndGlyphs">Objective function</text>
<rect x="260.2" y="425.0" width="183.8" height="99.29999999999995" fill="none" stroke="#555" stroke-width="0.9"/>
<path d="M260.20,524.3v-2.0 M260.20,425.0v2.0" stroke="#000" stroke-width="0.6"/>
<text x="260.20" y="532.30" text-anchor="middle" font-size="6.0" font-weight="bold">0</text>
<path d="M280.62,524.3v-2.0 M280.62,425.0v2.0" stroke="#000" stroke-width="0.6"/>
<text x="280.62" y="532.30" text-anchor="middle" font-size="6.0" font-weight="bold">2</text>
<path d="M301.04,524.3v-2.0 M301.04,425.0v2.0" stroke="#000" stroke-width="0.6"/>
<text x="301.04" y="532.30" text-anchor="middle" font-size="6.0" font-weight="bold">4</text>
<path d="M321.47,524.3v-2.0 M321.47,425.0v2.0" stroke="#000" stroke-width="0.6"/>
<text x="321.47" y="532.30" text-anchor="middle" font-size="6.0" font-weight="bold">6</text>
<path d="M341.89,524.3v-2.0 M341.89,425.0v2.0" stroke="#000" stroke-width="0.6"/>
<text x="341.89" y="532.30" text-anchor="middle" font-size="6.0" font-weight="bold">8</text>
<path d="M362.31,524.3v-2.0 M362.31,425.0v2.0" stroke="#000" stroke-width="0.6"/>
<text x="362.31" y="532.30" text-anchor="middle" font-size="6.0" font-weight="bold">10</text>
<path d="M382.73,524.3v-2.0 M382.73,425.0v2.0" stroke="#000" stroke-width="0.6"/>
<text x="382.73" y="532.30" text-anchor="middle" font-size="6.0" font-weight="bold">12</text>
<path d="M403.16,524.3v-2.0 M403.16,425.0v2.0" stroke="#000" stroke-width="0.6"/>
<text x="403.16" y="532.30" text-anchor="middle" font-size="6.0" font-weight="bold">14</text>
<path d="M423.58,524.3v-2.0 M423.58,425.0v2.0" stroke="#000" stroke-width="0.6"/>
<text x="423.58" y="532.30" text-anchor="middle" font-size="6.0" font-weight="bold">16</text>
<path d="M444.00,524.3v-2.0 M444.00,425.0v2.0" stroke="#000" stroke-width="0.6"/>
<text x="444.00" y="532.30" text-anchor="middle" font-size="6.0" font-weight="bold">18</text>
<path d="M260.2,451.00h2 M444.0,451.00h-2" stroke="#000" stroke-width="0.6"/>
<text x="255.30" y="454.00" text-anchor="end" font-size="5.6" font-weight="bold">10</text>
<text x="255.60" y="450.40" font-size="4" font-weight="bold">8</text>
<path d="M260.2,485.20h2 M444.0,485.20h-2" stroke="#000" stroke-width="0.6"/>
<text x="255.30" y="488.20" text-anchor="end" font-size="5.6" font-weight="bold">10</text>
<text x="255.60" y="484.60" font-size="4" font-weight="bold">6</text>
<path d="M260.2,519.60h2 M444.0,519.60h-2" stroke="#000" stroke-width="0.6"/>
<text x="255.30" y="522.60" text-anchor="end" font-size="5.6" font-weight="bold">10</text>
<text x="255.60" y="519.00" font-size="4" font-weight="bold">4</text>
<path d="M260.2,519.60h1.3 M444.0,519.60h-1.3" stroke="#000" stroke-width="0.5"/>
<path d="M260.2,502.50h1.3 M444.0,502.50h-1.3" stroke="#000" stroke-width="0.5"/>
<path d="M260.2,485.40h1.3 M444.0,485.40h-1.3" stroke="#000" stroke-width="0.5"/>
<path d="M260.2,468.30h1.3 M444.0,468.30h-1.3" stroke="#000" stroke-width="0.5"/>
<path d="M260.2,451.20h1.3 M444.0,451.20h-1.3" stroke="#000" stroke-width="0.5"/>
<path d="M260.2,434.10h1.3 M444.0,434.10h-1.3" stroke="#000" stroke-width="0.5"/>
<path d="M260.2,426.0 261.5,440.0 262.5,455.0 263.2,465.5 264.5,475.9 265.9,483.8 267.8,491.6 269.8,498.2 272.4,504.7 276.3,510.0 281.6,512.6 288.1,514.6 298.0,516.5 316.2,517.8 350.0,520.5 390.0,521.4 444.0,521.8" fill="none" stroke="#ff0000" stroke-width="0.80" stroke-linejoin="round"/>
<path d="M260.2,426.0 261.9,446.5 263.7,469.3 265.4,481.0 267.1,488.9 268.9,495.2 270.6,500.2 272.4,504.6 274.1,507.0 275.8,509.4 277.6,510.6 279.3,511.5 281.0,512.3 282.8,513.0 284.5,513.5 286.2,514.0 288.0,514.6 289.7,514.9 291.4,515.2 293.2,515.6 294.9,515.9 296.7,516.2 298.4,516.5 300.1,516.7 301.9,516.8 303.6,516.9 305.3,517.0 307.1,517.1 308.8,517.3 310.5,517.4 312.3,517.5 314.0,517.6 315.7,517.8 317.5,517.9 319.2,518.0 321.0,518.2 322.7,518.3 324.4,518.5 326.2,518.6 327.9,518.7 329.6,518.9 331.4,519.0 333.1,519.2 334.8,519.3 336.6,519.4 338.3,519.6 340.1,519.7 341.8,519.8 343.5,520.0 345.3,520.1 347.0,520.3 348.7,520.4 350.5,520.5 352.2,520.5 353.9,520.6 355.7,520.6 357.4,520.7 359.1,520.7 360.9,520.7 362.6,520.8 364.4,520.8 366.1,520.9 367.8,520.9 369.6,520.9 371.3,521.0 373.0,521.0 374.8,521.1 376.5,521.1 378.2,521.1 380.0,521.2 381.7,521.2 383.4,521.3 385.2,521.3 386.9,521.3 388.7,521.4 390.4,521.4 392.1,521.4 393.9,521.4 395.6,521.4 397.3,521.5 399.1,521.5 400.8,521.5 402.5,521.5 404.3,521.5 406.0,521.5 407.8,521.5 409.5,521.5 411.2,521.6 413.0,521.6 414.7,521.6 416.4,521.6 418.2,521.6 419.9,521.6 421.6,521.6 423.4,521.6 425.1,521.7 426.8,521.7 428.6,521.7 430.3,521.7 432.1,521.7 433.8,521.7 435.5,521.7 437.3,521.8 439.0,521.8 440.7,521.8 442.5,521.8" fill="none" stroke="none" marker-start="url(#mADEPSO)" marker-mid="url(#mADEPSO)" marker-end="url(#mADEPSO)"/>
<path d="M260.2,425.2 261.5,431.0 262.3,445.0 263.2,457.6 265.9,468.1 268.5,474.6 271.1,483.8 273.7,491.6 276.3,498.2 278.9,503.4 282.9,508.7 290.0,513.3 296.6,516.0 303.1,518.5 316.2,520.6 350.0,522.5 444.0,523.6" fill="none" stroke="#00ffff" stroke-width="0.80" stroke-linejoin="round"/>
<path d="M260.2,425.2 262.1,441.3 264.0,460.6 265.9,468.0 267.8,472.7 269.6,478.7 271.5,485.1 273.4,490.8 275.3,495.7 277.2,500.0 279.1,503.7 281.0,506.2 282.9,508.7 284.8,509.9 286.6,511.1 288.5,512.4 290.4,513.5 292.3,514.2 294.2,515.0 296.1,515.8 298.0,516.5 299.9,517.3 301.8,518.0 303.6,518.6 305.5,518.9 307.4,519.2 309.3,519.5 311.2,519.8 313.1,520.1 315.0,520.4 316.9,520.6 318.8,520.7 320.6,520.9 322.5,521.0 324.4,521.1 326.3,521.2 328.2,521.3 330.1,521.4 332.0,521.5 333.9,521.6 335.8,521.7 337.7,521.8 339.5,521.9 341.4,522.0 343.3,522.1 345.2,522.2 347.1,522.3 349.0,522.4 350.9,522.5 352.8,522.5 354.7,522.6 356.5,522.6 358.4,522.6 360.3,522.6 362.2,522.6 364.1,522.7 366.0,522.7 367.9,522.7 369.8,522.7 371.7,522.8 373.5,522.8 375.4,522.8 377.3,522.8 379.2,522.8 381.1,522.9 383.0,522.9 384.9,522.9 386.8,522.9 388.7,523.0 390.5,523.0 392.4,523.0 394.3,523.0 396.2,523.0 398.1,523.1 400.0,523.1 401.9,523.1 403.8,523.1 405.7,523.2 407.5,523.2 409.4,523.2 411.3,523.2 413.2,523.2 415.1,523.3 417.0,523.3 418.9,523.3 420.8,523.3 422.7,523.4 424.5,523.4 426.4,523.4 428.3,523.4 430.2,523.4 432.1,523.5 434.0,523.5 435.9,523.5 437.8,523.5 439.7,523.5 441.5,523.6 443.4,523.6" fill="none" stroke="none" marker-start="url(#mATLDE)" marker-mid="url(#mATLDE)" marker-end="url(#mATLDE)"/>
<path d="M260.2,448.9 261.5,463.6 263.7,470.2 267.2,473.3 271.1,476.6 277.6,479.2 284.2,481.2 290.7,482.5 304.1,483.5 325.0,483.9 390.0,485.8 444.0,486.3" fill="none" stroke="#ff00ff" stroke-width="0.80" stroke-linejoin="round"/>
<path d="M260.2,448.9 262.1,465.5 264.1,470.5 266.0,472.3 268.0,473.9 269.9,475.6 271.8,476.9 273.8,477.7 275.7,478.4 277.7,479.2 279.6,479.8 281.5,480.4 283.5,481.0 285.4,481.4 287.4,481.8 289.3,482.2 291.2,482.5 293.2,482.7 295.1,482.8 297.1,483.0 299.0,483.1 300.9,483.3 302.9,483.4 304.8,483.5 306.8,483.6 308.7,483.6 310.6,483.6 312.6,483.7 314.5,483.7 316.5,483.7 318.4,483.8 320.3,483.8 322.3,483.8 324.2,483.9 326.2,483.9 328.1,484.0 330.0,484.0 332.0,484.1 333.9,484.2 335.9,484.2 337.8,484.3 339.7,484.3 341.7,484.4 343.6,484.4 345.6,484.5 347.5,484.6 349.4,484.6 351.4,484.7 353.3,484.7 355.3,484.8 357.2,484.8 359.1,484.9 361.1,485.0 363.0,485.0 365.0,485.1 366.9,485.1 368.8,485.2 370.8,485.2 372.7,485.3 374.7,485.4 376.6,485.4 378.5,485.5 380.5,485.5 382.4,485.6 384.4,485.6 386.3,485.7 388.2,485.7 390.2,485.8 392.1,485.8 394.1,485.8 396.0,485.9 397.9,485.9 399.9,485.9 401.8,485.9 403.8,485.9 405.7,485.9 407.6,486.0 409.6,486.0 411.5,486.0 413.5,486.0 415.4,486.0 417.3,486.1 419.3,486.1 421.2,486.1 423.2,486.1 425.1,486.1 427.0,486.1 429.0,486.2 430.9,486.2 432.9,486.2 434.8,486.2 436.8,486.2 438.7,486.3 440.6,486.3 442.6,486.3" fill="none" stroke="none" marker-start="url(#mCGSCA)" marker-mid="url(#mCGSCA)" marker-end="url(#mCGSCA)"/>
<path d="M260.2,427.9 261.9,449.5 262.6,458.2 264.8,466.9 267.0,471.3 271.4,473.4 276.8,474.2 294.3,475.3 444.0,475.7" fill="none" stroke="#00ee00" stroke-width="0.60" stroke-linejoin="round"/>
<path d="M260.2,427.9 264.2,464.7 268.3,471.9 272.3,473.5 276.3,474.1 280.4,474.4 284.4,474.7 288.4,474.9 292.5,475.2 296.5,475.3 300.5,475.3 304.6,475.3 308.6,475.3 312.6,475.3 316.7,475.4 320.7,475.4 324.7,475.4 328.8,475.4 332.8,475.4 336.8,475.4 340.9,475.4 344.9,475.4 348.9,475.4 353.0,475.5 357.0,475.5 361.0,475.5 365.1,475.5 369.1,475.5 373.1,475.5 377.2,475.5 381.2,475.5 385.2,475.5 389.3,475.6 393.3,475.6 397.3,475.6 401.4,475.6 405.4,475.6 409.4,475.6 413.5,475.6 417.5,475.6 421.5,475.6 425.6,475.7 429.6,475.7 433.6,475.7 437.7,475.7 441.7,475.7" fill="none" stroke="none" marker-start="url(#mGOTLBO)" marker-mid="url(#mGOTLBO)" marker-end="url(#mGOTLBO)"/>
<path d="M260.2,453.4 261.5,460.0 262.5,475.0 263.0,494.0 263.5,512.6 264.5,520.5 268.5,521.8 298.0,523.0 444.0,524.0" fill="none" stroke="#0000ff" stroke-width="1.00" stroke-linejoin="round"/>
<path d="M260.2,453.4 261.9,466.5 263.7,514.0 265.4,520.8 267.1,521.4 268.9,521.8 270.6,521.9 272.4,522.0 274.1,522.0 275.8,522.1 277.6,522.2 279.3,522.2 281.0,522.3 282.8,522.4 284.5,522.5 286.2,522.5 288.0,522.6 289.7,522.7 291.4,522.7 293.2,522.8 294.9,522.9 296.7,522.9 298.4,523.0 300.1,523.0 301.9,523.0 303.6,523.0 305.3,523.1 307.1,523.1 308.8,523.1 310.5,523.1 312.3,523.1 314.0,523.1 315.7,523.1 317.5,523.1 319.2,523.1 321.0,523.2 322.7,523.2 324.4,523.2 326.2,523.2 327.9,523.2 329.6,523.2 331.4,523.2 333.1,523.2 334.8,523.3 336.6,523.3 338.3,523.3 340.1,523.3 341.8,523.3 343.5,523.3 345.3,523.3 347.0,523.3 348.7,523.3 350.5,523.4 352.2,523.4 353.9,523.4 355.7,523.4 357.4,523.4 359.1,523.4 360.9,523.4 362.6,523.4 364.4,523.5 366.1,523.5 367.8,523.5 369.6,523.5 371.3,523.5 373.0,523.5 374.8,523.5 376.5,523.5 378.2,523.5 380.0,523.6 381.7,523.6 383.4,523.6 385.2,523.6 386.9,523.6 388.7,523.6 390.4,523.6 392.1,523.6 393.9,523.7 395.6,523.7 397.3,523.7 399.1,523.7 400.8,523.7 402.5,523.7 404.3,523.7 406.0,523.7 407.8,523.8 409.5,523.8 411.2,523.8 413.0,523.8 414.7,523.8 416.4,523.8 418.2,523.8 419.9,523.8 421.6,523.8 423.4,523.9 425.1,523.9 426.8,523.9 428.6,523.9 430.3,523.9 432.1,523.9 433.8,523.9 435.5,523.9 437.3,524.0 439.0,524.0 440.7,524.0 442.5,524.0" fill="none" stroke="none" marker-start="url(#mIRUN)" marker-mid="url(#mIRUN)" marker-end="url(#mIRUN)"/>
<path d="M260.2,425.2 261.0,431.0 262.0,450.0 263.2,461.0 265.1,470.7 267.5,476.6 269.8,483.7 272.2,489.6 274.6,495.5 276.9,501.4 279.3,507.3 282.9,513.3 287.6,519.2 292.3,522.1 298.0,522.8 350.0,523.6 444.0,524.2" fill="none" stroke="#ec8a12" stroke-width="0.80" stroke-linejoin="round"/>
<path d="M260.2,425.2 262.0,450.3 263.9,464.5 265.7,472.2 267.6,476.8 269.4,482.4 271.2,487.2 273.1,491.7 274.9,496.3 276.7,501.0 278.6,505.5 280.4,509.2 282.3,512.2 284.1,514.8 285.9,517.1 287.8,519.3 289.6,520.4 291.4,521.6 293.3,522.2 295.1,522.4 297.0,522.7 298.8,522.8 300.6,522.8 302.5,522.9 304.3,522.9 306.1,522.9 308.0,523.0 309.8,523.0 311.7,523.0 313.5,523.0 315.3,523.1 317.2,523.1 319.0,523.1 320.9,523.2 322.7,523.2 324.5,523.2 326.4,523.2 328.2,523.3 330.0,523.3 331.9,523.3 333.7,523.3 335.6,523.4 337.4,523.4 339.2,523.4 341.1,523.5 342.9,523.5 344.7,523.5 346.6,523.5 348.4,523.6 350.3,523.6 352.1,523.6 353.9,523.6 355.8,523.6 357.6,523.6 359.5,523.7 361.3,523.7 363.1,523.7 365.0,523.7 366.8,523.7 368.6,523.7 370.5,523.7 372.3,523.7 374.2,523.8 376.0,523.8 377.8,523.8 379.7,523.8 381.5,523.8 383.3,523.8 385.2,523.8 387.0,523.8 388.9,523.8 390.7,523.9 392.5,523.9 394.4,523.9 396.2,523.9 398.1,523.9 399.9,523.9 401.7,523.9 403.6,523.9 405.4,524.0 407.2,524.0 409.1,524.0 410.9,524.0 412.8,524.0 414.6,524.0 416.4,524.0 418.3,524.0 420.1,524.0 421.9,524.1 423.8,524.1 425.6,524.1 427.5,524.1 429.3,524.1 431.1,524.1 433.0,524.1 434.8,524.1 436.6,524.2 438.5,524.2 440.3,524.2 442.2,524.2 444.0,524.2" fill="none" stroke="none" marker-start="url(#mJADE)" marker-mid="url(#mJADE)" marker-end="url(#mJADE)"/>
<path d="M260.2,426.0 261.5,440.0 262.6,460.0 263.9,474.6 265.9,489.0 268.5,500.8 272.4,508.7 277.6,512.6 284.2,514.6 298.0,516.3 350.0,518.5 444.0,519.8" fill="none" stroke="#8080c0" stroke-width="0.60" stroke-linejoin="round"/>
<path d="M260.2,426.0 262.2,452.6 264.2,476.6 266.2,490.2 268.2,499.3 270.2,504.2 272.1,508.2 274.1,510.0 276.1,511.5 278.1,512.8 280.1,513.4 282.1,514.0 284.1,514.6 286.1,514.8 288.1,515.1 290.1,515.3 292.1,515.6 294.0,515.8 296.0,516.1 298.0,516.3 300.0,516.4 302.0,516.5 304.0,516.6 306.0,516.6 308.0,516.7 310.0,516.8 312.0,516.9 314.0,517.0 316.0,517.1 317.9,517.1 319.9,517.2 321.9,517.3 323.9,517.4 325.9,517.5 327.9,517.6 329.9,517.6 331.9,517.7 333.9,517.8 335.9,517.9 337.9,518.0 339.8,518.1 341.8,518.2 343.8,518.2 345.8,518.3 347.8,518.4 349.8,518.5 351.8,518.5 353.8,518.6 355.8,518.6 357.8,518.6 359.8,518.6 361.7,518.7 363.7,518.7 365.7,518.7 367.7,518.7 369.7,518.8 371.7,518.8 373.7,518.8 375.7,518.9 377.7,518.9 379.7,518.9 381.7,518.9 383.7,519.0 385.6,519.0 387.6,519.0 389.6,519.0 391.6,519.1 393.6,519.1 395.6,519.1 397.6,519.2 399.6,519.2 401.6,519.2 403.6,519.2 405.6,519.3 407.5,519.3 409.5,519.3 411.5,519.4 413.5,519.4 415.5,519.4 417.5,519.4 419.5,519.5 421.5,519.5 423.5,519.5 425.5,519.5 427.5,519.6 429.4,519.6 431.4,519.6 433.4,519.7 435.4,519.7 437.4,519.7 439.4,519.7 441.4,519.8 443.4,519.8" fill="none" stroke="none" marker-start="url(#mPGJAYA)" marker-mid="url(#mPGJAYA)" marker-end="url(#mPGJAYA)"/>
<path d="M260.2,427.6 261.5,436.4 263.7,442.9 267.0,448.4 271.4,453.8 276.8,459.3 282.3,463.6 286.4,466.2 294.3,468.1 304.1,469.5 313.9,470.7 320.0,472.1 329.8,474.0 339.6,476.0 349.5,478.9 357.3,481.9 363.2,485.8 369.1,490.7 375.0,494.7 380.9,497.0 385.0,498.3 390.4,499.7 395.9,503.1 405.4,505.8 412.1,507.1 425.7,508.8 444.0,510.9" fill="none" stroke="#008040" stroke-width="0.90" stroke-linejoin="round"/>
<path d="M260.2,427.6 263.3,441.6 266.3,447.3 269.4,451.3 272.5,454.9 275.5,458.0 278.6,460.7 281.6,463.1 284.7,465.1 287.8,466.5 290.8,467.3 293.9,468.0 297.0,468.5 300.0,468.9 303.1,469.4 306.1,469.8 309.2,470.1 312.3,470.5 315.3,471.0 318.4,471.7 321.5,472.4 324.5,473.0 327.6,473.6 330.7,474.2 333.7,474.8 336.8,475.4 339.8,476.1 342.9,477.0 346.0,477.9 349.0,478.8 352.1,479.9 355.2,481.1 358.2,482.5 361.3,484.5 364.4,486.8 367.4,489.3 370.5,491.6 373.5,493.7 376.6,495.3 379.7,496.5 382.7,497.6 385.8,498.5 388.9,499.3 391.9,500.6 395.0,502.5 398.1,503.7 401.1,504.6 404.2,505.5 407.2,506.2 410.3,506.8 413.4,507.3 416.4,507.6 419.5,508.0 422.6,508.4 425.6,508.8 428.7,509.1 431.7,509.5 434.8,509.8 437.9,510.2 440.9,510.5 444.0,510.9" fill="none" stroke="none" marker-start="url(#mRUN)" marker-mid="url(#mRUN)" marker-end="url(#mRUN)"/>
<text x="346.85" y="422.80" font-size="7.0" font-weight="bold" textLength="10.5" lengthAdjust="spacingAndGlyphs">F30</text>
<text x="344.65" y="540.80" font-size="7.4" font-weight="bold" textLength="14.9" lengthAdjust="spacingAndGlyphs">NFE</text>
<path d="M431.90,539.10l3,3m0,-3l-3,3" stroke="#222" stroke-width="0.75"/>
<text x="435.50" y="542.60" font-size="5.8" font-weight="bold">10</text>
<text x="441.20" y="538.70" font-size="4" font-weight="bold">4</text>
<text transform="translate(245.70,474.65) rotate(-90)" x="-27.75" font-size="7.2" font-weight="bold" textLength="55.5" lengthAdjust="spacingAndGlyphs">Objective function</text>
<rect x="392.5" y="430.3" width="46.0" height="56.69999999999999" fill="#fff" stroke="#000" stroke-width="0.6"/>
<path d="M394.6,434.60H410.3" stroke="#ff0000" stroke-width="0.7"/>
<path d="M402.4,434.60h0.01" stroke="none" marker-start="url(#mADEPSO)"/>
<text x="412" y="436.55" font-size="5.7" font-weight="bold">ADEPSO</text>
<path d="M394.6,441.54H410.3" stroke="#00ffff" stroke-width="0.7"/>
<path d="M402.4,441.54h0.01" stroke="none" marker-start="url(#mATLDE)"/>
<text x="412" y="443.49" font-size="5.7" font-weight="bold">ATLDE</text>
<path d="M394.6,448.48H410.3" stroke="#ff00ff" stroke-width="0.7"/>
<path d="M402.4,448.48h0.01" stroke="none" marker-start="url(#mCGSCA)"/>
<text x="412" y="450.43" font-size="5.7" font-weight="bold">CGSCA</text>
<path d="M394.6,455.42H410.3" stroke="#00ee00" stroke-width="0.7"/>
<path d="M402.4,455.42h0.01" stroke="none" marker-start="url(#mGOTLBO)"/>
<text x="412" y="457.37" font-size="5.7" font-weight="bold">GOTLBO</text>
<path d="M394.6,462.36H410.3" stroke="#0000ff" stroke-width="0.7"/>
<path d="M402.4,462.36h0.01" stroke="none" marker-start="url(#mIRUN)"/>
<text x="412" y="464.31" font-size="5.7" font-weight="bold">IRUN</text>
<path d="M394.6,469.30H410.3" stroke="#ec8a12" stroke-width="0.7"/>
<path d="M402.4,469.30h0.01" stroke="none" marker-start="url(#mJADE)"/>
<text x="412" y="471.25" font-size="5.7" font-weight="bold">JADE</text>
<path d="M394.6,476.24H410.3" stroke="#8080c0" stroke-width="0.7"/>
<path d="M402.4,476.24h0.01" stroke="none" marker-start="url(#mPGJAYA)"/>
<text x="412" y="478.19" font-size="5.7" font-weight="bold">PGJAYA</text>
<path d="M394.6,483.18H410.3" stroke="#008040" stroke-width="0.7"/>
<path d="M402.4,483.18h0.01" stroke="none" marker-start="url(#mRUN)"/>
<text x="412" y="485.13" font-size="5.7" font-weight="bold">RUN</text>
</svg>
</body></html>
